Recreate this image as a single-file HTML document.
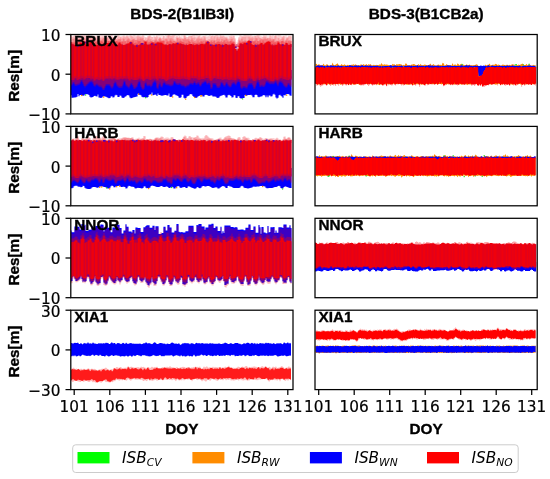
<!DOCTYPE html><html><head><meta charset="utf-8"><style>html,body{margin:0;padding:0;background:#fff}svg{display:block;filter:blur(0.35px)}</style></head><body><svg width="550" height="479" viewBox="0 0 550 479"><rect width="550" height="479" fill="#fff"/><defs><clipPath id="c00"><rect x="70.8" y="34.5" width="222.2" height="79.4"/></clipPath><clipPath id="c01"><rect x="70.8" y="126.4" width="222.2" height="79.4"/></clipPath><clipPath id="c02"><rect x="70.8" y="218.3" width="222.2" height="79.4"/></clipPath><clipPath id="c03"><rect x="70.8" y="310.2" width="222.2" height="79.4"/></clipPath><clipPath id="c10"><rect x="315.0" y="34.5" width="222.2" height="79.4"/></clipPath><clipPath id="c11"><rect x="315.0" y="126.4" width="222.2" height="79.4"/></clipPath><clipPath id="c12"><rect x="315.0" y="218.3" width="222.2" height="79.4"/></clipPath><clipPath id="c13"><rect x="315.0" y="310.2" width="222.2" height="79.4"/></clipPath></defs><g clip-path="url(#c00)"><path fill="none" stroke="#f0000c" stroke-width="1.15" stroke-opacity="0.2" d="M71 34.6v12.4m1-9.8v9.8m1-10.1v10.1m1-11.5v11.5m1-11.9v11.9m1-11.4v11.4m1-11.4v11.4m1-12.4v12.4m1-11v11m1-8.8v8.8m1-9.4v9.4m1-12.3v12.3m1-11.1v11.1m1-12.2v12.2m1-11.7v11.7m1-11.6v11.6m1-10.9v10.9m1-12.1v12.1m1-12.2v12.2m1-11.1v11.1m1-10.8v10.8m1-9.5v9.5m1-11.7v11.7m1-11.2v11.2m1-8.7v8.7m1-10.9v10.9m1-11.6v11.6m1-10.1v10.1m1-9.5v9.5m1-12.4v12.4m1-10.7v10.7m1-12v12m1-11v11m1-11.7v11.7m1-11.1v11.1m1-11.9v11.9m1-11.4v11.4m1-10.4v10.4m1-12.1v12.1m1-10.9v10.9m1-11.8v11.8m1-12v12m1-10.3v10.3m1-9.9v9.9m1-11.2v11.2m1-10.8v10.8m1-9v9m1-12.2v12.2m1-11.4v11.4m1-11v11m1-9.7v9.7m1-10.9v10.9m1-11.2v11.2m1-11.7v11.7m1-10.6v10.6m1-9.8v9.8m1-11.3v11.3m1-11.3v11.3m1-9v9m1-11.8v11.8m1-12v12m1-10.9v10.9m1-11.6v11.6m1-12.5v12.5m1-11.8v11.8m1-10.7v10.7m1-11.3v11.3m1-12.3v12.3m1-11.5v11.5m1-11.5v11.5m1-10.3v10.3m1-11.3v11.3m1-12.1v12.1m1-11.2v11.2m1-10v10m1-8.9v8.9m1-9.4v9.4m1-10.7v10.7m1-11.6v11.6m1-12.3v12.3m1-10.5v10.5m1-10v10m1-10v10m1-11.4v11.4m1-9.9v9.9m1-9.3v9.3m1-11.9v11.9m1-9.9v9.9m1-12v12m1-9.5v9.5m1-8.5v8.5m1-8.9v8.9m1-11.4v11.4m1-11.1v11.1m1-9.3v9.3m1-11.7v11.7m1-11v11m1-11.9v11.9m1-12.5v12.5m1-12.1v12.1m1-11v11m1-11.7v11.7m1-11.9v11.9m1-12.3v12.3m1-12.1v12.1m1-9.9v9.9m1-11.5v11.5m1-10.1v10.1m1-12.1v12.1m1-9.6v9.6m1-9.8v9.8m1-11.4v11.4m1-8.3v8.3m1-12.4v12.4m1-11.6v11.6m1-9.6v9.6m1-9.9v9.9m1-7.4v7.4m1-10.9v10.9m1-11.2v11.2m1-11.3v11.3m1-10.8v10.8m1-12v12m1-11.8v11.8m1-12.1v12.1m1-10.3v10.3m1-12.5v12.5m1-10.7v10.7m1-11.7v11.7m1-11.8v11.8m1-8.2v8.2m1-9.6v9.6m1-10.9v10.9m1-11.3v11.3m1-11.3v11.3m1-11.4v11.4m1-9.9v9.9m1-10.9v10.9m1-10.5v10.5m1-12.3v12.3m1-11.1v11.1m1-11v11m1-11.5v11.5m1-10.2v10.2m1-11.4v11.4m1-12.3v12.3m1-12v12m1-11.8v11.8m1-8.7v8.7m1-12.4v12.4m1-12v12m1-10.3v10.3m1-11.3v11.3m1-11.2v11.2m1-11.1v11.1m1-8.5v8.5m1-11v11m1-8.8v8.8m1-8.2v8.2m1-10.9v10.9m1-11.7v11.7m1-11.6v11.6m1-11.4v11.4m1-11.4v11.4m1-9v9m1-5.2v5.2m1-0.3v0.3m1-6.8v6.8m1-9.5v9.5m1-12.2v12.2m1-11.6v11.6m1-11.3v11.3m1-10.9v10.9m1-11.9v11.9m1-11.9v11.9m1-12.3v12.3m1-11.6v11.6m1-12.2v12.2m1-11.5v11.5m1-11.7v11.7m1-12.5v12.5m1-11.3v11.3m1-9.8v9.8m1-10.7v10.7m1-11v11m1-11v11m1-12.1v12.1m1-11.4v11.4m1-11.9v11.9m1-11.4v11.4m1-10.4v10.4m1-10.8v10.8m1-9.9v9.9m1-12.4v12.4m1-10.2v10.2m1-12.5v12.5m1-9.4v9.4m1-8.9v8.9m1-9.5v9.5m1-11.5v11.5m1-11.4v11.4m1-9.6v9.6m1-11.9v11.9m1-10.5v10.5m1-11.6v11.6m1-12v12m1-10.6v10.6m1-12.2v12.2m1-11.8v11.8m1-12.2v12.2m1-11.2v11.2m1-10.6v10.6m1-10.9v10.9m1-11.5v11.5m1-10.3v10.3m1-11.8v11.8m1-9.1v9.1m1-10.6v10.6m1-11.5v11.5m1-11.1v11.1m1-11.6v11.6"/><path fill="none" stroke="#f0000c" stroke-width="1.15" stroke-opacity="0.2" d="M71 35.9v11.1m1-11.2v11.2m1-4.5v4.5m1-10.9v10.9m1-8.4v8.4m1-9.4v9.4m1-7.1v7.1m1-7v7m1-8.7v8.7m1-9v9m1-6.5v6.5m1-11.4v11.4m1-8.2v8.2m1-10.7v10.7m1-5.8v5.8m1-11.1v11.1m1-10.2v10.2m1-10.2v10.2m1-10.6v10.6m1-9.8v9.8m1-8.9v8.9m1-7.1v7.1m1-10.8v10.8m1-10.9v10.9m1-10.4v10.4m1-8.5v8.5m1-6.3v6.3m1-10.3v10.3m1-9.4v9.4m1-8.7v8.7m1-9.4v9.4m1-8.4v8.4m1-10.3v10.3m1-9.3v9.3m1-5.4v5.4m1-9.1v9.1m1-9.6v9.6m1-9.7v9.7m1-7.7v7.7m1-10.4v10.4m1-9.8v9.8m1-6.9v6.9m1-7.8v7.8m1-10v10m1-11.5v11.5m1-7.9v7.9m1-7.8v7.8m1-10.5v10.5m1-8v8m1-9.7v9.7m1-10.2v10.2m1-5.8v5.8m1-9.4v9.4m1-10.7v10.7m1-9.6v9.6m1-11v11m1-11.4v11.4m1-10.1v10.1m1-10.9v10.9m1-8v8m1-11.1v11.1m1-10.6v10.6m1-9.9v9.9m1-8.3v8.3m1-9.4v9.4m1-6.9v6.9m1-10.5v10.5m1-10.7v10.7m1-10.5v10.5m1-10.1v10.1m1-10.7v10.7m1-9.5v9.5m1-10.7v10.7m1-6.8v6.8m1-7.5v7.5m1-10v10m1-6.8v6.8m1-10.8v10.8m1-10.4v10.4m1-11v11m1-8.1v8.1m1-10.3v10.3m1-0.6v0.6m1-7.7v7.7m1-10.5v10.5m1-10.6v10.6m1-10.9v10.9m1-6.1v6.1m1-8v8m1-10.1v10.1m1-11.4v11.4m1-6.6v6.6m1-9.4v9.4m1-11v11m1-2.8v2.8m1-9.2v9.2m1-8.8v8.8m1-11.4v11.4m1-11.4v11.4m1-9v9m1-11.1v11.1m1-9.2v9.2m1-10.9v10.9m1-3.6v3.6m1-7.7v7.7m1-3.2v3.2m1-11.1v11.1m1-8.9v8.9m1-9.6v9.6m1-11v11m1-5.7v5.7m1-8.7v8.7m1-8.8v8.8m1-10.9v10.9m1-11.4v11.4m1-10.5v10.5m1-7.6v7.6m1-9.9v9.9m1-10.4v10.4m1-7.7v7.7m1-10.9v10.9m1-11.3v11.3m1-9.1v9.1m1-9.8v9.8m1-9.6v9.6m1-3.1v3.1m1-8.4v8.4m1-9.8v9.8m1-10.9v10.9m1-8.4v8.4m1-10.2v10.2m1-10.4v10.4m1-4.1v4.1m1-10.8v10.8m1-9.9v9.9m1-6.7v6.7m1-6v6m1-7.2v7.2m1-8v8m1-4.9v4.9m1-9.8v9.8m1-11.4v11.4m1-8.6v8.6m1-11.1v11.1m1-10.8v10.8m1-7v7m1-10.2v10.2m1-10.2v10.2m1-10.5v10.5m1-10.1v10.1m1-11.1v11.1m1-10.5v10.5m1-11.5v11.5m1-9.2v9.2m1-10v10m1-9.9v9.9m1-9.7v9.7m1-6.3v6.3m1-11.2v11.2m1-8.5v8.5m1-10.3v10.3m1-9.8v9.8m1-9.3v9.3m1-11.1v11.1m1-7.7v7.7m1-2.7v2.7m2-4.3v4.3m1-9.7v9.7m1-6.7v6.7m1-4.4v4.4m1-10.2v10.2m1-9.9v9.9m1-10.2v10.2m1-10v10m1-10.4v10.4m1-6.8v6.8m1-10.4v10.4m1-10.2v10.2m1-10.4v10.4m1-9.2v9.2m1-9.9v9.9m1-10.9v10.9m1-9.1v9.1m1-11.4v11.4m1-10.8v10.8m1-9.2v9.2m1-11.4v11.4m1-9.9v9.9m1-7.1v7.1m1-8.5v8.5m1-7.7v7.7m1-9.7v9.7m1-11.2v11.2m1-10.2v10.2m1-10.7v10.7m1-8.7v8.7m1-11.2v11.2m1-7.1v7.1m1-11.4v11.4m1-7.3v7.3m1-11v11m1-7.9v7.9m1-7.7v7.7m1-11.1v11.1m1-11.3v11.3m1-6.5v6.5m1-9.3v9.3m1-5v5m1-7.1v7.1m1-6v6m1-9.4v9.4m1-10v10m1-11v11m1-7.2v7.2m1-7.6v7.6m1-10v10m1-9.2v9.2m1-10.7v10.7m1-7v7m1-10.5v10.5"/><path fill="none" stroke="#f0000c" stroke-width="1.15" stroke-opacity="0.25" d="M71 40.3v6.7m1-4.7v4.7m1-7.9v7.9m1-8.6v8.6m1-6.4v6.4m1-5.6v5.6m1-7.9v7.9m1-7.1v7.1m1-7.9v7.9m1-8.1v8.1m1-8.2v8.2m1-6.3v6.3m1-4.8v4.8m1-8.3v8.3m1-8.5v8.5m1-7.6v7.6m1-4.3v4.3m1-9v9m1-6.3v6.3m1-3v3m1-7.2v7.2m1-8.6v8.6m1-8.5v8.5m1-2.7v2.7m1-7.2v7.2m1-4.9v4.9m1-7.2v7.2m1-7.3v7.3m1-7.2v7.2m1-5.1v5.1m1-6.7v6.7m1-5.6v5.6m1-8.4v8.4m1-8.8v8.8m1-7v7m1-5.1v5.1m1-8.8v8.8m1-6.4v6.4m1-5.9v5.9m1-6.5v6.5m1-8v8m1-3.8v3.8m1-8.7v8.7m1-6.6v6.6m1-8.2v8.2m1-6.1v6.1m1-6.4v6.4m1-7.2v7.2m1-8.1v8.1m1-7.5v7.5m1-8.2v8.2m1-6v6m1-8.5v8.5m1-8v8m1-5.9v5.9m1-6.1v6.1m1-7.2v7.2m1-8.2v8.2m1-8.4v8.4m1-6.4v6.4m1-6.5v6.5m1-6.9v6.9m1-8.1v8.1m1-8.3v8.3m1-7.1v7.1m1-7.2v7.2m1-7v7m1-8.6v8.6m1-6.4v6.4m1-8.3v8.3m1-8.7v8.7m1-7.8v7.8m1-8.9v8.9m1-7v7m1-5.9v5.9m1-5.4v5.4m1-7v7m1-8.6v8.6m1-5.6v5.6m1-7.5v7.5m1-5.8v5.8m1-6.3v6.3m1-6.9v6.9m1-5.1v5.1m1-7v7m1-7.8v7.8m1-6.7v6.7m1-6.2v6.2m1-8.5v8.5m1-8.9v8.9m1-7.8v7.8m1-6.6v6.6m1-6.7v6.7m1-6.8v6.8m1-7.8v7.8m1-8.1v8.1m1-7.6v7.6m1-6.3v6.3m1-5.6v5.6m1-7.6v7.6m1-8.6v8.6m1-5.6v5.6m1-7.7v7.7m1-6.5v6.5m1-6.2v6.2m1-6.3v6.3m1-8.9v8.9m1-8.5v8.5m1-6.3v6.3m1-8.1v8.1m1-8.2v8.2m1-5.7v5.7m1-8.1v8.1m1-7.5v7.5m1-9v9m1-7.5v7.5m1-7.8v7.8m1-8.6v8.6m1-7.6v7.6m1-5v5m1-6.9v6.9m1-8.6v8.6m1-6.7v6.7m1-5.6v5.6m1-6v6m1-6.7v6.7m1-8.6v8.6m1-6.4v6.4m1-8.4v8.4m1-4.8v4.8m1-8.6v8.6m1-5.8v5.8m1-8.3v8.3m1-6.2v6.2m1-8.4v8.4m1-6.5v6.5m1-7.1v7.1m1-6.1v6.1m1-5.7v5.7m1-7.6v7.6m1-3.9v3.9m1-7v7m1-5.1v5.1m1-7v7m1-6.5v6.5m1-4.5v4.5m1-8.4v8.4m1-4.8v4.8m1-7.8v7.8m1-4.5v4.5m1-2.4v2.4m1-8v8m1-3.3v3.3m1-7.5v7.5m1-6.9v6.9m1-8.7v8.7m1-8.2v8.2m1-7.5v7.5m1-4.9v4.9m1-5.9v5.9m1-7.6v7.6m1-8.1v8.1m1-5.4v5.4m1-5v5m1-1.7v1.7m1-1.1v1.1m2-4.6v4.6m1-7.4v7.4m1-5.2v5.2m1-8.4v8.4m1-8.2v8.2m1-5.2v5.2m1-5.8v5.8m1-6.8v6.8m1-5.5v5.5m1-5.1v5.1m1-6.2v6.2m1-6.7v6.7m1-8.6v8.6m1-6.3v6.3m1-8.5v8.5m1-5.8v5.8m1-4.9v4.9m1-6.5v6.5m1-8.7v8.7m1-8.5v8.5m1-6v6m1-5.5v5.5m1-8.9v8.9m1-8.5v8.5m1-7.7v7.7m1-7.8v7.8m1-7.8v7.8m1-8.4v8.4m1-8.1v8.1m1-7.8v7.8m1-8.7v8.7m1-7.4v7.4m1-8.9v8.9m1-8.1v8.1m1-3.3v3.3m1-7.8v7.8m1-8.2v8.2m1-5.3v5.3m1-3.8v3.8m1-4.6v4.6m1-6v6m1-8.7v8.7m1-2.9v2.9m1-8v8m1-6v6m1-8.4v8.4m1-2.8v2.8m1-3.2v3.2m1-6.5v6.5m1-8.5v8.5m1-5.8v5.8m1-6.2v6.2m1-5.2v5.2m1-6.2v6.2"/><path fill="none" stroke="#f0000c" stroke-width="1.15" stroke-opacity="0.3" d="M71 43.4v3.6m1-5v5m1-4.3v4.3m1-4.8v4.8m1-4.3v4.3m1-4.8v4.8m1-4.1v4.1m1-4.9v4.9m1-6.3v6.3m1-5.6v5.6m1-4.7v4.7m1-6v6m1-2.7v2.7m1-5.9v5.9m1-5.7v5.7m1-5.1v5.1m1-4v4m1-3.1v3.1m1-5.9v5.9m1-4.2v4.2m1-3.7v3.7m1-3.2v3.2m1-6.1v6.1m1-4.7v4.7m1-6.5v6.5m1-5.1v5.1m1-5.9v5.9m1-3.4v3.4m1-5.7v5.7m1-6.2v6.2m1-5.8v5.8m1-6.4v6.4m1-4.8v4.8m1-4.7v4.7m1-5.8v5.8m1-6.3v6.3m1-1.7v1.7m1-5.7v5.7m1-6.1v6.1m1-2.4v2.4m1-6.5v6.5m1-4.3v4.3m1-5.2v5.2m1-4.7v4.7m1-5.5v5.5m1-5.8v5.8m1-6.2v6.2m1-5v5m1-5.4v5.4m1-5.3v5.3m1-4.2v4.2m1-5.1v5.1m1-5.4v5.4m1-2.4v2.4m1-5.4v5.4m1-3.5v3.5m1-3.9v3.9m1-6.2v6.2m1-3.7v3.7m1-5.6v5.6m1-5.2v5.2m1-4.6v4.6m1-6.4v6.4m1-4.1v4.1m1-3.7v3.7m1-4.4v4.4m1-3.6v3.6m1-6.2v6.2m1-5.4v5.4m1-5.9v5.9m1-2.7v2.7m1-4.5v4.5m1-2.9v2.9m1-6.3v6.3m1-6.2v6.2m1-6.1v6.1m1-5.5v5.5m1-3.6v3.6m1-4.8v4.8m1-4.6v4.6m1-5.8v5.8m1-5.3v5.3m1-5v5m1-5v5m1-5.7v5.7m1-5.2v5.2m1-4.6v4.6m1-5.6v5.6m1-4.6v4.6m1-6.2v6.2m1-6v6m1-5.8v5.8m1-6v6m1-6.1v6.1m1-2.8v2.8m1-3.3v3.3m1-4.9v4.9m1-5.4v5.4m1-3.8v3.8m1-6.1v6.1m1-6.4v6.4m1-5.3v5.3m1-3.4v3.4m1-6.1v6.1m1-4.1v4.1m1-4.7v4.7m1-3.8v3.8m1-4.2v4.2m1-5v5m1-5.5v5.5m1-6.5v6.5m1-5.1v5.1m1-5v5m1-4.4v4.4m1-2.8v2.8m1-4.1v4.1m1-4.3v4.3m1-3.6v3.6m1-5.9v5.9m1-5.2v5.2m1-2.5v2.5m1-1.5v1.5m1-4.8v4.8m1-4v4m1-4v4m1-4.2v4.2m1-4.2v4.2m1-3.6v3.6m1-4.5v4.5m1-4.2v4.2m1-5.9v5.9m1-4.9v4.9m1-6.4v6.4m1-4.1v4.1m1-3.7v3.7m1-5.7v5.7m1-3.7v3.7m1-2.2v2.2m1-2.9v2.9m1-4.6v4.6m1-6.2v6.2m1-5.2v5.2m1-2.3v2.3m1-5.9v5.9m1-3.8v3.8m1-3.9v3.9m1-5.1v5.1m1-5.8v5.8m1-5.4v5.4m1-5.1v5.1m1-6v6m1-4.6v4.6m1-5.1v5.1m1-6.3v6.3m1-4.1v4.1m1-4.7v4.7m1-1v1m1-5.5v5.5m1-2.2v2.2m1-5.6v5.6m1-6.1v6.1m1-4.7v4.7m1-5.5v5.5m1-5.6v5.6m1-3.6v3.6m1-2.2v2.2m1-0.6v0.6m1-2v2m1-3.3v3.3m1-6.2v6.2m1-4.6v4.6m1-5.2v5.2m1-5.5v5.5m1-5.5v5.5m1-1.3v1.3m1-6v6m1-4.4v4.4m1-2.6v2.6m1-6.4v6.4m1-6v6m1-4.4v4.4m1-3.1v3.1m1-5.9v5.9m1-5.8v5.8m1-6.3v6.3m1-4.1v4.1m1-4.3v4.3m1-6v6m1-3.1v3.1m1-6.2v6.2m1-3v3m1-4.5v4.5m1-6.5v6.5m1-4.7v4.7m1-4.3v4.3m1-3.6v3.6m1-6v6m1-5.4v5.4m1-3.6v3.6m1-4.6v4.6m1-6v6m1-6.3v6.3m1-6.4v6.4m1-4.2v4.2m1-5.2v5.2m1-5.4v5.4m1-6.3v6.3m1-6v6m1-6v6m1-2.2v2.2m1-5.2v5.2m1-6v6m1-5.9v5.9m1-5.3v5.3m1-5.6v5.6m1-5.6v5.6m1-4.5v4.5m1-3.5v3.5m1-6.5v6.5m1-4.1v4.1m1-6v6"/><path fill="none" stroke="#0000ff" stroke-width="1.15" d="M71 70v25.3m1-25.3v27.8m1-27.8v27.8m1-27.8v27.6m1-27.6v27.5m1-27.5v27.3m1-27.3v26.7m1-26.7v24m1-24v26.2m1-26.2v25.1m1-25.1v24.9m1-24.9v25.6m1-25.6v25.8m1-25.8v25.5m1-25.5v24.5m1-24.5v24.1m1-24.1v24.2m1-24.2v24.3m1-24.3v24.9m1-24.9v26.8m1-26.8v27.4m1-27.4v27.3m1-27.3v26.9m1-26.9v26m1-26v25.8m1-25.8v26.2m1-26.2v26.5m1-26.5v24.6m1-24.6v27.4m1-27.4v27.7m1-27.7v27.9m1-27.9v27.5m1-27.5v26.6m1-26.6v26.3m1-26.3v26.6m1-26.6v26.8m1-26.8v27.3m1-27.3v27.7m1-27.7v28.3m1-28.3v28m1-28v26.4m1-26.4v26.3m1-26.3v27.5m1-27.5v27.3m1-27.3v25.4m1-25.4v24.7m1-24.7v25.3m1-25.3v26.9m1-26.9v27m1-27v25.6m1-25.6v25.7m1-25.7v27.4m1-27.4v28m1-28v27.7m1-27.7v26.8m1-26.8v26.2m1-26.2v25.2m1-25.2v24.9m1-24.9v25.6m1-25.6v27.6m1-27.6v28.2m1-28.2v28m1-28v27.4m1-27.4v27.2m1-27.2v27.1m1-27.1v26.7m1-26.7v26.5m1-26.5v23.7m1-23.7v25.1m1-25.1v24.8m1-24.8v25.3m1-25.3v26.7m1-26.7v27.2m1-27.2v27.2m1-27.2v27.2m1-27.2v27.3m1-27.3v27.7m1-27.7v27.1m1-27.1v25m1-25v24.2m1-24.2v24.4m1-24.4v22.5m1-22.5v25.2m1-25.2v25.1m1-25.1v24.6m1-24.6v24.8m1-24.8v26m1-26v23.6m1-23.6v25.1m1-25.1v25m1-25v25.5m1-25.5v25.7m1-25.7v25.5m1-25.5v25.2m1-25.2v25m1-25v25.1m1-25.1v25.5m1-25.5v25.6m1-25.6v23.4m1-23.4v26.7m1-26.7v27m1-27v26.5m1-26.5v24.8m1-24.8v24.3m1-24.3v24.5m1-24.5v25.3m1-25.3v25.6m1-25.6v26.1m1-26.1v27.5m1-27.5v28m1-28v27.2m1-27.2v24.7m1-24.7v24.8m1-24.8v27.7m1-27.7v28.6m1-28.6v28.1m1-28.1v26.5m1-26.5v26m1-26v25.6m1-25.6v24.3m1-24.3v23.9m1-23.9v24.5m1-24.5v26.1m1-26.1v27m1-27v27.7m1-27.7v27.9m1-27.9v27.6m1-27.6v26.5m1-26.5v26m1-26v25.5m1-25.5v25.3m1-25.3v25.6m1-25.6v26.5m1-26.5v26.4m1-26.4v25.1m1-25.1v24.7m1-24.7v24.9m1-24.9v25.6m1-25.6v25.9m1-25.9v25.7m1-25.7v25.2m1-25.2v25.4m1-25.4v26.4m1-26.4v26.6m1-26.6v26.4m1-26.4v26.7m1-26.7v27.7m1-27.7v28.1m1-28.1v27.6m1-27.6v26.2m1-26.2v25.7m1-25.7v25.5m1-25.5v24.9m1-24.9v24.7m1-24.7v25.4m1-25.4v27.6m1-27.6v27.6m1-27.6v25.3m1-25.3v24.7m1-24.7v25.3m1-25.3v26m1-26v27.5m1-27.5v27.3m1-27.3v25.2m1-25.2v25.3m1-25.3v27.7m1-27.7v28m1-28v26.2m1-26.2v26.2m1-26.2v27.9m1-27.9v28.5m1-28.5v28.4m1-28.4v28m1-28v27.9m1-27.9v24.9m1-24.9v26m1-26v25.4m1-25.4v25.1m1-25.1v25m1-25v24.9m1-24.9v24.8m1-24.8v25.4m1-25.4v27.3m1-27.3v27.3m1-27.3v25.1m1-25.1v24.4m1-24.4v25m1-25v26.8m1-26.8v27.2m1-27.2v26.8m1-26.8v26.6m1-26.6v26.3m1-26.3v25.3m1-25.3v25m1-25v25.6m1-25.6v27.3m1-27.3v25.4m1-25.4v27.3m1-27.3v25.6m1-25.6v25.4m1-25.4v26.6m1-26.6v26.3m1-26.3v24.4m1-24.4v23.8m1-23.8v24.7m1-24.7v27.6m1-27.6v28.5m1-28.5v27.7m1-27.7v25.3m1-25.3v24.8m1-24.8v25.7m1-25.7v26.4m1-26.4v27.7m1-27.7v25m1-25v25.5m1-25.5v24.6m1-24.6v24.1m1-24.1v23.9m1-23.9v24.3m1-24.3v25.4m1-25.4v25.8"/><rect x="81" y="94.8" width="1.3" height="1.3" fill="#ff8c00"/><rect x="103" y="96.4" width="1.3" height="1.3" fill="#ff8c00"/><rect x="138" y="93.5" width="1.3" height="1.3" fill="#ff8c00"/><rect x="151" y="94.3" width="1.3" height="1.3" fill="#ff8c00"/><rect x="172" y="96.3" width="1.3" height="1.3" fill="#ff8c00"/><rect x="185" y="98.5" width="1.3" height="1.3" fill="#ff8c00"/><rect x="194" y="96.8" width="1.3" height="1.3" fill="#ff8c00"/><rect x="200" y="95.3" width="1.3" height="1.3" fill="#ff8c00"/><rect x="201" y="95.2" width="1.3" height="1.3" fill="#ff8c00"/><rect x="245" y="94.8" width="1.3" height="1.3" fill="#ff8c00"/><rect x="286" y="94.5" width="1.3" height="1.3" fill="#ff8c00"/><rect x="85" y="94.4" width="1.2" height="1.2" fill="#20e020"/><rect x="145" y="97.1" width="1.2" height="1.2" fill="#20e020"/><rect x="242" y="98.3" width="1.2" height="1.2" fill="#20e020"/><path fill="none" stroke="#f0000c" stroke-width="1.15" d="M71 41.9v38.1m1-36.2v36.3m1-35.7v35.9m1-35.8v35.4m1-35v33.6m1-33.5v33.5m1-33.3v34.8m1-34.8v35.1m1-35.9v35.1m1-37.1v36.6m1-36.3v35.7m1-35.3v35.1m1-35.5v35.8m1-37.2v38.2m1-37.8v37.8m1-35.1v34m1-33.3v33m1-33.8v33.8m1-34.6v34.5m1-36v36.3m1-36.8v37.5m1-37.1v36.7m1-36v36.3m1-35.7v37.4m1-36.1v36.2m1-35.7v34.6m1-34.6v34.3m1-34.6v35m1-35.7v36.2m1-36.2v36.1m1-35.2v34.3m1-34v34.2m1-34.4v35.9m1-36.6v36.5m1-37v35.3m1-35.9v35.4m1-35.7v35.8m1-35.7v35.7m1-35.6v35.5m1-35.6v35.6m1-36.2v36.4m1-36.3v36.8m1-35.8v35.2m1-34.8v34.6m1-34.5v34.6m1-34.1v34.4m1-33.9v34.8m1-35.3v35.3m1-37.1v36.9m1-37v36.6m1-35.2v34.6m1-33.9v34.4m1-34.1v34.1m1-34v33.3m1-33.7v34m1-34.3v34.3m1-34.9v34.7m1-34.9v35.4m1-35.8v37.3m1-38.4v38.6m1-39v37.8m1-37.1v36.9m1-34.7v35.4m1-34.7v34.9m1-34.9v34.7m1-34.8v34.8m1-34.8v34.9m1-34.9v34.6m1-34.8v33.7m1-34.3v34m1-35.3v36m1-36v36.6m1-35v36.3m1-36.7v36.9m1-39.4v38.5m1-38.6v37.4m1-34.9v34.6m1-33.8v33.9m1-34v34.5m1-35.5v36.1m1-36.7v36.6m1-37.5v36.6m1-36.5v36.3m1-35.3v35.2m1-34.9v34.7m1-35v35.4m1-36.3v37.9m1-38.2v38.1m1-37.9v36.3m1-36.3v35.9m1-36v36.4m1-36.1v36.2m1-35.2v35.3m1-34.6v34.9m1-34.6v35.6m1-35.2v36.1m1-36v35.9m1-36.2v35.1m1-35.8v35.1m1-35.3v35.1m1-34.6v34.2m1-34.4v34.2m1-35.2v35m1-35v35.1m1-34.5v35.1m1-36.2v36.3m1-36.4v36.2m1-35.3v35.7m1-35.5v35.8m1-36.3v36.3m1-36.2v35.6m1-34.9v34.7m1-34.4v34.3m1-34.1v34m1-33.5v34.2m1-34v34m1-34.2v33.8m1-34v34.9m1-35.5v35.8m1-36v35.6m1-35.8v34.7m1-34.5v34.2m1-33.3v33.5m1-33.2v33.3m1-33.5v33.5m1-34.2v34.1m1-34.1v34.4m1-33.9v34.7m1-34.8v35.1m1-35.4v35.3m1-35.8v35.3m1-35.5v35.4m1-35.2v35.3m1-34.7v34.5m1-34.9v34.3m1-36.1v35.9m1-36.6v36.4m1-36.8v36.8m1-36.1v36.7m1-34.3v36.1m1-35.2v35.8m1-35.8v35.3m1-35.5v33.8m1-34.1v33.5m1-33.5v33.5m1-33.6v33.7m1-33.9v34.3m1-34.5v34.6m1-34.8v34.8m1-34.6v34.6m1-33.9v34.1m1-33.9v34.7m1-34.7v34.8m1-35v34.6m1-35.3v35.2m1-35.4v35.2m1-35v34.7m1-34v35m1-34.8v35.1m1-35.3v34.9m1-35.3v35.1m1-36.1v36.2m1-36.3v36.5m1-35.8v36m1-33.7v34m1-31.6v31.3m1-29.6v28.2m1-30.1v29.7m1-32.6v33.1m1-35.4v35.9m1-36.2v37.2m1-36.7v37m1-36.5v36.6m1-38v38.2m1-38.6v38.7m1-38.2v38.4m1-38.7v38.2m1-39.8v38m1-38.4v37.8m1-37.3v37.4m1-36.5v36.7m1-34.4v34.9m1-34.1v35.6m1-35.6v36.1m1-36v35.8m1-35.7v35.1m1-35.2v33.5m1-33.6v33.5m1-33.8v35.2m1-36.2v36.4m1-37.5v36.4m1-36.2v35.9m1-34.3v34.4m1-34.3v33.7m1-35v34.7m1-35.6v36m1-36.4v37.4m1-38v38.4m1-38.6v38.8m1-38v38.8m1-36.4v36.7m1-35.8v36m1-36v36.1m1-36.1v35.6m1-35.7v34.4m1-34.5v34.4m1-35.1v36.2m1-38v38m1-38.1v36.8m1-35.1v34.5m1-34.3v33.8m1-33.9v34m1-33.8v34.5m1-33.9v34.2m1-34.6v34.7m1-36.4v36.8m1-36.8v37m1-35.3v35.5m1-35.1v34.8m1-35.4v34.5m1-34.7v34.4"/><path fill="none" stroke="#a00070" stroke-width="1.15" stroke-opacity="0.4" d="M71 77.5v2.5m1-2.4v2.5m1-2.3v2.5m1-2.9v2.5m1-3.9v2.5m1-2.5v2.5m1-1v2.5m1-2.2v2.5m1-3.3v2.5m1-3v2.5m1-3.1v2.5m1-2.7v2.5m1-2.2v2.5m1-1.5v2.5m1-2.5v2.5m1-3.6v2.5m1-2.8v2.5m1-2.5v2.5m1-2.6v2.5m1-2.2v2.5m1-1.8v2.5m1-2.9v2.5m1-2.2v2.5m1-0.8v2.5m1-2.4v2.5m1-3.6v2.5m1-2.8v2.5m1-2.1v2.5m1-2v2.5m1-2.6v2.5m1-3.4v2.5m1-2.3v2.5m1-1v2.5m1-2.6v2.5m1-4.2v2.5m1-3v2.5m1-2.4v2.5m1-2.5v2.5m1-2.6v2.5m1-2.5v2.5m1-2.3v2.5m1-2v2.5m1-3.1v2.5m1-2.7v2.5m1-2.4v2.5m1-2.2v2.5m1-1.6v2.5m1-2.5v2.5m1-2.7v2.5m1-2.9v2.5m1-3.1v2.5m1-2v2.5m1-2.5v2.5m1-3.2v2.5m1-2.2v2.5m1-2.5v2.5m1-2.7v2.5m1-2v2.5m1-1v2.5m1-2.3v2.5m1-3.7v2.5m1-2.7v2.5m1-1.8v2.5m1-2.3v2.5m1-2.7v2.5m1-2.5v2.5m1-2.4v2.5m1-2.8v2.5m1-3.6v2.5m1-2.8v2.5m1-1.8v2.5m1-1.9v2.5m1-1.2v2.5m1-2.3v2.5m1-3.4v2.5m1-3.7v2.5m1-2.8v2.5m1-2.4v2.5m1-2v2.5m1-1.9v2.5m1-2.6v2.5m1-3.4v2.5m1-2.7v2.5m1-2.6v2.5m1-2.7v2.5m1-2.1v2.5m1-0.9v2.5m1-2.6v2.5m1-4.1v2.5m1-2.9v2.5m1-2.1v2.5m1-2.4v2.5m1-2.4v2.5m1-2.2v2.5m1-1.5v2.5m1-1.6v2.5m1-2.6v2.5m1-3.6v2.5m1-3.2v2.5m1-2.7v2.5m1-2.9v2.5m1-2.7v2.5m1-2.7v2.5m1-2.4v2.5m1-1.9v2.5m1-2.4v2.5m1-2.7v2.5m1-2.1v2.5m1-2.2v2.5m1-2.5v2.5m1-3.1v2.5m1-2.7v2.5m1-2.6v2.5m1-2.6v2.5m1-1.8v2.5m1-2.5v2.5m1-2.9v2.5m1-1.6v2.5m1-2.2v2.5m1-2.9v2.5m1-3.6v2.5m1-2.8v2.5m1-2.3v2.5m1-2.4v2.5m1-2.5v2.5m1-2.6v2.5m1-2.2v2.5m1-1.7v2.5m1-2.2v2.5m1-2.6v2.5m1-3v2.5m1-2.6v2.5m1-2.4v2.5m1-2.7v2.5m1-3.1v2.5m1-2.7v2.5m1-2.7v2.5m1-2.5v2.5m1-1.9v2.5m1-0.7v2.5m1-1.9v2.5m1-3v2.5m1-4.2v2.5m1-3.1v2.5m1-2.5v2.5m1-2.4v2.5m1-2.1v2.5m1-2.4v2.5m1-2.5v2.5m1-2.5v2.5m1-2.3v2.5m1-1.7v2.5m1-2.4v2.5m1-2.9v2.5m1-2.6v2.5m1-2.7v2.5m1-2.8v2.5m1-1.5v2.5m1-2.2v2.5m1-2.9v2.5m1-2.7v2.5m1-2.4v2.5m1-2.3v2.5m1-2.3v2.5m1-2.2v2.5m1-2.8v2.5m1-3.9v2.5m1-2.9v2.5m1-2v2.5m1-2v2.5m1-1.5v2.5m1-2.2v2.5m1-2.4v2.5m1-2.3v2.5m1-2.4v2.5m1-2.3v2.5m1-3v2.5m1-4.3v2.5m1-3.1v2.5m1-2.4v2.5m1-2.3v2.5m1-2v2.5m1-1v2.5m1-2v2.5m1-2.7v2.5m1-3.1v2.5m1-4.2v2.5m1-2.6v2.5m1-1.1v2.5m1-2.3v2.5m1-3.6v2.5m1-2.8v2.5m1-2.4v2.5m1-3.1v2.5m1-2.8v2.5m1-2.1v2.5m1-1.5v2.5m1-2.1v2.5m1-2.3v2.5m1-1.7v2.5m1-2.2v2.5m1-2.3v2.5m1-2.4v2.5m1-3v2.5m1-3.8v2.5m1-2.6v2.5m1-1.4v2.5m1-2.5v2.5m1-3.8v2.5m1-3.1v2.5m1-3v2.5m1-2.4v2.5m1-1.8v2.5m1-2.2v2.5m1-2.4v2.5m1-2.1v2.5m1-2.3v2.5m1-2.3v2.5m1-2.8v2.5m1-3.4v2.5m1-2.8v2.5"/><path fill="none" stroke="#f0000c" stroke-width="1.15" stroke-opacity="0.55" d="M71 80v4.2m1-4.1v3.6m1-3.4v1.7m1-2.1v2.2m1-3.6v5.6m1-5.6v6m1-4.5v3.9m1-3.6v3.4m1-4.2v3.9m1-4.4v3.6m1-4.2v1.9m1-2.1v1.9m1-1.6v3.8m1-2.8v5m1-5v6.4m1-7.5v6.4m1-6.7v5.8m1-5.8v4.7m1-4.8v4.1m1-3.8v2.7m1-2v1.8m1-2.2v2.1m1-1.8v3.3m1-1.6v3.9m1-3.8v4.5m1-5.6v4.5m1-4.8v4.1m1-3.7v4.7m1-4.2v5.1m1-5.2v5.7m1-6.6v6.3m1-6.1v7.4m1-5.9v7.7m1-7.8v7.7m1-9.4v7.2m1-7.7v5.7m1-5.6v5.2m1-5.2v5.2m1-5.3v5.5m1-5.5v6.1m1-5.9v7.5m1-7v8m1-8.6v7.2m1-7.4v4.4m1-4.3v2.7m1-2.4v3m1-2.1v4.7m1-4.7v5.7m1-5.9v6.9m1-7.3v7.4m1-8v7.6m1-7.1v7.1m1-7.1v4.7m1-5.4v2.1m1-1.8v2.3m1-2.3v5.5m1-5.7v6.7m1-6.2v7.1m1-5.6v6.5m1-6.3v3.9m1-5.1v3.3m1-3.5v4m1-3.3v4.9m1-4.7v7.2m1-7.4v7.6m1-7.6v6.5m1-6.4v5.3m1-5.6v2.8m1-3.9v1.9m1-2.2v2.8m1-2.1v6.4m1-5.8v7.7m1-6.4v7.4m1-7.2v6.2m1-7.1v2.8m1-4v2.7m1-3v5.7m1-5.6v6.2m1-5.7v4.8m1-4.2v4.7m1-4.8v5.8m1-6.7v5.6m1-5.8v3.3m1-3.4v2.4m1-2.6v1.6m1-1.2v2.6m1-1v6.3m1-6.4v7.4m1-9v5.5m1-5.9v3.8m1-3.4v6.7m1-6.6v7.2m1-7.1v4.2m1-3.9v2.2m1-1.2v2m1-1.1v2.2m1-2.3v2.7m1-3.8v3.9m1-4.6v4.7m1-4.9v5.6m1-6v6m1-6.2v6.3m1-6.5v5.5m1-5.4v2.7m1-2.1v2.1m1-2v3.5m1-3.7v4.4m1-4v4.3m1-4v3.6m1-3.6v2.9m1-3.5v5.1m1-5.3v6m1-6.1v6m1-6.1v6.2m1-5.5v6.8m1-6.8v6.7m1-7.1v5.8m1-4.9v5.1m1-4.8v3.9m1-4.3v3m1-4.1v4.1m1-4.4v4.8m1-4.6v4.8m1-4.7v2.8m1-2.8v2.7m1-2.8v4.7m1-4.4v4.5m1-3.7v2.4m1-2.1v2.5m1-2.6v5.2m1-5.7v5.4m1-5.5v3.3m1-3.2v2.6m1-2.8v2.2m1-2.8v1.9m1-2.1v2.5m1-2.7v5m1-5v5m1-4.4v2.7m1-0.9v3.1m1-2.5v6.5m1-7v6.5m1-8.2v4m1-4.6v4.8m1-4.8v4.7m1-4.6v5.1m1-4.7v7.1m1-7v7.7m1-7.7v7.7m1-7.7v6.4m1-6.2v2.9m1-2.1v1.8m1-1.7v3m1-3.4v5.4m1-5.5v5.4m1-5.6v3.2m1-3.5v2.9m1-1.9v4.2m1-3.9v5m1-5.4v6.1m1-6.3v5.7m1-5.6v3.1m1-2.9v2.2m1-2v1.9m1-1.6v2.5m1-2.8v3.9m1-5.3v2.8m1-3.2v2.1m1-1.6v1.6m1-1.1v2.6m1-1.6v6.3m1-6v7m1-6.9v5.4m1-5.2v4.9m1-4.8v5.2m1-5v5.6m1-6.1v6.1m1-7.9v5.2m1-5.8v4.7m1-4.6v4.5m1-4.3v4.3m1-3.8v3.7m1-2.2v4.2m1-3.7v6.2m1-6.4v6.2m1-6.8v4m1-5.7v2.8m1-2.9v1.6m1-0.2v2.3m1-2.1v5.3m1-6.4v6.1m1-6.4v5.7m1-5.6v6.5m1-7.1v7.3m1-7.6v6.3m1-5.9v2.8m1-1.8v1.4m1-1v1.4m1-1.2v1.9m1-1.1v2m1-1.7v1.7m1-1.5v1.3m1-1.2v1.3m1-1.8v1.8m1-3.1v1.7m1-1.8v1.3m1-0.2v2.2m1-2.2v4.2m1-5.5v2.4m1-3v1.8m1-2.3v2.8m1-2.7v3.1m1-2.4v3.7m1-3.4v5.3m1-5.2v6m1-5.6v6.5m1-6.3v5.7m1-5.5v3.1m1-3.4v3.2m1-4.1v5.8m1-6.1v6.7"/><path fill="none" stroke="#f0000c" stroke-width="1.15" stroke-opacity="0.3" d="M71 84.2v1.5m1-2v1.5m1-3.2v1.5m1-1.4v1.5m1 0.5v1.5m1-1.1v1.5m1-2.1v1.5m1-1.7v1.5m1-1.8v1.5m1-2.3v1.5m1-3.8v1.5m1-1.7v1.5m1 0.7v1.5m1 0.7v1.5m1-0.1v1.5m1-2.6v1.5m1-2.4v1.5m1-2.6v1.5m1-2.2v1.5m1-2.6v1.5m1-1.7v1.5m1-1.6v1.5m1 0v1.5m1 0.8v1.5m1-0.8v1.5m1-2.6v1.5m1-2.2v1.5m1-0.5v1.5m1-0.6v1.5m1-1v1.5m1-1.8v1.5m1-0.2v1.5m1 0.3v1.5m1-1.6v1.5m1-3.7v1.5m1-3.5v1.5m1-1.9v1.5m1-1.5v1.5m1-1.3v1.5m1-0.9v1.5m1 0.1v1.5m1-0.5v1.5m1-2.9v1.5m1-4.5v1.5m1-3.1v1.5m1-0.9v1.5m1 1.1v1.5m1-0.5v1.5m1-0.5v1.5m1-1.4v1.5m1-1.9v1.5m1-1.5v1.5m1-3.9v1.5m1-4.8v1.5m1-1v1.5m1 1.7v1.5m1-0.5v1.5m1-0.6v1.5m1-0.6v1.5m1-3.9v1.5m1-3.3v1.5m1-1v1.5m1 0.1v1.5m1 1v1.5m1-1.3v1.5m1-2.6v1.5m1-2.6v1.5m1-4.3v1.5m1-3.5v1.5m1-0.9v1.5m1 2.8v1.5m1 0.4v1.5m1-0.5v1.5m1-2.5v1.5m1-5.8v1.5m1-2.8v1.5m1 1.2v1.5m1-0.9v1.5m1-2.4v1.5m1-1v1.5m1-0.5v1.5m1-2.6v1.5m1-4v1.5m1-2.5v1.5m1-2.5v1.5m1-0.1v1.5m1 3.8v1.5m1-0.5v1.5m1-5v1.5m1-3.6v1.5m1 1.8v1.5m1-0.9v1.5m1-4.4v1.5m1-3.2v1.5m1-0.7v1.5m1-0.4v1.5m1-1.1v1.5m1-1.4v1.5m1-1.4v1.5m1-0.8v1.5m1-1.5v1.5m1-1.4v1.5m1-2.5v1.5m1-4.2v1.5m1-1.5v1.5m1 0v1.5m1-0.8v1.5m1-1.2v1.5m1-1.9v1.5m1-2.2v1.5m1 0.1v1.5m1-0.8v1.5m1-1.6v1.5m1-1.4v1.5m1-0.2v1.5m1-1.6v1.5m1-2.8v1.5m1-1.3v1.5m1-2.4v1.5m1-2.8v1.5m1-1.5v1.5m1-1.1v1.5m1-1.3v1.5m1-3.4v1.5m1-1.6v1.5m1 0.4v1.5m1-1.4v1.5m1-2.8v1.5m1-1.1v1.5m1 1.1v1.5m1-1.8v1.5m1-3.7v1.5m1-2.1v1.5m1-2.1v1.5m1-2.4v1.5m1-1.1v1.5m1 0.8v1.5m1-1.5v1.5m1-3.2v1.5m1 0.7v1.5m1 2.5v1.5m1-2v1.5m1-5.7v1.5m1-1.3v1.5m1-1.6v1.5m1-1v1.5m1 0.9v1.5m1-0.8v1.5m1-1.5v1.5m1-2.8v1.5m1-4.8v1.5m1-1.8v1.5m1-0.2v1.5m1 0.5v1.5m1-1.6v1.5m1-3.9v1.5m1-2.1v1.5m1 0.8v1.5m1-0.4v1.5m1-0.8v1.5m1-2.1v1.5m1-4v1.5m1-2.2v1.5m1-1.6v1.5m1-0.6v1.5m1-0.4v1.5m1-4v1.5m1-2.6v1.5m1-1.5v1.5m1 0v1.5m1 3.2v1.5m1-0.5v1.5m1-3v1.5m1-1.8v1.5m1-1.1v1.5m1-0.9v1.5m1-1.5v1.5m1-4.2v1.5m1-2.6v1.5m1-1.6v1.5m1-1.5v1.5m1-1.6v1.5m1 0.5v1.5m1 1v1.5m1-1.7v1.5m1-4.3v1.5m1-4.4v1.5m1-2.8v1.5m1 0.6v1.5m1 1.7v1.5m1-1.8v1.5m1-2.2v1.5m1-0.6v1.5m1-1.3v1.5m1-2.8v1.5m1-4.6v1.5m1-1.9v1.5m1-1.1v1.5m1-0.8v1.5m1-0.6v1.5m1-1.5v1.5m1-1.7v1.5m1-1.4v1.5m1-1.5v1.5m1-2.9v1.5m1-2v1.5m1 0.5v1.5m1 0.5v1.5m1-4.6v1.5m1-2.7v1.5m1-1v1.5m1-1.1v1.5m1-0.2v1.5m1 0.4v1.5m1-0.7v1.5m1-0.6v1.5m1-2.1v1.5m1-3.9v1.5m1-1.7v1.5m1 0.2v1.5m1-0.9v1.5"/><rect x="72.1" y="44" width="1.7" height="36" fill="#b00050" fill-opacity="0.45"/><rect x="76.4" y="44" width="1.5" height="36" fill="#b00050" fill-opacity="0.45"/><rect x="79.9" y="44" width="1.9" height="36" fill="#b00050" fill-opacity="0.45"/><rect x="82.6" y="44" width="1.9" height="36" fill="#b00050" fill-opacity="0.45"/><rect x="87" y="44" width="1.2" height="36" fill="#b00050" fill-opacity="0.45"/><rect x="90.1" y="44" width="2" height="36" fill="#b00050" fill-opacity="0.45"/><rect x="93" y="44" width="1.4" height="36" fill="#b00050" fill-opacity="0.45"/><rect x="97.7" y="44" width="1.9" height="36" fill="#b00050" fill-opacity="0.45"/><rect x="101.1" y="44" width="1.2" height="36" fill="#b00050" fill-opacity="0.45"/><rect x="103.8" y="44" width="1.7" height="36" fill="#b00050" fill-opacity="0.45"/><rect x="108.2" y="44" width="1.7" height="36" fill="#b00050" fill-opacity="0.45"/><rect x="111.3" y="44" width="1.7" height="36" fill="#b00050" fill-opacity="0.45"/><rect x="114.7" y="44" width="1.8" height="36" fill="#b00050" fill-opacity="0.45"/><rect x="118.5" y="44" width="1.3" height="36" fill="#b00050" fill-opacity="0.45"/><rect x="121.8" y="44" width="1.2" height="36" fill="#b00050" fill-opacity="0.45"/><rect x="125.6" y="44" width="1.8" height="36" fill="#b00050" fill-opacity="0.45"/><rect x="129.6" y="44" width="1.2" height="36" fill="#b00050" fill-opacity="0.45"/><rect x="132.2" y="44" width="2" height="36" fill="#b00050" fill-opacity="0.45"/><rect x="136.5" y="44" width="1.2" height="36" fill="#b00050" fill-opacity="0.45"/><rect x="139.7" y="44" width="1.6" height="36" fill="#b00050" fill-opacity="0.45"/><rect x="144.1" y="44" width="1.5" height="36" fill="#b00050" fill-opacity="0.45"/><rect x="147.9" y="44" width="1.4" height="36" fill="#b00050" fill-opacity="0.45"/><rect x="150.9" y="44" width="2" height="36" fill="#b00050" fill-opacity="0.45"/><rect x="153.5" y="44" width="1.8" height="36" fill="#b00050" fill-opacity="0.45"/><rect x="157.4" y="44" width="1.4" height="36" fill="#b00050" fill-opacity="0.45"/><rect x="160.6" y="44" width="1.4" height="36" fill="#b00050" fill-opacity="0.45"/><rect x="165.4" y="44" width="1.4" height="36" fill="#b00050" fill-opacity="0.45"/><rect x="168.9" y="44" width="1.8" height="36" fill="#b00050" fill-opacity="0.45"/><rect x="172.4" y="44" width="1.7" height="36" fill="#b00050" fill-opacity="0.45"/><rect x="175.7" y="44" width="1.6" height="36" fill="#b00050" fill-opacity="0.45"/><rect x="179.9" y="44" width="1.4" height="36" fill="#b00050" fill-opacity="0.45"/><rect x="182.5" y="44" width="1.7" height="36" fill="#b00050" fill-opacity="0.45"/><rect x="185.7" y="44" width="1.3" height="36" fill="#b00050" fill-opacity="0.45"/><rect x="190.2" y="44" width="1.2" height="36" fill="#b00050" fill-opacity="0.45"/><rect x="193" y="44" width="1.2" height="36" fill="#b00050" fill-opacity="0.45"/><rect x="196.6" y="44" width="1.7" height="36" fill="#b00050" fill-opacity="0.45"/><rect x="199.8" y="44" width="1.2" height="36" fill="#b00050" fill-opacity="0.45"/><rect x="204.2" y="44" width="1.6" height="36" fill="#b00050" fill-opacity="0.45"/><rect x="207.3" y="44" width="1.6" height="36" fill="#b00050" fill-opacity="0.45"/><rect x="211.3" y="44" width="1.9" height="36" fill="#b00050" fill-opacity="0.45"/><rect x="215.4" y="44" width="1.6" height="36" fill="#b00050" fill-opacity="0.45"/><rect x="219" y="44" width="1.2" height="36" fill="#b00050" fill-opacity="0.45"/><rect x="221.4" y="44" width="1.7" height="36" fill="#b00050" fill-opacity="0.45"/><rect x="225.3" y="44" width="1.7" height="36" fill="#b00050" fill-opacity="0.45"/><rect x="228.4" y="44" width="1.5" height="36" fill="#b00050" fill-opacity="0.45"/><rect x="232.4" y="44" width="1.9" height="36" fill="#b00050" fill-opacity="0.45"/><rect x="236.1" y="44" width="1.6" height="36" fill="#b00050" fill-opacity="0.45"/><rect x="240.1" y="44" width="1.5" height="36" fill="#b00050" fill-opacity="0.45"/><rect x="242.5" y="44" width="1.5" height="36" fill="#b00050" fill-opacity="0.45"/><rect x="247.2" y="44" width="1.8" height="36" fill="#b00050" fill-opacity="0.45"/><rect x="250" y="44" width="1.2" height="36" fill="#b00050" fill-opacity="0.45"/><rect x="254.4" y="44" width="2" height="36" fill="#b00050" fill-opacity="0.45"/><rect x="257" y="44" width="1.6" height="36" fill="#b00050" fill-opacity="0.45"/><rect x="260.8" y="44" width="1.2" height="36" fill="#b00050" fill-opacity="0.45"/><rect x="263.8" y="44" width="1.3" height="36" fill="#b00050" fill-opacity="0.45"/><rect x="268.2" y="44" width="1.9" height="36" fill="#b00050" fill-opacity="0.45"/><rect x="271.8" y="44" width="1.4" height="36" fill="#b00050" fill-opacity="0.45"/><rect x="274.5" y="44" width="1.1" height="36" fill="#b00050" fill-opacity="0.45"/><rect x="278.1" y="44" width="1.8" height="36" fill="#b00050" fill-opacity="0.45"/><rect x="281.5" y="44" width="1.9" height="36" fill="#b00050" fill-opacity="0.45"/><rect x="286.1" y="44" width="2" height="36" fill="#b00050" fill-opacity="0.45"/><rect x="290" y="44" width="1.8" height="36" fill="#b00050" fill-opacity="0.45"/><rect x="77" y="45.2" width="1.6" height="1.6" fill="#7000a0"/><rect x="82" y="43.1" width="1.6" height="1.6" fill="#7000a0"/><rect x="85" y="41.7" width="1.6" height="1.6" fill="#7000a0"/><rect x="115" y="44" width="1.6" height="1.6" fill="#7000a0"/><rect x="130" y="42.1" width="1.6" height="1.6" fill="#7000a0"/><rect x="136" y="45.2" width="1.6" height="1.6" fill="#7000a0"/><rect x="141" y="43.1" width="1.6" height="1.6" fill="#7000a0"/><rect x="142" y="43.1" width="1.6" height="1.6" fill="#7000a0"/><rect x="151" y="43.3" width="1.6" height="1.6" fill="#7000a0"/><rect x="155" y="43.8" width="1.6" height="1.6" fill="#7000a0"/><rect x="177" y="42.7" width="1.6" height="1.6" fill="#7000a0"/><rect x="207" y="41.7" width="1.6" height="1.6" fill="#7000a0"/><rect x="210" y="44.4" width="1.6" height="1.6" fill="#7000a0"/><rect x="215" y="44.8" width="1.6" height="1.6" fill="#7000a0"/><rect x="222" y="45.2" width="1.6" height="1.6" fill="#7000a0"/><rect x="235" y="46.5" width="1.6" height="1.6" fill="#7000a0"/><rect x="246" y="42.9" width="1.6" height="1.6" fill="#7000a0"/><rect x="250" y="41.1" width="1.6" height="1.6" fill="#7000a0"/><rect x="255" y="45.2" width="1.6" height="1.6" fill="#7000a0"/><rect x="282" y="44.3" width="1.6" height="1.6" fill="#7000a0"/></g><g clip-path="url(#c01)"><path fill="none" stroke="#f0000c" stroke-width="1.15" stroke-opacity="0.3" d="M71 140.5v2.5m1-2.6v2.6m1-2.6v2.6m1-2.7v2.7m1-3v3m1-4v4m1-6.8v6.8m1-6.7v6.7m1-3.7v3.7m1-2.6v2.6m1-3.2v3.2m1-5v5m1-5.3v5.3m1-4.3v4.3m1-4v4m1-4.4v4.4m1-5.6v5.6m1-5.9v5.9m1-5.8v5.8m1-5.1v5.1m1-3.3v3.3m1-3.1v3.1m1-4.4v4.4m1-5.3v5.3m1-6.5v6.5m1-6.9v6.9m1-6.8v6.8m1-6.5v6.5m1-6.4v6.4m1-5.6v5.6m1-3.3v3.3m1-3.5v3.5m1-6.4v6.4m1-7.4v7.4m1-6.4v6.4m1-3.5v3.5m1-2.7v2.7m1-3.4v3.4m1-3.7v3.7m1-4v4m1-4.1v4.1m1-4.5v4.5m1-6v6m1-6.5v6.5m1-5.8v5.8m1-4v4m1-3.6v3.6m1-4.3v4.3m1-4.6v4.6m1-4.6v4.6m1-4.6v4.6m1-4.9v4.9m1-5.6v5.6m1-5.8v5.8m1-5.6v5.6m1-5.2v5.2m1-5.1v5.1m1-5v5m1-4.8v4.8m1-4.8v4.8m1-5v5m1-5.8v5.8m1-5.5v5.5m1-3.7v3.7m1-3.4v3.4m1-4.2v4.2m1-4.3v4.3m1-3.7v3.7m1-3.6v3.6m1-3.6v3.6m1-3.9v3.9m1-4v4m1-4.7v4.7m1-7v7m1-6.7v6.7m1-3.5v3.5m1-2.5v2.5m1-2.9v2.9m1-4v4m1-4.3v4.3m1-4v4m1-3v3m1-2.7v2.7m1-3.2v3.2m1-4.8v4.8m1-5.3v5.3m1-5.1v5.1m1-4.5v4.5m1-4.3v4.3m1-4.8v4.8m1-6.2v6.2m1-6.6v6.6m1-6v6m1-4.2v4.2m1-3.6v3.6m1-3.8v3.8m1-4.1v4.1m1-4v4m1-3.3v3.3m1-3.7v3.7m1-5.5v5.5m1-6.1v6.1m1-5.5v5.5m1-3.5v3.5m1-2.8v2.8m1-2.8v2.8m1-2.9v2.9m1-3v3m1-3.2v3.2m1-3.3v3.3m1-3.2v3.2m1-2.7v2.7m1-3.5v3.5m1-6.4v6.4m1-7.4v7.4m1-6.8v6.8m1-4.9v4.9m1-4.8v4.8m1-6.4v6.4m1-6.9v6.9m1-6v6m1-3.4v3.4m1-3.2v3.2m1-5.1v5.1m1-5.7v5.7m1-6.1v6.1m1-7.4v7.4m1-7.2v7.2m1-5.4v5.4m1-4.7v4.7m1-4.3v4.3m1-3v3m1-2.6v2.6m1-3.7v3.7m1-6.8v6.8m1-7.9v7.9m1-7.6v7.6m1-6.5v6.5m1-5.6v5.6m1-4.2v4.2m1-3.7v3.7m1-3.5v3.5m1-2.9v2.9m1-2.7v2.7m1-2.8v2.8m1-3.3v3.3m1-3.7v3.7m1-4.3v4.3m1-4.5v4.5m1-4.2v4.2m1-3.5v3.5m1-3.3v3.3m1-3.5v3.5m1-4.2v4.2m1-6v6m1-6.6v6.6m1-6.8v6.8m1-7.3v7.3m1-7.5v7.5m1-6.9v6.9m1-5.2v5.2m1-4.6v4.6m1-4.4v4.4m1-4.4v4.4m1-4v4m1-3v3m1-3.3v3.3m1-5.3v5.3m1-6v6m1-5.4v5.4m1-3.5v3.5m1-3.7v3.7m1-6v6m1-6.7v6.7m1-6.4v6.4m1-5.6v5.6m1-4.8v4.8m1-3.6v3.6m1-3.1v3.1m1-2.9v2.9m1-2.8v2.8m1-2.7v2.7m1-2.6v2.6m1-3.2v3.2m1-4.8v4.8m1-5.2v5.2m1-4.8v4.8m1-4.6v4.6m1-5v5m1-6.1v6.1m1-5.6v5.6m1-3.3v3.3m1-2.5v2.5m1-3v3m1-4.6v4.6m1-5.1v5.1m1-4.8v4.8m1-4v4m1-3.7v3.7m1-4v4m1-4.7v4.7m1-4.4v4.4m1-3v3m1-2.5v2.5m1-3v3m1-4.6v4.6m1-5.2v5.2m1-4.6v4.6m1-3v3m1-2.5v2.5m1-2.5v2.5m1-2.7v2.7m1-3.6v3.6m1-6.3v6.3m1-6.5v6.5m1-4.3v4.3m1-4v4m1-5.5v5.5m1-6v6m1-5.3v5.3m1-3.3v3.3"/><path fill="none" stroke="#f0000c" stroke-width="1.15" stroke-opacity="0.2" d="M71 139.9v3.1m1-3.4v3.4m1-4.4v4.4m1-4.7v4.7m1-4.5v4.5m1-4.8v4.8m1-5.6v5.6m1-5.2v5.2m1-3.4v3.4m1-2.8v2.8m1-3.1v3.1m1-3.8v3.8m1-4v4m1-4v4m1-4.1v4.1m1-4.2v4.2m1-4v4m1-3.4v3.4m1-3.3v3.3m1-3.1v3.1m1-2.7v2.7m1-2.5v2.5m1-2.6v2.6m1-2.8v2.8m1-2.8v2.8m1-2.6v2.6m1-2.5v2.5m1-2.7v2.7m1-3.4v3.4m1-4v4m1-5.3v5.3m1-5.4v5.4m1-4.5v4.5m1-4.2v4.2m1-3.9v3.9m1-3.2v3.2m1-3.1v3.1m1-3.5v3.5m1-4v4m1-5.1v5.1m1-5.4v5.4m1-5.4v5.4m1-5.4v5.4m1-4.9v4.9m1-3.4v3.4m1-2.9v2.9m1-2.8v2.8m1-2.6v2.6m1-2.7v2.7m1-3v3m1-3.1v3.1m1-3.4v3.4m1-4.3v4.3m1-4.9v4.9m1-5.5v5.5m1-5.7v5.7m1-5.6v5.6m1-5.5v5.5m1-5.4v5.4m1-5v5m1-4.9v4.9m1-4.7v4.7m1-4v4m1-3.6v3.6m1-3.1v3.1m1-3v3m1-3.5v3.5m1-5.1v5.1m1-5.4v5.4m1-4.5v4.5m1-4.4v4.4m1-4.8v4.8m1-4.6v4.6m1-3.4v3.4m1-3v3m1-3v3m1-3.3v3.3m1-3.4v3.4m1-3.5v3.5m1-3.8v3.8m1-4v4m1-3.9v3.9m1-3.8v3.8m1-3.7v3.7m1-4.1v4.1m1-5.3v5.3m1-5.8v5.8m1-5.7v5.7m1-5.3v5.3m1-5.2v5.2m1-4.8v4.8m1-3.5v3.5m1-3.1v3.1m1-3.6v3.6m1-5.1v5.1m1-5.5v5.5m1-5.4v5.4m1-5.4v5.4m1-5v5m1-3.9v3.9m1-3.6v3.6m1-3.6v3.6m1-3.5v3.5m1-3.5v3.5m1-3.4v3.4m1-3.1v3.1m1-3v3m1-3.2v3.2m1-3.7v3.7m1-3.6v3.6m1-2.9v2.9m1-3.4v3.4m1-5.3v5.3m1-5.9v5.9m1-5.5v5.5m1-4v4m1-3.4v3.4m1-3v3m1-2.8v2.8m1-3.4v3.4m1-5.1v5.1m1-5.7v5.7m1-5.8v5.8m1-5.5v5.5m1-4.6v4.6m1-4.3v4.3m1-4.3v4.3m1-4.1v4.1m1-4v4m1-4.1v4.1m1-4.4v4.4m1-4.7v4.7m1-5.2v5.2m1-4.9v4.9m1-3.5v3.5m1-3.2v3.2m1-3.9v3.9m1-4.2v4.2m1-4.3v4.3m1-4.9v4.9m1-5v5m1-4.9v4.9m1-4.5v4.5m1-3.6v3.6m1-3.3v3.3m1-3.4v3.4m1-3.8v3.8m1-4v4m1-4.4v4.4m1-5.5v5.5m1-5.4v5.4m1-4.1v4.1m1-3.8v3.8m1-4.5v4.5m1-4.7v4.7m1-4.7v4.7m1-4.6v4.6m1-4.6v4.6m1-4.9v4.9m1-4.9v4.9m1-4.7v4.7m1-4.6v4.6m1-4.4v4.4m1-3.7v3.7m1-3.5v3.5m1-3.6v3.6m1-3.8v3.8m1-3.9v3.9m1-3.6v3.6m1-2.8v2.8m1-2.6v2.6m1-2.6v2.6m1-2.8v2.8m1-3.2v3.2m1-4.2v4.2m1-4.5v4.5m1-4.7v4.7m1-5.5v5.5m1-5.1v5.1m1-3.2v3.2m1-2.6v2.6m1-2.7v2.7m1-2.8v2.8m1-2.9v2.9m1-3.2v3.2m1-3.3v3.3m1-3.2v3.2m1-3.1v3.1m1-2.9v2.9m1-3.3v3.3m1-4.7v4.7m1-5v5m1-4.5v4.5m1-4v4m1-3.1v3.1m1-2.7v2.7m1-2.6v2.6m1-3v3m1-4.4v4.4m1-4.5v4.5m1-3.4v3.4m1-3.5v3.5m1-4.8v4.8m1-4.9v4.9m1-3.8v3.8m1-3.4v3.4m1-3.2v3.2m1-3.2v3.2m1-3.1v3.1m1-3v3m1-2.9v2.9m1-3.1v3.1m1-3.6v3.6m1-3.9v3.9m1-4.2v4.2m1-4.3v4.3m1-4.4v4.4m1-4.9v4.9m1-4.9v4.9m1-4.2v4.2m1-4v4"/><path fill="none" stroke="#0000ff" stroke-width="1.15" d="M71 168v20.3m1-20.3v20.3m1-20.3v19.8m1-19.8v18.3m1-18.3v17.8m1-17.8v17.7m1-17.7v17.8m1-17.8v18.5m1-18.5v18.7m1-18.7v18.8m1-18.8v19.2m1-19.2v19m1-19v17.8m1-17.8v18.1m1-18.1v19.8m1-19.8v20.5m1-20.5v20.8m1-20.8v20.9m1-20.9v20.9m1-20.9v20.9m1-20.9v20.5m1-20.5v19.5m1-19.5v19.1m1-19.1v19m1-19v19m1-19v19.2m1-19.2v19.7m1-19.7v19.7m1-19.7v18.9m1-18.9v18.6m1-18.6v18.6m1-18.6v18.5m1-18.5v18.6m1-18.6v19m1-19v19.1m1-19.1v19.4m1-19.4v20.3m1-20.3v20.6m1-20.6v20.4m1-20.4v19.8m1-19.8v18.2m1-18.2v17.6m1-17.6v18.1m1-18.1v19.3m1-19.3v19.3m1-19.3v18.3m1-18.3v17.9m1-17.9v17.9m1-17.9v17.7m1-17.7v18m1-18v18.9m1-18.9v19.1m1-19.1v18.8m1-18.8v18.7m1-18.7v19.1m1-19.1v20.4m1-20.4v20.2m1-20.2v18.4m1-18.4v17.8m1-17.8v18m1-18v18.5m1-18.5v18.7m1-18.7v18.7m1-18.7v19.1m1-19.1v20.3m1-20.3v20.5m1-20.5v20m1-20v19.8m1-19.8v19.9m1-19.9v20.1m1-20.1v20.3m1-20.3v20.5m1-20.5v20m1-20v18.4m1-18.4v18.3m1-18.3v19.8m1-19.8v20.3m1-20.3v20.1m1-20.1v20.1m1-20.1v19.5m1-19.5v18m1-18v17.6m1-17.6v17.8m1-17.8v17.9m1-17.9v18.2m1-18.2v18.8m1-18.8v19m1-19v19m1-19v18.9m1-18.9v18.6m1-18.6v17.9m1-17.9v18m1-18v18.7m1-18.7v19m1-19v18.9m1-18.9v18.6m1-18.6v18.5m1-18.5v18.9m1-18.9v19.9m1-19.9v19.9m1-19.9v19.1m1-19.1v18.8m1-18.8v19.2m1-19.2v20.5m1-20.5v20.5m1-20.5v19.2m1-19.2v18.6m1-18.6v17.9m1-17.9v18.2m1-18.2v19.6m1-19.6v20m1-20v19.5m1-19.5v19.2m1-19.2v18.9m1-18.9v19.1m1-19.1v20m1-20v19.9m1-19.9v18.4m1-18.4v18.2m1-18.2v18.8m1-18.8v19.2m1-19.2v19.7m1-19.7v20m1-20v20.5m1-20.5v20.7m1-20.7v20.3m1-20.3v19.2m1-19.2v19.1m1-19.1v19.9m1-19.9v20.2m1-20.2v19.8m1-19.8v18.4m1-18.4v17.9m1-17.9v18m1-18v18.4m1-18.4v18.4m1-18.4v18.1m1-18.1v18m1-18v18.1m1-18.1v18.6m1-18.6v19m1-19v19.7m1-19.7v19.9m1-19.9v19.8m1-19.8v19.4m1-19.4v19.2m1-19.2v19.6m1-19.6v20.6m1-20.6v20.6m1-20.6v19.7m1-19.7v19.1m1-19.1v18.2m1-18.2v18m1-18v18.2m1-18.2v18.7m1-18.7v20.1m1-20.1v20m1-20v18.1m1-18.1v17.7m1-17.7v18.4m1-18.4v18.6m1-18.6v18.9m1-18.9v19.8m1-19.8v20.1m1-20.1v20.1m1-20.1v20.1m1-20.1v20.1m1-20.1v20.1m1-20.1v20.1m1-20.1v19.6m1-19.6v18.3m1-18.3v17.8m1-17.8v18.2m1-18.2v19.5m1-19.5v19.9m1-19.9v20m1-20v20.3m1-20.3v20.4m1-20.4v20.3m1-20.3v19.9m1-19.9v19.7m1-19.7v19.5m1-19.5v18.8m1-18.8v18.6m1-18.6v18.7m1-18.7v18.7m1-18.7v18.6m1-18.6v18.6m1-18.6v18.5m1-18.5v18.1m1-18.1v18m1-18v18.1m1-18.1v18.1m1-18.1v18.2m1-18.2v18.6m1-18.6v19.8m1-19.8v20.2m1-20.2v20.2m1-20.2v20.1m1-20.1v20.1m1-20.1v20.1m1-20.1v19.9m1-19.9v19.7m1-19.7v19.3m1-19.3v19.1m1-19.1v19m1-19v18.7m1-18.7v18m1-18v17.7m1-17.7v18.3m1-18.3v20m1-20v20.6m1-20.6v20.2m1-20.2v18.9m1-18.9v18.5m1-18.5v18.6m1-18.6v18.9m1-18.9v19.2m1-19.2v19.7m1-19.7v19.9m1-19.9v19.9"/><rect x="99" y="186.6" width="1.3" height="1.3" fill="#ff8c00"/><rect x="101" y="186.3" width="1.3" height="1.3" fill="#ff8c00"/><rect x="109" y="188.2" width="1.3" height="1.3" fill="#ff8c00"/><rect x="116" y="186" width="1.3" height="1.3" fill="#ff8c00"/><rect x="119" y="185.5" width="1.3" height="1.3" fill="#ff8c00"/><rect x="148" y="187.9" width="1.3" height="1.3" fill="#ff8c00"/><rect x="176" y="187" width="1.3" height="1.3" fill="#ff8c00"/><rect x="262" y="185.8" width="1.3" height="1.3" fill="#ff8c00"/><rect x="106" y="187.2" width="1.2" height="1.2" fill="#20e020"/><rect x="171" y="186.9" width="1.2" height="1.2" fill="#20e020"/><rect x="282" y="188.4" width="1.2" height="1.2" fill="#20e020"/><path fill="none" stroke="#f0000c" stroke-width="1.15" d="M71 140.6v36.6m1-37v36.8m1-37.7v37m1-35.9v36.1m1-35.6v36.8m1-37.6v38m1-38v38m1-37.2v37.1m1-38.1v37.6m1-37.6v36.2m1-35.8v35.5m1-35.1v35.8m1-35.8v36.2m1-36.8v37.4m1-37.2v37.4m1-37.2v37.2m1-37.5v37.4m1-37.6v37.4m1-37.5v37.1m1-36.2v36m1-36.5v36.4m1-34.9v34.7m1-35.8v35.6m1-36.3v35.9m1-35.5v35.6m1-35.4v35.8m1-35.8v35.9m1-35.9v35.8m1-35.8v35.6m1-35.9v35.4m1-35v34.9m1-34.1v34.6m1-35.9v37.1m1-37.1v36.9m1-36.3v36m1-35.8v35.4m1-35.6v35.6m1-35.4v35.6m1-36.2v36m1-36.1v35.3m1-34.9v34.7m1-34.7v34.7m1-34.2v34.4m1-34.4v34.4m1-36.1v36.5m1-35.2v36.4m1-37.1v37.4m1-38.1v37.7m1-36.5v36.2m1-36.5v36.2m1-36.3v35.5m1-35.9v35.7m1-35.6v36.1m1-35.7v37.2m1-37.8v37.8m1-37.1v35.6m1-35.5v35m1-35.2v35.2m1-34.9v34.9m1-35.1v35.6m1-36.2v37.8m1-37.7v38.2m1-37.6v37.3m1-36.9v35.9m1-36.3v36m1-36.3v36.5m1-36.2v36.4m1-37.4v38m1-37.6v37.8m1-37.5v37.5m1-37.3v37.3m1-37.5v37.5m1-37.4v37m1-37.5v36.3m1-36v35.8m1-35.4v36m1-37v36.9m1-36.6v35.8m1-35.4v35.2m1-34.3v34.8m1-35.2v36.6m1-36.1v36.1m1-36.2v34.9m1-35.8v35.8m1-35.6v37.2m1-37.8v38.3m1-37.1v36.8m1-37v36.9m1-37v36.9m1-36.9v36.5m1-36.6v35.7m1-35.8v36.3m1-36.3v36.8m1-36.3v36.9m1-37.9v37.7m1-37.8v36.4m1-35.9v35.8m1-35.2v36.1m1-36.6v36.9m1-37.1v37.3m1-36.8v36.8m1-37.1v36.7m1-37.7v36.3m1-35.9v35.5m1-36v36.1m1-35.2v35.2m1-35.3v35.2m1-34.8v34.8m1-33.9v34.2m1-35.6v36.2m1-35.9v37.3m1-37.5v37.5m1-38.7v37.3m1-36.3v35.8m1-35.8v35.5m1-35v35.1m1-35.6v36.4m1-36.6v37.2m1-36.3v37.2m1-37.5v37.5m1-37.9v37.1m1-37.1v37.1m1-36.8v37.3m1-36.8v37m1-36.7v36.5m1-37.8v37.3m1-36.1v35.8m1-36.4v36.2m1-36v35.9m1-35.6v35.7m1-36.7v36.8m1-35.9v36m1-37v36.9m1-36.5v35.9m1-36.1v36.3m1-35.1v36m1-36v36.4m1-36.8v37m1-37.1v36.5m1-37.1v37m1-35.8v35.7m1-35.9v35.4m1-35.6v35.4m1-35.9v36.3m1-36.5v37.7m1-37.5v37.4m1-36.7v35.4m1-36.6v36.5m1-35.9v36.9m1-36.2v36.2m1-36.6v35.5m1-35v34.6m1-35.3v35m1-35v35.4m1-34.9v36.3m1-36.7v37.1m1-37.2v36.8m1-37.2v37.2m1-37.7v38.1m1-36.6v36.7m1-37.7v37.7m1-37.9v37.9m1-37.1v37m1-37.8v37.4m1-37.7v37.3m1-36.9v36.1m1-35.8v35.9m1-35.7v37m1-36.9v36.8m1-36.6v35.3m1-35.8v35.8m1-35.6v36.6m1-36.8v36.6m1-36.9v36.3m1-35.8v35.8m1-35.8v36.3m1-35.6v35.7m1-36.3v36.3m1-36.9v37m1-36.4v36.5m1-36.9v36.5m1-35.6v34.6m1-36.2v35.8m1-35.3v35.4m1-35.4v35.4m1-35v35.3m1-35.4v36.3m1-37.1v37.6m1-37.7v38.3m1-37.3v37.5m1-36.9v36.9m1-36.9v36.9m1-37.8v37.4m1-36.9v35.8m1-36.5v36m1-36.3v36m1-34.7v35.1m1-35.3v36.9m1-37.4v37.9m1-38v37.9m1-37.2v36.9m1-37.2v36.6m1-36.9v36.7m1-36.4v35.9m1-36.1v35.9m1-36.1v36.1m1-36.2v36.1m1-35.3v35.8m1-36.5v37.7m1-38.1v37.9m1-36.4v34.8m1-35.1v34.6m1-34.9v35.1m1-35.4v35.3m1-35.2v35.2m1-36v36.1m1-35.4v35.5m1-35.3v35.2m1-35.5v35.5m1-35.2v35.6m1-36.2v36.3"/><path fill="none" stroke="#a00070" stroke-width="1.15" stroke-opacity="0.4" d="M71 175.2v2m1-2.2v2m1-2.7v2m1-1.8v2m1-0.8v2m1-1.6v2m1-2v2m1-2.1v2m1-2.5v2m1-3.4v2m1-2.3v2m1-1.3v2m1-1.6v2m1-1.4v2m1-1.8v2m1-2v2m1-2.1v2m1-2.2v2m1-2.4v2m1-2.2v2m1-2.1v2m1-2.2v2m1-2.2v2m1-2.4v2m1-1.9v2m1-1.6v2m1-1.9v2m1-2.1v2m1-2.2v2m1-2.5v2m1-2.1v2m1-1.5v2m1-0.8v2m1-2.2v2m1-2.3v2m1-2.4v2m1-2v2m1-1.8v2m1-2.2v2m1-2.8v2m1-2.2v2m1-2v2m1-1.8v2m1-2v2m1-1.6v2m1-0.8v2m1-1.7v2m1-2.4v2m1-2.3v2m1-2.3v2m1-2.8v2m1-2.2v2m1-1.5v2m1-0.5v2m1-2v2m1-3.5v2m1-2.5v2m1-2v2m1-2v2m1-1.5v2m1-0.4v2m1-1.5v2m1-2.3v2m1-3v2m1-2.3v2m1-1.8v2m1-1.8v2m1-1.4v2m1-1.8v2m1-2v2m1-2v2m1-2v2m1-2.4v2m1-3.2v2m1-2.2v2m1-1.4v2m1-2.1v2m1-2.8v2m1-2.2v2m1-1.5v2m1-0.6v2m1-2v2m1-3.3v2m1-2v2m1-0.4v2m1-1.5v2m1-2.3v2m1-2.1v2m1-2.1v2m1-2.4v2m1-2.9v2m1-1.5v2m1-1.5v2m1-1.4v2m1-2.2v2m1-3.4v2m1-2.1v2m1-1.1v2m1-1.7v2m1-1.8v2m1-2v2m1-2.4v2m1-3.4v2m1-2.4v2m1-1.9v2m1-2v2m1-2.1v2m1-2v2m1-1.7v2m1-1.4v2m1-0.6v2m1-2v2m1-3.4v2m1-2.5v2m1-2.3v2m1-1.9v2m1-1.2v2m1-1.4v2m1-1.1v2m1-2v2m1-2.8v2m1-2v2m1-1.5v2m1-1.8v2m1-2.2v2m1-2.5v2m1-2.3v2m1-2.2v2m1-2.1v2m1-1.9v2m1-1.9v2m1-1.9v2m1-2.1v2m1-2.6v2m1-1.8v2m1-1.1v2m1-1.6v2m1-1.8v2m1-2.6v2m1-2.1v2m1-2.1v2m1-2.5v2m1-2.2v2m1-1.6v2m1-0.8v2m1-2.1v2m1-3.3v2m1-2.1v2m1-1v2m1-2v2m1-3.1v2m1-2.4v2m1-2.3v2m1-1.6v2m1-0.6v2m1-1.6v2m1-2.4v2m1-2v2m1-1.6v2m1-1.9v2m1-2v2m1-2v2m1-2.1v2m1-2.4v2m1-2.4v2m1-2.8v2m1-1.9v2m1-0.7v2m1-2.1v2m1-3.3v2m1-2v2m1-1v2m1-2.2v2m1-2.6v2m1-2v2m1-1.5v2m1-1.9v2m1-2v2m1-1.9v2m1-1.9v2m1-2.4v2m1-3v2m1-2.4v2m1-1.9v2m1-2v2m1-1.7v2m1-1.1v2m1-1.5v2m1-1.4v2m1-1.8v2m1-2v2m1-2v2m1-2.4v2m1-3.1v2m1-2.5v2m1-2.3v2m1-1.6v2m1-0.4v2m1-1.5v2m1-2.1v2m1-2.3v2m1-2.6v2m1-2.2v2m1-2.5v2m1-2.2v2m1-2v2m1-2.1v2m1-1.5v2m1-0.8v2m1-2.2v2m1-3.6v2m1-2.5v2m1-1.8v2m1-2.1v2m1-2v2m1-1.9v2m1-1.9v2m1-2.1v2m1-2v2m1-1.6v2m1-1.9v2"/><path fill="none" stroke="#f0000c" stroke-width="1.15" stroke-opacity="0.55" d="M71 177.2v4.7m1-4.9v4.3m1-5v3.5m1-3.3v3m1-1.8v2.5m1-2.1v2.8m1-2.8v4m1-4.1v4.1m1-4.6v3.1m1-4.5v2.5m1-2.8v2.9m1-2.2v4.1m1-3.7v4.6m1-4v4.9m1-4.7v4.2m1-4.2v1.8m1-1.9v1.7m1-1.9v3.7m1-4.1v4.2m1-4.4v4.6m1-4.7v3.3m1-3.5v2.3m1-2.5v3.2m1-3.6v3.2m1-3.1v2.1m1-1.7v1.9m1-1.8v2m1-2.1v2.8m1-3v5.4m1-5.9v5.4m1-5.5v2.9m1-2.4v2.7m1-1.5v4.7m1-4.9v4.6m1-4.9v2.2m1-2.6v1.7m1-1.7v2.4m1-2.2v2.7m1-2.9v3.3m1-4.1v4.5m1-4.7v4.4m1-4.4v3.4m1-3.2v3m1-3v3.7m1-3.3v5.7m1-4.5v5.7m1-5.4v3.5m1-3.9v2.8m1-3.1v2.9m1-3.2v3.2m1-4v3.8m1-4v3.5m1-3v2.3m1-0.8v2.4m1-2.4v4.1m1-5.6v4m1-4.5v2m1-2v2.2m1-2.2v4.8m1-4.3v4.8m1-3.2v2.3m1-1.8v1.9m1-2.2v3m1-4v3.3m1-3.6v3.7m1-3.5v5.6m1-5.4v5.7m1-5.1v4.1m1-3.9v3m1-3v2.2m1-2.2v3.5m1-3.5v4.1m1-4.5v3.5m1-4.7v2.5m1-2.7v2.3m1-1.7v2.8m1-2.9v4.2m1-5v4.6m1-4.8v4.6m1-4.1v5.1m1-3.7v5.1m1-5.1v4.5m1-5.8v4.3m1-4.3v4.1m1-2.5v2.5m1-2v2.3m1-2.6v3.6m1-3.7v4m1-4.1v4.1m1-4.5v4.4m1-5.3v5.3m1-4.8v4.6m1-4.1v1.9m1-1.3v1.1m1-1.3v1.3m1-2.7v2.1m1-2.2v4m1-3.1v4.4m1-4.1v3.8m1-3.6v4.1m1-4.1v5.8m1-6.2v5.4m1-6.8v3m1-3.4v2.7m1-2.6v4m1-4v4m1-4.1v2.6m1-2.6v2.5m1-2.2v3.2m1-2.6v3.4m1-2v3.2m1-3.2v3m1-4.4v2.7m1-3.2v2.5m1-2.8v2.4m1-2.3v2.9m1-2.1v4.2m1-3.6v4.3m1-3.4v3.1m1-3.1v1.5m1-2.3v1.9m1-1.9v4.2m1-3.7v5.1m1-4.9v5.3m1-5.5v5.1m1-5.6v3.7m1-4v1.8m1-2v1.5m1-1.6v2.1m1-2v2.8m1-2.7v4.4m1-4.3v4.5m1-4.6v2.8m1-3.4v2.2m1-2v2m1-1.1v1.8m1-1.4v1.3m1-1.1v1.1m1-1.7v1.2m1-1.3v1.8m1-1.9v3.5m1-4v4.1m1-4.3v4.2m1-3.8v5m1-3.8v4.6m1-4.7v2.7m1-4v2.2m1-2.3v2.6m1-1.6v2.5m1-2.5v1.9m1-3v1.8m1-2.2v1.9m1-2.2v2.6m1-2.2v4.4m1-3v5.1m1-4.7v5.1m1-5.5v5.4m1-5.4v4.6m1-4.2v1.9m1-1.8v1.2m1-1.2v1.8m1-1.8v1.9m1-2v1.9m1-2.3v1.8m1-2.2v1.9m1-2.7v2.1m1-2v2m1-0.7v1.4m1-1.5v1.7m1-3v2.8m1-2.8v3.2m1-2.2v3.9m1-4.1v5m1-5.6v3.1m1-3.1v2.2m1-1.7v2.3m1-2.2v2.8m1-2.8v2.6m1-2.5v1.6m1-1.5v2.1m1-2.5v5m1-6v5m1-5.4v3m1-2.9v2.7m1-2.7v3.1m1-2.8v3.7m1-2.8v4.2m1-3.7v5m1-4.4v5.2m1-5v4.8m1-4.8v4.4m1-4.4v3.7m1-4.1v3.9m1-5v5.2m1-5.7v5.3m1-5.6v4.3m1-3.9v3.8m1-2.2v3.5m1-3v3.3m1-3.4v3m1-3.3v2.5m1-3.1v2.6m1-2.8v1.7m1-2.2v2.1m1-2.3v4.3m1-4.3v4.3m1-4.4v2.7m1-2.2v3m1-1.8v1.7m1-1.9v1.4m1-3v2.8m1-3.3v4.7m1-4.5v4.7m1-4.8v2.9m1-2.9v1.8m1-1.7v2.4m1-2.3v4.2m1-4.3v3.8m1-3.8v3.1m1-2.7v3.2m1-3.1v5.5"/><path fill="none" stroke="#f0000c" stroke-width="1.15" stroke-opacity="0.3" d="M71 181.9v1.2m1-1.8v1.2m1-2.7v1.2m1-1.5v1.2m1-0.5v1.2m1-0.5v1.2m1 0v1.2m1-1.2v1.2m1-2.7v1.2m1-3.2v1.2m1-1.1v1.2m1 0.7v1.2m1-0.3v1.2m1-0.3v1.2m1-1.7v1.2m1-3.6v1.2m1-1.4v1.2m1 0.6v1.2m1-1.1v1.2m1-1v1.2m1-2.6v1.2m1-2.4v1.2m1-0.5v1.2m1-1.6v1.2m1-2.2v1.2m1-1v1.2m1-1v1.2m1-0.5v1.2m1 1.2v1.2m1-1.7v1.2m1-3.8v1.2m1-0.9v1.2m1 2v1.2m1-1.5v1.2m1-3.9v1.2m1-2.1v1.2m1-0.5v1.2m1-0.7v1.2m1-0.8v1.2m1-0.8v1.2m1-1.5v1.2m1-2.2v1.2m1-1.4v1.2m1-0.5v1.2m1 1.2v1.2m1 0v1.2m1-3.1v1.2m1-2.3v1.2m1-1.4v1.2m1-1.2v1.2m1-1.4v1.2m1-1.7v1.2m1-1.9v1.2m1 0.4v1.2m1 0.5v1.2m1-2.8v1.2m1-3.7v1.2m1-1v1.2m1 1.4v1.2m1-0.7v1.2m1-2.1v1.2m1-1.1v1.2m1-0.4v1.2m1-1.9v1.2m1-1.1v1.2m1 0.9v1.2m1-0.9v1.2m1-2.2v1.2m1-2.1v1.2m1-2v1.2m1 0.1v1.2m1-0.6v1.2m1-2.2v1.2m1-3.4v1.2m1-1.6v1.2m1-0.1v1.2m1 0.1v1.2m1-1.6v1.2m1-1.4v1.2m1-0.2v1.2m1 0.2v1.2m1-1.8v1.2m1-2.7v1.2m1-1.4v1.2m1-1.2v1.2m1-0.9v1.2m1-0.2v1.2m1-0.9v1.2m1-1.2v1.2m1-1.3v1.2m1-1.2v1.2m1-1.4v1.2m1-3.4v1.2m1-1.4v1.2m1-1.2v1.2m1-1.8v1.2m1 0.6v1.2m1 0.1v1.2m1-1.5v1.2m1-0.7v1.2m1 0.5v1.2m1-2v1.2m1-5v1.2m1-1.9v1.2m1 0.2v1.2m1-1.2v1.2m1-2.7v1.2m1-1.3v1.2m1-0.2v1.2m1-0.4v1.2m1 0v1.2m1-1.4v1.2m1-2.9v1.2m1-1.9v1.2m1-1.6v1.2m1-0.6v1.2m1 0.9v1.2m1-0.5v1.2m1-1.5v1.2m1-2.8v1.2m1-1.6v1.2m1 1.1v1.2m1 0.2v1.2m1-0.8v1.2m1-1.6v1.2m1-3.1v1.2m1-3.4v1.2m1-1.7v1.2m1-0.7v1.2m1-0.4v1.2m1 0.5v1.2m1-1v1.2m1-3v1.2m1-2.4v1.2m1-1.2v1.2m1-0.5v1.2m1-1.3v1.2m1-1.2v1.2m1-1.7v1.2m1-0.7v1.2m1 0.4v1.2m1-1.1v1.2m1-1.3v1.2m1 0v1.2m1-0.4v1.2m1-3.2v1.2m1-3v1.2m1-0.9v1.2m1-0.3v1.2m1-1.8v1.2m1-2.4v1.2m1-1.5v1.2m1-0.8v1.2m1 1v1.2m1 0.9v1.2m1-0.8v1.2m1-1.3v1.2m1-2v1.2m1-3.5v1.2m1-1.8v1.2m1-0.6v1.2m1-1.1v1.2m1-1.3v1.2m1-1.7v1.2m1-1.5v1.2m1-1.8v1.2m1-1.2v1.2m1-0.5v1.2m1-1v1.2m1-1.4v1.2m1-0.8v1.2m1 0.5v1.2m1-0.3v1.2m1-3.7v1.2m1-2.1v1.2m1-0.6v1.2m1-0.6v1.2m1-1.4v1.2m1-2.1v1.2m1-0.6v1.2m1 1.3v1.2m1-2.2v1.2m1-3.6v1.2m1-1.4v1.2m1-0.8v1.2m1-0.3v1.2m1 0.2v1.2m1 0.1v1.2m1-0.4v1.2m1-1.4v1.2m1-1.6v1.2m1-1.9v1.2m1-1.4v1.2m1-1v1.2m1-1.6v1.2m1-2.5v1.2m1-1.3v1.2m1 0.1v1.2m1-0.9v1.2m1-1.6v1.2m1-2v1.2m1-1.7v1.2m1-2.3v1.2m1-1.3v1.2m1 0.8v1.2m1-1.2v1.2m1-2.9v1.2m1-0.4v1.2m1-1.3v1.2m1-1.7v1.2m1-1.4v1.2m1 0.2v1.2m1-1v1.2m1-3.1v1.2m1-2.3v1.2m1-0.5v1.2m1 0.7v1.2m1-1.7v1.2m1-1.9v1.2m1-0.7v1.2m1 1.2v1.2"/><rect x="72" y="140" width="1.8" height="37" fill="#b00050" fill-opacity="0.45"/><rect x="76.6" y="140" width="1.8" height="37" fill="#b00050" fill-opacity="0.45"/><rect x="79.5" y="140" width="1.6" height="37" fill="#b00050" fill-opacity="0.45"/><rect x="83.2" y="140" width="1.2" height="37" fill="#b00050" fill-opacity="0.45"/><rect x="86.5" y="140" width="1.7" height="37" fill="#b00050" fill-opacity="0.45"/><rect x="90.2" y="140" width="2.1" height="37" fill="#b00050" fill-opacity="0.45"/><rect x="94.1" y="140" width="1.3" height="37" fill="#b00050" fill-opacity="0.45"/><rect x="97.9" y="140" width="1.9" height="37" fill="#b00050" fill-opacity="0.45"/><rect x="100.7" y="140" width="1.6" height="37" fill="#b00050" fill-opacity="0.45"/><rect x="104.4" y="140" width="2" height="37" fill="#b00050" fill-opacity="0.45"/><rect x="108" y="140" width="1.6" height="37" fill="#b00050" fill-opacity="0.45"/><rect x="111.2" y="140" width="1.5" height="37" fill="#b00050" fill-opacity="0.45"/><rect x="115.2" y="140" width="2" height="37" fill="#b00050" fill-opacity="0.45"/><rect x="118.8" y="140" width="1.8" height="37" fill="#b00050" fill-opacity="0.45"/><rect x="123" y="140" width="1.8" height="37" fill="#b00050" fill-opacity="0.45"/><rect x="126.2" y="140" width="1.2" height="37" fill="#b00050" fill-opacity="0.45"/><rect x="128.9" y="140" width="2" height="37" fill="#b00050" fill-opacity="0.45"/><rect x="133.1" y="140" width="2" height="37" fill="#b00050" fill-opacity="0.45"/><rect x="135.8" y="140" width="1.6" height="37" fill="#b00050" fill-opacity="0.45"/><rect x="139.3" y="140" width="2" height="37" fill="#b00050" fill-opacity="0.45"/><rect x="144.1" y="140" width="1.4" height="37" fill="#b00050" fill-opacity="0.45"/><rect x="146.5" y="140" width="1.7" height="37" fill="#b00050" fill-opacity="0.45"/><rect x="150.9" y="140" width="1.6" height="37" fill="#b00050" fill-opacity="0.45"/><rect x="153.8" y="140" width="1.8" height="37" fill="#b00050" fill-opacity="0.45"/><rect x="157.1" y="140" width="1.5" height="37" fill="#b00050" fill-opacity="0.45"/><rect x="160.8" y="140" width="1.9" height="37" fill="#b00050" fill-opacity="0.45"/><rect x="164.9" y="140" width="1.2" height="37" fill="#b00050" fill-opacity="0.45"/><rect x="168.8" y="140" width="2" height="37" fill="#b00050" fill-opacity="0.45"/><rect x="172.3" y="140" width="2" height="37" fill="#b00050" fill-opacity="0.45"/><rect x="176.3" y="140" width="1.2" height="37" fill="#b00050" fill-opacity="0.45"/><rect x="178.8" y="140" width="1.2" height="37" fill="#b00050" fill-opacity="0.45"/><rect x="183.4" y="140" width="1.5" height="37" fill="#b00050" fill-opacity="0.45"/><rect x="187" y="140" width="1.8" height="37" fill="#b00050" fill-opacity="0.45"/><rect x="189" y="140" width="1.2" height="37" fill="#b00050" fill-opacity="0.45"/><rect x="194" y="140" width="1.8" height="37" fill="#b00050" fill-opacity="0.45"/><rect x="196.8" y="140" width="1.6" height="37" fill="#b00050" fill-opacity="0.45"/><rect x="201.2" y="140" width="1.1" height="37" fill="#b00050" fill-opacity="0.45"/><rect x="204.2" y="140" width="1.2" height="37" fill="#b00050" fill-opacity="0.45"/><rect x="207.8" y="140" width="1.6" height="37" fill="#b00050" fill-opacity="0.45"/><rect x="210.8" y="140" width="1.6" height="37" fill="#b00050" fill-opacity="0.45"/><rect x="215.4" y="140" width="1.4" height="37" fill="#b00050" fill-opacity="0.45"/><rect x="217.8" y="140" width="1.6" height="37" fill="#b00050" fill-opacity="0.45"/><rect x="222.1" y="140" width="1.2" height="37" fill="#b00050" fill-opacity="0.45"/><rect x="225.2" y="140" width="1.6" height="37" fill="#b00050" fill-opacity="0.45"/><rect x="228.7" y="140" width="1.5" height="37" fill="#b00050" fill-opacity="0.45"/><rect x="232" y="140" width="1.9" height="37" fill="#b00050" fill-opacity="0.45"/><rect x="236.4" y="140" width="2" height="37" fill="#b00050" fill-opacity="0.45"/><rect x="240" y="140" width="1.8" height="37" fill="#b00050" fill-opacity="0.45"/><rect x="243.4" y="140" width="1.6" height="37" fill="#b00050" fill-opacity="0.45"/><rect x="246.6" y="140" width="1.2" height="37" fill="#b00050" fill-opacity="0.45"/><rect x="250.3" y="140" width="1.2" height="37" fill="#b00050" fill-opacity="0.45"/><rect x="253.5" y="140" width="1.3" height="37" fill="#b00050" fill-opacity="0.45"/><rect x="257.8" y="140" width="1.4" height="37" fill="#b00050" fill-opacity="0.45"/><rect x="261.6" y="140" width="2" height="37" fill="#b00050" fill-opacity="0.45"/><rect x="264.4" y="140" width="2" height="37" fill="#b00050" fill-opacity="0.45"/><rect x="268.3" y="140" width="1.8" height="37" fill="#b00050" fill-opacity="0.45"/><rect x="271.7" y="140" width="2" height="37" fill="#b00050" fill-opacity="0.45"/><rect x="275.5" y="140" width="1.8" height="37" fill="#b00050" fill-opacity="0.45"/><rect x="278.4" y="140" width="2" height="37" fill="#b00050" fill-opacity="0.45"/><rect x="282.9" y="140" width="1.3" height="37" fill="#b00050" fill-opacity="0.45"/><rect x="286.2" y="140" width="1.8" height="37" fill="#b00050" fill-opacity="0.45"/><rect x="289.4" y="140" width="2" height="37" fill="#b00050" fill-opacity="0.45"/><rect x="88" y="139.8" width="1.6" height="1.6" fill="#5000c0"/><rect x="92" y="141.6" width="1.6" height="1.6" fill="#5000c0"/><rect x="96" y="140.4" width="1.6" height="1.6" fill="#5000c0"/><rect x="103" y="140" width="1.6" height="1.6" fill="#5000c0"/><rect x="104" y="140" width="1.6" height="1.6" fill="#5000c0"/><rect x="108" y="140.8" width="1.6" height="1.6" fill="#5000c0"/><rect x="116" y="140.6" width="1.6" height="1.6" fill="#5000c0"/><rect x="132" y="139.7" width="1.6" height="1.6" fill="#5000c0"/><rect x="134" y="140.7" width="1.6" height="1.6" fill="#5000c0"/><rect x="136" y="140" width="1.6" height="1.6" fill="#5000c0"/><rect x="160" y="140.5" width="1.6" height="1.6" fill="#5000c0"/><rect x="161" y="140.4" width="1.6" height="1.6" fill="#5000c0"/><rect x="162" y="140.3" width="1.6" height="1.6" fill="#5000c0"/><rect x="168" y="140.8" width="1.6" height="1.6" fill="#5000c0"/><rect x="169" y="140.3" width="1.6" height="1.6" fill="#5000c0"/><rect x="173" y="139.3" width="1.6" height="1.6" fill="#5000c0"/><rect x="174" y="139.7" width="1.6" height="1.6" fill="#5000c0"/><rect x="181" y="140.2" width="1.6" height="1.6" fill="#5000c0"/><rect x="211" y="141.1" width="1.6" height="1.6" fill="#5000c0"/><rect x="218" y="139.7" width="1.6" height="1.6" fill="#5000c0"/><rect x="228" y="140" width="1.6" height="1.6" fill="#5000c0"/><rect x="240" y="140.7" width="1.6" height="1.6" fill="#5000c0"/><rect x="254" y="139.9" width="1.6" height="1.6" fill="#5000c0"/><rect x="266" y="139.5" width="1.6" height="1.6" fill="#5000c0"/><rect x="268" y="140.6" width="1.6" height="1.6" fill="#5000c0"/><rect x="273" y="140.1" width="1.6" height="1.6" fill="#5000c0"/></g><g clip-path="url(#c02)"><path fill="none" stroke="#0000ff" stroke-width="1.15" d="M71 230.6v50.9m1-49.2v48.6m1-48.6v44.1m1-44.1v43.9m1-49.7v52.3m1-52.3v54.4m1-54.4v54.6m1-54.4v53.6m1-53.6v52.7m1-49.8v48.9m1-48.9v46m1-51.7v55.1m1-55.1v57.8m1-55.7v54.8m1-56.1v57.2m1-50.8v49.9m1-49.9v45.2m1-45.2v45.6m1-46.9v47m1-47v51.7m1-51.7v54m1-57.7v57.4m1-56v54.6m1-54.6v53.1m1-53.1v48.4m1-49.8v55.7m1-55.7v57.2m1-57.2v58.3m1-58.6v57.8m1-57.8v57.1m1-58.4v52.6m1-52.6v52.5m1-52.2v51.4m1-44.7v50.9m1-54.4v55.5m1-55.5v56.5m1-58.8v57.9m1-55.9v52.9m1-52.9v48.5m1-48.5v49.8m1-45.3v47.2m1-47.2v48.6m1-53.2v54.3m1-54.3v55.5m1-55.5v55.3m1-58.9v57.3m1-57.3v53m1-52.3v55.6m1-55.6v56m1-52.7v54.2m1-54.2v52.6m1-47.2v46.5m1-46.5v42.8m1-45.7v46m1-46v48.9m1-55.2v56.7m1-54.1v55.2m1-55.2v54.6m1-49.8v49.6m1-49.6v46.3m1-46.3v45.7m1-44.9v44.2m1-46.7v51.3m1-51.3v53.2m1-49.7v50.1m1-56v56.3m1-56.3v54m1-53.6v48.9m1-48.9v48.5m1-48.5v52m1-47.9v48.9m1-48.9v49.8m1-49.8v48.4m1-53.2v52.6m1-52.6v49m1-50.2v55.8m1-56.5v58m1-58v59.6m1-59.6v60.1m1-57.7v55.7m1-55.7v54.7m1-54.7v49m1-51v56.3m1-56.3v57.4m1-53.1v54.4m1-58.2v57.6m1-57.6v54.8m1-54.8v50.1m1-42.4v42.6m1-42.6v42.3m1-42.3v45.6m1-46.5v48.6m1-48.6v51m1-57.3v57.6m1-57.6v56m1-52.2v49.8m1-49.8v45.9m1-51.3v52.5m1-52.5v56.9m1-54.6v56.5m1-56.5v57.3m1-52.3v51.9m1-51.9v49.1m1-49.1v44.3m1-45.9v47.8m1-47.8v50.4m1-57.2v57.8m1-57.9v59.1m1-51.3v49.9m1-49.3v47.8m1-47.8v44.8m1-45.1v45.9m1-45.4v51.5m1-51.5v51.9m1-51.9v52.3m1-53.5v52.4m1-52.4v51.8m1-51.8v45.9m1-51.5v50.7m1-50.7v54.5m1-54.4v55.1m1-55.1v56.3m1-56.3v55.3m1-49.1v48.2m1-48.2v44.8m1-44.8v45.2m1-52.3v55.1m1-54.8v56.3m1-57.4v57.9m1-57.9v56.2m1-56.2v56.3m1-53.9v49.9m1-49.9v52.8m1-52.8v56.1m1-52.9v53.5m1-55.6v54.3m1-54.3v54.1m1-54.1v50.9m1-54v52.4m1-52.4v57m1-57v57.8m1-58.5v60.1m1-60.1v60.2m1-56v54m1-54v53m1-54.4v49.8m1-49.8v50.5m1-46v48.6m1-48.6v49.3m1-49.3v49.7m1-54.1v53.4m1-46.6v45.5m1-47.7v44.7m1-43.1v48.2m1-55.5v59.4m1-59.4v59.3m1-59.3v58.2m1-58.4v58.3m1-58.3v53.7m1-53.7v50.7m1-49.1v53.3m1-53.3v54.9m1-54.9v55.1m1-54.6v55m1-55v53.6m1-54.2v53.6m1-53.1v49.4m1-47.1v46m1-46v51.1m1-51.1v52.7m1-52.8v54.5m1-54.5v54.5m1-54.5v54.5m1-53.9v50.4m1-50.4v45.5m1-47.9v48.8m1-48.8v54m1-54v57m1-60.2v60m1-60v59.2m1-53.9v50.6m1-50.6v46.1m1-46.1v47.8m1-51.1v55.3m1-55.3v56.9m1-50.7v51.2m1-51.2v50.4m1-50.4v47.7m1-55.6v50.6m1-48.2v53m1-46.6v47.8m1-54.5v55.8m1-55.8v56.3m1-50.9v49.9m1-49.9v47.5m1-46.7v45.1m1-45.1v47.9m1-55v55.6m1-49.1v49.2m1-49.7v49.5m1-54.3v51.5m1-51.5v49.3m1-49.3v49.1m1-49.5v52.4m1-46.4v48.6m1-50.9v51.8m1-49.6v49.2m1-49.2v47.4m1-53v52.6m1-52.6v49.4m1-49.4v49.2m1-48.8v49.9m1-49.6v53.3m1-56.8v58.3m1-58.3v58m1-58v58.4m1-55.4v52.6m1-52.6v49.3m1-49.3v49.5m1-51.6v56.1m1-53.5v54.8"/><path fill="none" stroke="#f0000c" stroke-width="1.15" stroke-opacity="0.25" d="M71 232v49.2m1-47.5v46.9m1-46.9v42.4m1-42.4v42.2m1-48v50.6m1-50.6v52.7m1-52.7v52.9m1-52.7v51.9m1-51.9v51m1-48.1v47.2m1-47.2v44.3m1-50v53.4m1-53.4v56.1m1-54v53.1m1-54.4v55.5m1-49.1v48.2m1-48.2v43.5m1-43.5v43.9m1-45.2v45.3m1-45.3v50m1-50v52.3m1-56v55.7m1-54.3v52.9m1-52.9v51.4m1-51.4v46.7m1-48.1v54m1-54v55.5m1-55.5v56.6m1-56.9v56.1m1-56.1v55.4m1-56.7v50.9m1-50.9v50.8m1-50.5v49.7m1-43v49.2m1-52.7v53.8m1-53.8v54.8m1-57.1v56.2m1-54.2v51.2m1-51.2v46.8m1-46.8v48.1m1-43.6v45.5m1-45.5v46.9m1-51.5v52.6m1-52.6v53.8m1-53.8v53.6m1-57.2v55.6m1-55.6v51.3m1-50.6v53.9m1-53.9v54.3m1-51v52.5m1-52.5v50.9m1-45.5v44.8m1-44.8v41.1m1-44v44.3m1-44.3v47.2m1-53.5v55m1-52.4v53.5m1-53.5v52.9m1-48.1v47.9m1-47.9v44.6m1-44.6v44m1-43.2v42.5m1-45v49.6m1-49.6v51.5m1-48v48.4m1-54.3v54.6m1-54.6v52.3m1-51.9v47.2m1-47.2v46.8m1-46.8v50.3m1-46.2v47.2m1-47.2v48.1m1-48.1v46.7m1-51.5v50.9m1-50.9v47.3m1-48.5v54.1m1-54.8v56.3m1-56.3v57.9m1-57.9v58.4m1-56v54m1-54v53m1-53v47.3m1-49.3v54.6m1-54.6v55.7m1-51.4v52.7m1-56.5v55.9m1-55.9v53.1m1-53.1v48.4m1-40.7v40.9m1-40.9v40.6m1-40.6v43.9m1-44.8v46.9m1-46.9v49.3m1-55.6v55.9m1-55.9v54.3m1-50.5v48.1m1-48.1v44.2m1-49.6v50.8m1-50.8v55.2m1-52.9v54.8m1-54.8v55.6m1-50.6v50.2m1-50.2v47.4m1-47.4v42.6m1-44.2v46.1m1-46.1v48.7m1-55.5v56.1m1-56.2v57.4m1-49.6v48.2m1-47.6v46.1m1-46.1v43.1m1-43.4v44.2m1-43.7v49.8m1-49.8v50.2m1-50.2v50.6m1-51.8v50.7m1-50.7v50.1m1-50.1v44.2m1-49.8v49m1-49v52.8m1-52.7v53.4m1-53.4v54.6m1-54.6v53.6m1-47.4v46.5m1-46.5v43.1m1-43.1v43.5m1-50.6v53.4m1-53.1v54.6m1-55.7v56.2m1-56.2v54.5m1-54.5v54.6m1-52.2v48.2m1-48.2v51.1m1-51.1v54.4m1-51.2v51.8m1-53.9v52.6m1-52.6v52.4m1-52.4v49.2m1-52.3v50.7m1-50.7v55.3m1-55.3v56.1m1-56.8v58.4m1-58.4v58.5m1-54.3v52.3m1-52.3v51.3m1-52.7v48.1m1-48.1v48.8m1-44.3v46.9m1-46.9v47.6m1-47.6v48m1-52.4v51.7m1-44.9v43.8m1-46v43m1-41.4v46.5m1-53.8v57.7m1-57.7v57.6m1-57.6v56.5m1-56.7v56.6m1-56.6v52m1-52v49m1-47.4v51.6m1-51.6v53.2m1-53.2v53.4m1-52.9v53.3m1-53.3v51.9m1-52.5v51.9m1-51.4v47.7m1-45.4v44.3m1-44.3v49.4m1-49.4v51m1-51.1v52.8m1-52.8v52.8m1-52.8v52.8m1-52.2v48.7m1-48.7v43.8m1-46.2v47.1m1-47.1v52.3m1-52.3v55.3m1-58.5v58.3m1-58.3v57.5m1-52.2v48.9m1-48.9v44.4m1-44.4v46.1m1-49.4v53.6m1-53.6v55.2m1-49v49.5m1-49.5v48.7m1-48.7v46m1-53.9v48.9m1-46.5v51.3m1-44.9v46.1m1-52.8v54.1m1-54.1v54.6m1-49.2v48.2m1-48.2v45.8m1-45v43.4m1-43.4v46.2m1-53.3v53.9m1-47.4v47.5m1-48v47.8m1-52.6v49.8m1-49.8v47.6m1-47.6v47.4m1-47.8v50.7m1-44.7v46.9m1-49.2v50.1m1-47.9v47.5m1-47.5v45.7m1-51.3v50.9m1-50.9v47.7m1-47.7v47.5m1-47.1v48.2m1-47.9v51.6m1-55.1v56.6m1-56.6v56.3m1-56.3v56.7m1-53.7v50.9m1-50.9v47.6m1-47.6v47.8m1-49.9v54.4m1-51.8v53.1"/><path fill="none" stroke="#f0000c" stroke-width="1.15" stroke-opacity="0.3" d="M71 281v2.2m1-2.8v2.8m1-7.3v2.5m1-2.7v2.8m1-0.2v2m1 0.1v1.9m1-1.7v1.7m1-2.5v1.7m1-2.6v2m1-2.9v1.7m1-4.6v2.1m1 1.3v2.2m1 0.5v1.9m1-2.8v1.7m1-0.6v1.8m1-2.7v1.5m1-6.2v2.1m1-1.7v2.6m1-2.5v1.9m1 2.8v1.5m1 0.8v1.9m1-2.2v2.3m1-3.7v2.2m1-3.7v1.9m1-6.6v2.1m1 3.8v1.6m1-0.1v2.4m1-1.3v2.2m1-3v2.1m1-2.8v2.2m1-8v1.9m1-2v2m1-2.8v2m1 4.2v3.1m1-2v2.6m1-1.6v1.7m1-2.6v2m1-5v1.7m1-6.1v1.5m1-0.2v2.1m1-0.2v1.8m1-0.4v2.1m1-1v1.9m1-0.7v1.7m1-1.9v2.1m1-3.7v2.7m1-7v3.4m1-0.1v1.7m1-1.3v1.6m1-0.1v2.7m1-4.3v2.1m1-2.8v1.5m1-5.2v1.8m1-1.5v2m1 0.9v1.9m1-0.4v1.8m1-0.7v2.2m1-2.8v1.8m1-2v1.5m1-4.8v2.6m1-3.2v2m1-2.7v2.3m1 2.3v1.9m1 0v1.6m1-1.2v2.5m1-2.2v1.7m1-4v2m1-6.7v1.8m1-2.2v1.7m1 1.8v2.1m1-1.1v2.6m1-1.7v1.5m1-2.9v2.6m1-3.2v1.9m1-5.5v2.2m1 3.4v2.2m1-0.7v2.2m1-0.6v2.4m1-1.9v2.9m1-4.9v1.8m1-2.8v2.7m1-8.4v2.1m1 3.2v1.8m1-0.7v3.1m1-1.8v1.9m1-2.5v2.1m1-4.9v2m1-6.7v1.6m1-1.4v2.1m1-2.4v2.6m1 0.7v2.7m1-0.6v2.1m1 0.3v2m1-1.7v1.6m1-3.2v1.9m1-4.3v1.8m1-5.7v2m1-0.8v2.1m1 2.3v2.3m1-0.4v2.7m1-1.9v1.7m1-2.1v1.7m1-4.5v1.6m1-6.4v2.9m1-1v2.1m1 0.5v2m1-1.4v2.4m1-1.2v2.3m1-3.7v3.1m1-4.6v1.9m1-4.9v1.7m1-0.9v2m1 4.1v2.1m1-1.7v1.7m1-1.3v2.4m1-3.5v1.6m1-2.2v1.9m1-7.8v1.5m1-2.3v2.3m1 1.5v2.1m1-1.4v2.1m1-0.9v1.9m1-2.9v1.7m1-2.6v2.2m1-5.6v1.5m1-1.1v1.7m1 1.1v2.4m1-0.9v1.7m1-1.2v1.9m1-3.6v1.7m1-1.6v1.6m1-5.6v2m1 0.9v2.1m1 1.2v1.7m1-1.1v1.9m1-3.2v2.3m1-2.5v1.6m1-4.8v1.6m1-3.2v2.1m1 2.5v2.2m1-1.4v2.1m1-0.5v1.9m1-1.8v2m1-4v1.9m1-2.9v2.1m1-6.7v2.6m1-1.9v1.5m1 1.1v1.9m1-1.2v2.3m1-1.9v2.6m1-3.3v1.6m1-2.7v2.2m1-5.2v2.8m1 2.3v1.7m1 2.2v2.4m1-2.5v3.2m1-4.3v2.8m1-2.9v1.7m1-6.3v1.5m1-4.5v1.8m1 2.4v2.2m1-0.6v2.1m1-1.9v1.8m1-1.4v1.7m1-3.1v1.9m1-2.5v2.2m1-5.9v1.7m1-2.8v2m1 3.1v1.6m1 0v1.6m1 0.1v1.8m1-1.8v2m1-2v2.4m1-5.9v1.6m1-6.5v2m1-1.1v3m1 2.2v2.4m1 0.6v1.6m1-1.8v1.6m1-2.4v2.4m1-5.7v1.5m1-6v2.5m1-0.8v2.2m1 2v1.6m1 0v1.5m1-1v1.9m1-2.7v1.8m1-4.5v2.4m1-7.4v2.4m1 2.4v1.9m1-0.7v2m1-0.7v1.6m1-1.1v2.2m1-3.2v2.4m1-4.8v2.6m1-4.2v2.1m1 0.7v1.9m1-1.3v2.5m1-2.4v2.4m1-2.6v2.3m1-5.1v1.8m1-4v2m1-2.2v2.1m1 0.8v1.9m1 0.3v1.9m1-1v2.3m1-2.7v1.6m1-3.4v1.8m1-2.2v1.6m1-4.8v1.8m1-2v1.9m1-0.8v1.6m1 2.1v3.2m1-1.7v1.7m1-2v1.6m1-1.2v1.7m1-4.5v1.8m1-5.1v2.2m1-2v1.9m1 2.6v1.7m1-0.4v1.6"/><path fill="none" stroke="#f0000c" stroke-width="1.15" d="M71 242.2v35.7m1-35.8v35m1-35.2v34.2m1-34.5v34.3m1-35.4v36.7m1-37.4v38.1m1-37.4v38m1-36.3v35.3m1-34.8v34.3m1-33.5v32.6m1-37v36.4m1-37.2v38.4m1-40.2v41.5m1-39.2v39.1m1-34.9v35.5m1-36.8v36.5m1-36.3v33.6m1-35.2v33.8m1-33.9v35.3m1-37v39.2m1-39v40.4m1-37.7v37.6m1-36.3v36.3m1-37v35.7m1-37.6v35.5m1-38.5v41.5m1-43.4v43.7m1-40.7v41.5m1-40.2v39.8m1-37.6v37m1-37.5v34.2m1-35.4v35.7m1-37v35.9m1-38.8v42.8m1-39.6v41m1-39.5v39.7m1-38.3v36.8m1-37.4v36.3m1-36.3v34.4m1-36.5v36.5m1-35.9v37.5m1-38.4v39.3m1-38.3v38.9m1-37.5v38.3m1-38.9v37.5m1-36.7v35.9m1-37.5v36.1m1-36.8v37.8m1-36.4v37.7m1-39.1v38.7m1-36.1v35.4m1-34.9v35.2m1-35.6v33.5m1-36.3v35.7m1-38.3v40.5m1-38.5v39.3m1-37.3v37.7m1-34.7v34.7m1-34.4v33.3m1-36.1v35m1-35.7v35.4m1-38.4v38.5m1-39.2v41.1m1-37.7v38.2m1-35.7v35.7m1-38.1v39.3m1-37v34.8m1-38.9v36.9m1-37.2v37.5m1-38.9v40.9m1-38.6v38.9m1-35.5v35.5m1-36v36m1-34.3v34.8m1-38.8v37.2m1-38.3v39.3m1-40.1v41.6m1-38.9v38.3m1-37.3v38.4m1-37v36.7m1-36.5v35m1-36.2v34.7m1-35.3v37.6m1-38.1v38.9m1-39v37.8m1-37.4v37.8m1-37.5v36.9m1-35.5v32.6m1-35.7v35.1m1-37.6v38.2m1-39.6v42.4m1-39.8v40.7m1-38.2v38.9m1-37.8v37.6m1-38.2v38.4m1-38.7v35.5m1-39.7v38.2m1-38.4v39.9m1-36.9v39.8m1-38.6v39m1-36.7v36.8m1-37.7v36.4m1-37.9v37.7m1-40.6v37.7m1-40.5v41.4m1-38.8v41.2m1-38.2v38.6m1-38.7v38.2m1-37.3v37.5m1-39.4v38.1m1-38.5v36.6m1-38.3v38.6m1-37.1v41.3m1-39.8v38.5m1-36.1v37.1m1-36.8v36.8m1-39v38m1-38.6v34.5m1-34.4v34.7m1-35.4v37.7m1-36.7v36.9m1-37.2v37.6m1-35.4v35.4m1-36.1v35.7m1-37.7v36.2m1-37.4v36m1-35.7v38.7m1-36.5v36.7m1-36.5v37.4m1-37.8v37.1m1-37v37.8m1-39.2v35m1-37v39.8m1-39.9v40.5m1-39.2v39.9m1-37.4v38.2m1-37.3v35.9m1-35.9v34.9m1-36.4v35.5m1-38.2v39.9m1-40.1v42.3m1-40.6v40.8m1-38.5v37.7m1-37.9v37.5m1-37.8v36.3m1-35.8v33.8m1-34.5v34.8m1-37.2v39m1-37.4v37.5m1-35.5v35.3m1-36v35.5m1-34.4v33.4m1-36.2v35.5m1-35.4v38.8m1-38.7v38.9m1-37.3v37.7m1-37.3v36.7m1-38.1v38.3m1-38.3v36.3m1-37.4v35.1m1-35.6v39.1m1-41.1v41.7m1-39.4v39.2m1-37.6v37.3m1-36.8v36.5m1-36.3v35.1m1-36.7v35.9m1-35.9v36.1m1-39.3v41.4m1-39.1v39.9m1-38.3v38.9m1-36.7v36.8m1-38.5v38.5m1-38.9v36.4m1-39.6v37.8m1-38.2v37.9m1-37.8v40.6m1-38.5v40.1m1-38.5v39.1m1-38.7v36.9m1-38v37.8m1-39.6v37.2m1-37.6v38.1m1-39.2v42.3m1-39.4v39.1m1-36.7v38.1m1-39.5v37.9m1-39.2v38.6m1-37.7v34.1m1-37.1v40m1-39v39.7m1-38v38.3m1-36.7v36.5m1-36.6v36.7m1-37.7v37.3m1-37.8v36.6m1-39.1v39.5m1-38.2v38.4m1-38.8v38.9m1-36.4v36.4m1-35.7v34.5m1-34.3v33.2m1-35v35.7m1-37.3v38.8m1-37.7v38.2m1-38.4v38.5m1-36.5v37.1m1-36.6v36.2m1-37v36.7m1-37.6v34.7m1-38.8v38.6m1-37.1v37.8m1-38v39.6m1-36.6v37.8m1-36.3v36.2m1-36.7v36.1m1-37.4v37m1-36.9v35.6m1-35.5v35.3m1-35.1v37.1m1-36.6v37.7"/><path fill="none" stroke="#f0000c" stroke-width="1.15" stroke-opacity="0.45" d="M71 277.9v1.7m1-2.5v1.3m3-1.2v0.6m1 0.1v1.2m1-0.6v1.4m1-2.4v1.5m1-2v1.3m1-2.2v0.7m2-0.1v0.8m1 0.5v1.6m1-1.7v1.9m1-1.3v1.8m1-2.1v1.4m4-1.9v1.4m1 0v2m1-2.1v2.3m1-2.3v2m1-3.3v1.5m2-0.6v1.6m1-1.3v2.2m1-1.4v2.6m1-3v2.3m1-2.9v1.9m4-2v2m1-0.6v2.6m1-2.4v2.8m1-4.3v2.4m1-3.5v1.5m3-1.8v1m1-0.1v1.7m1-1.1v2m1-1.2v2.2m1-3.6v1.9m1-2.7v1.6m2-2v1.2m1 0.1v1.6m1-2v1.7m1-2.4v1.4m1-1.1v0.8m3-1.3v1.1m1-0.3v1.5m1-1.1v1.7m1-1.7v1.7m1-2.8v1.3m1-2.4v0.4m3 1.3v1.3m1-0.8v2m1-2v2.3m1-1.1v2m1-4.2v1.4m3-1.1v1.2m1-0.9v1.5m1-1.5v1.7m1-1.7v1.5m1-1v1.1m2-1.7v1.5m1 0v2.1m1-2.7v2.5m1-1.4v2.5m1-2.8v2.2m1-3.7v1.7m2-0.9v1.7m1-0.9v2.4m1-3.6v2.7m1-2.3v2.2m1-2.8v1.4m4-1.5v1.1m1-0.2v1.9m1-1.2v2.3m1-2.5v2.4m1-2.2v2m1-5.2v1.5m3 1.4v2m1-1.6v2.5m1-2.4v2.8m1-4.1v2.4m1-2.6v1.8m2-3.8v0.8m1 1.6v1.6m1-1.2v2m1-2.5v2.1m1-1.9v1.7m1-3v1.3m2-2.9v0.3m1 3.9v2m1-3.3v2.6m1-1.6v2.8m1-2.8v2.4m1-3.4v1.7m3-3.2v1.2m1-1v1.6m1-1.2v1.8m1-1.8v1.6m1-2v1.3m3-1.2v1.1m1-0.9v1.5m1-0.6v1.8m1-2.5v1.6m1-0.8v1.3m2-2.7v0.8m1-0.2v1.7m1-1v2.1m1-1.3v2.1m1-3.5v1.7m1-2.7v0.7m2 0.1v1.6m1 0.6v2.3m1-2.1v2.6m1-3.4v2.5m1-2.9v2.2m1-3.7v1.5m3-1.4v1.1m1-1v1.4m1-1.6v1.4m1-1.9v1.2m1-2.2v0.6m2 2.1v1.9m1-1.7v2.3m1-1.9v2.7m1-3.3v2.4m1-2.2v2m1-4v1.1m2 0.1v1.3m1-0.7v1.7m1-1.9v2m1-2.3v1.9m1-2.2v1.6m1-2.8v1.1m3 0.4v1.4m1-0.6v2.1m1-1.5v2.5m1-2.4v2.5m1-2.5v2.1m1-4.6v1.4m3-0.7v1.9m1-0.3v2.4m1-1.8v2.6m1-4.4v2.2m1-2.4v1.4m2-3.3v0.3m1 2.8v2m1-2.3v2.5m1-1.1v2.6m1-4.2v2.3m1-2.9v1.5m2-2.2v1.1m1-0.4v1.8m1-1.5v2.1m1-2.3v2.2m1-2.1v1.9m1-2.3v1.3m1-2.5v0.6m1-0.2v1.3m1-1.1v1.6m1-1.5v1.6m1-1.6v1.4m1-2.6v1.1m3 0v1.2m1-0.7v1.6m1-1.5v1.9m1-1.3v1.8m1-2.2v1.5m1-1.8v1.1m3-3.5v0.3m1 1.3v1.5m1-0.3v1.8m1-1.9v2m1-2.6v1.6m1-2v1.1m3-0.6v1.6m1-0.5v2.1"/><path fill="none" stroke="#f0000c" stroke-width="1.15" stroke-opacity="0.35" d="M71 238.7v3.5m1-3.6v3.5m1-3.7v3.5m1-3.8v3.5m1-4.6v3.5m1-4.2v3.5m1-2.8v3.5m1-1.8v3.5m1-3v3.5m1-2.7v3.5m1-7.9v3.5m1-4.3v3.5m1-5.3v3.5m1-1.2v3.5m1 0.7v3.5m1-4.8v3.5m1-3.3v3.5m1-5.1v3.5m1-3.6v3.5m1-5.2v3.5m1-3.3v3.5m1-0.8v3.5m1-2.2v3.5m1-4.2v3.5m1-5.4v3.5m1-6.5v3.5m1-5.4v3.5m1-0.5v3.5m1-2.2v3.5m1-1.3v3.5m1-4v3.5m1-4.7v3.5m1-4.8v3.5m1-6.4v3.5m1-0.3v3.5m1-2v3.5m1-2.1v3.5m1-4.1v3.5m1-3.5v3.5m1-5.6v3.5m1-2.9v3.5m1-4.4v3.5m1-2.5v3.5m1-2.1v3.5m1-4.1v3.5m1-2.7v3.5m1-5.1v3.5m1-4.2v3.5m1-2.1v3.5m1-4.9v3.5m1-0.9v3.5m1-3v3.5m1-3.9v3.5m1-6.3v3.5m1-6.1v3.5m1-1.5v3.5m1-1.5v3.5m1-0.5v3.5m1-3.2v3.5m1-6.3v3.5m1-4.2v3.5m1-6.5v3.5m1-4.2v3.5m1-0.1v3.5m1-1v3.5m1-5.9v3.5m1-1.2v3.5m1-7.6v3.5m1-3.8v3.5m1-4.9v3.5m1-1.2v3.5m1-0.1v3.5m1-4v3.5m1-1.8v3.5m1-7.5v3.5m1-4.6v3.5m1-4.3v3.5m1-0.8v3.5m1-2.5v3.5m1-2.1v3.5m1-3.3v3.5m1-4.7v3.5m1-4.1v3.5m1-4v3.5m1-3.6v3.5m1-3.1v3.5m1-3.2v3.5m1-2.1v3.5m1-6.6v3.5m1-6v3.5m1-4.9v3.5m1-0.9v3.5m1-1v3.5m1-2.4v3.5m1-4.1v3.5m1-3.8v3.5m1-7.7v3.5m1-3.7v3.5m1-0.5v3.5m1-2.3v3.5m1-1.2v3.5m1-4.4v3.5m1-5v3.5m1-6.4v3.5m1-6.3v3.5m1-0.9v3.5m1-0.5v3.5m1-3.6v3.5m1-2.6v3.5m1-5.4v3.5m1-3.9v3.5m1-5.2v3.5m1-2v3.5m1-2v3.5m1-1.1v3.5m1-3.2v3.5m1-5.7v3.5m1-4.1v3.5m1-3.4v3.5m1-4.2v3.5m1-2.5v3.5m1-3.8v3.5m1-1.3v3.5m1-4.2v3.5m1-5.5v3.5m1-4.7v3.5m1-3.2v3.5m1-1.3v3.5m1-3.3v3.5m1-3.9v3.5m1-3.4v3.5m1-4.9v3.5m1-5.5v3.5m1-3.6v3.5m1-2.2v3.5m1-1v3.5m1-2.6v3.5m1-3.5v3.5m1-5v3.5m1-6.2v3.5m1-3.7v3.5m1-1.8v3.5m1-1.2v3.5m1-3.7v3.5m1-3.8v3.5m1-3v3.5m1-4.2v3.5m1-5.9v3.5m1-1.9v3.5m1-1.5v3.5m1-4.2v3.5m1-2.4v3.5m1-6.3v3.5m1-3.4v3.5m1-3.4v3.5m1-1.9v3.5m1-3.1v3.5m1-4.9v3.5m1-3.5v3.5m1-4.6v3.5m1-4v3.5m1-5.5v3.5m1-1.2v3.5m1-1.9v3.5m1-3v3.5m1-3.3v3.5m1-5.1v3.5m1-3.5v3.5m1-6.7v3.5m1-1.2v3.5m1-1.9v3.5m1-1.3v3.5m1-5.2v3.5m1-3.9v3.5m1-6.7v3.5m1-3.9v3.5m1-3.4v3.5m1-1.4v3.5m1-1.9v3.5m1-3.1v3.5m1-4.6v3.5m1-5.3v3.5m1-3.9v3.5m1-4.6v3.5m1-0.6v3.5m1-1.1v3.5m1-4.9v3.5m1-4.8v3.5m1-2.6v3.5m1-6.5v3.5m1-2.5v3.5m1-1.8v3.5m1-1.9v3.5m1-3.6v3.5m1-4.5v3.5m1-4v3.5m1-6v3.5m1-2.2v3.5m1-3.9v3.5m1-1v3.5m1-2.8v3.5m1-3.3v3.5m1-5.3v3.5m1-5.1v3.5m1-2.4v3.5m1-3.7v3.5m1-1.5v3.5m1-3v3.5m1-4.3v3.5m1-4.4v3.5m1-7.6v3.5m1-2v3.5m1-3.7v3.5m1-0.5v3.5m1-2v3.5m1-4v3.5m1-4.8v3.5m1-3.4v3.5m1-3.4v3.5m1-3.3v3.5m1-3v3.5"/><rect x="71.8" y="242" width="1.8" height="35" fill="#b00050" fill-opacity="0.45"/><rect x="75.8" y="242" width="1.8" height="35" fill="#b00050" fill-opacity="0.45"/><rect x="79.3" y="242" width="1.6" height="35" fill="#b00050" fill-opacity="0.45"/><rect x="83.5" y="242" width="1.6" height="35" fill="#b00050" fill-opacity="0.45"/><rect x="86" y="242" width="2" height="35" fill="#b00050" fill-opacity="0.45"/><rect x="89.5" y="242" width="1.9" height="35" fill="#b00050" fill-opacity="0.45"/><rect x="93.8" y="242" width="1.2" height="35" fill="#b00050" fill-opacity="0.45"/><rect x="97.6" y="242" width="1.8" height="35" fill="#b00050" fill-opacity="0.45"/><rect x="100.7" y="242" width="1.2" height="35" fill="#b00050" fill-opacity="0.45"/><rect x="103.9" y="242" width="1.7" height="35" fill="#b00050" fill-opacity="0.45"/><rect x="107.4" y="242" width="1.2" height="35" fill="#b00050" fill-opacity="0.45"/><rect x="111" y="242" width="1.9" height="35" fill="#b00050" fill-opacity="0.45"/><rect x="114.7" y="242" width="1.1" height="35" fill="#b00050" fill-opacity="0.45"/><rect x="119.3" y="242" width="1.4" height="35" fill="#b00050" fill-opacity="0.45"/><rect x="121.9" y="242" width="2.1" height="35" fill="#b00050" fill-opacity="0.45"/><rect x="125.4" y="242" width="1.7" height="35" fill="#b00050" fill-opacity="0.45"/><rect x="130" y="242" width="1.9" height="35" fill="#b00050" fill-opacity="0.45"/><rect x="133.7" y="242" width="1.5" height="35" fill="#b00050" fill-opacity="0.45"/><rect x="136.2" y="242" width="1.4" height="35" fill="#b00050" fill-opacity="0.45"/><rect x="139.9" y="242" width="1.2" height="35" fill="#b00050" fill-opacity="0.45"/><rect x="143.6" y="242" width="1.3" height="35" fill="#b00050" fill-opacity="0.45"/><rect x="146.5" y="242" width="1.2" height="35" fill="#b00050" fill-opacity="0.45"/><rect x="151.2" y="242" width="1.9" height="35" fill="#b00050" fill-opacity="0.45"/><rect x="154.2" y="242" width="1.4" height="35" fill="#b00050" fill-opacity="0.45"/><rect x="158.5" y="242" width="1.7" height="35" fill="#b00050" fill-opacity="0.45"/><rect x="161.9" y="242" width="1.8" height="35" fill="#b00050" fill-opacity="0.45"/><rect x="164.4" y="242" width="2" height="35" fill="#b00050" fill-opacity="0.45"/><rect x="168.4" y="242" width="1.5" height="35" fill="#b00050" fill-opacity="0.45"/><rect x="172.2" y="242" width="1.3" height="35" fill="#b00050" fill-opacity="0.45"/><rect x="175.4" y="242" width="1.2" height="35" fill="#b00050" fill-opacity="0.45"/><rect x="178.6" y="242" width="2.1" height="35" fill="#b00050" fill-opacity="0.45"/><rect x="183.1" y="242" width="1.2" height="35" fill="#b00050" fill-opacity="0.45"/><rect x="185.8" y="242" width="1.7" height="35" fill="#b00050" fill-opacity="0.45"/><rect x="190.2" y="242" width="1.8" height="35" fill="#b00050" fill-opacity="0.45"/><rect x="193" y="242" width="1.9" height="35" fill="#b00050" fill-opacity="0.45"/><rect x="196.4" y="242" width="2.1" height="35" fill="#b00050" fill-opacity="0.45"/><rect x="200.2" y="242" width="1.6" height="35" fill="#b00050" fill-opacity="0.45"/><rect x="204.1" y="242" width="1.7" height="35" fill="#b00050" fill-opacity="0.45"/><rect x="206.8" y="242" width="1.8" height="35" fill="#b00050" fill-opacity="0.45"/><rect x="210.6" y="242" width="1.9" height="35" fill="#b00050" fill-opacity="0.45"/><rect x="213.9" y="242" width="1.5" height="35" fill="#b00050" fill-opacity="0.45"/><rect x="218.5" y="242" width="1.5" height="35" fill="#b00050" fill-opacity="0.45"/><rect x="221.8" y="242" width="1.3" height="35" fill="#b00050" fill-opacity="0.45"/><rect x="226" y="242" width="1.4" height="35" fill="#b00050" fill-opacity="0.45"/><rect x="228.5" y="242" width="1.4" height="35" fill="#b00050" fill-opacity="0.45"/><rect x="231.7" y="242" width="1.1" height="35" fill="#b00050" fill-opacity="0.45"/><rect x="236.4" y="242" width="1.4" height="35" fill="#b00050" fill-opacity="0.45"/><rect x="239.8" y="242" width="1.6" height="35" fill="#b00050" fill-opacity="0.45"/><rect x="243.6" y="242" width="2" height="35" fill="#b00050" fill-opacity="0.45"/><rect x="247.5" y="242" width="2" height="35" fill="#b00050" fill-opacity="0.45"/><rect x="250.7" y="242" width="1.3" height="35" fill="#b00050" fill-opacity="0.45"/><rect x="253.3" y="242" width="1.9" height="35" fill="#b00050" fill-opacity="0.45"/><rect x="257.8" y="242" width="1.7" height="35" fill="#b00050" fill-opacity="0.45"/><rect x="260.5" y="242" width="1.6" height="35" fill="#b00050" fill-opacity="0.45"/><rect x="264.2" y="242" width="2.1" height="35" fill="#b00050" fill-opacity="0.45"/><rect x="268.6" y="242" width="1.5" height="35" fill="#b00050" fill-opacity="0.45"/><rect x="271.9" y="242" width="1.9" height="35" fill="#b00050" fill-opacity="0.45"/><rect x="275.3" y="242" width="2" height="35" fill="#b00050" fill-opacity="0.45"/><rect x="279.2" y="242" width="1.8" height="35" fill="#b00050" fill-opacity="0.45"/><rect x="281.9" y="242" width="1.4" height="35" fill="#b00050" fill-opacity="0.45"/><rect x="285.4" y="242" width="1.4" height="35" fill="#b00050" fill-opacity="0.45"/><rect x="289.6" y="242" width="1.4" height="35" fill="#b00050" fill-opacity="0.45"/></g><g clip-path="url(#c03)"><polygon fill="#0000ff" points="71,343 72,343 73,343.7 74,343.1 75,342.7 76,343.1 77,342.9 78,342.6 79,343.9 80,344 81,342.7 82,344.2 83,344.3 84,342.7 85,343.6 86,343.3 87,343.8 88,341.9 89,343.7 90,343.2 91,343.6 92,343.8 93,342.2 94,343.4 95,343.4 96,343.7 97,344 98,343.8 99,343 100,343.8 101,343 102,343.8 103,343.3 104,343.3 105,343.5 106,342.6 107,343.2 108,342.8 109,343.9 110,344 111,342.7 112,342.3 113,343.5 114,343.1 115,342.9 116,344.5 117,343.2 118,342.9 119,343.3 120,343.5 121,344.2 122,343.6 123,342.8 124,343.2 125,344.3 126,342.5 127,343.4 128,344 129,343.5 130,343.3 131,343 132,343.5 133,343.7 134,343.5 135,343.9 136,343.5 137,344 138,343.5 139,343.9 140,343.2 141,344.3 142,344 143,343.7 144,342.9 145,343.5 146,341.9 147,343.2 148,343.5 149,343 150,343.5 151,343.7 152,344.3 153,343.4 154,342.6 155,342.2 156,343.3 157,343.9 158,344 159,343.5 160,343.1 161,343.1 162,343.3 163,343.5 164,343.7 165,343.5 166,344.4 167,343.5 168,343.7 169,343.9 170,343.9 171,343.1 172,342.6 173,342.8 174,343.6 175,343.7 176,343.6 177,343.8 178,344.1 179,343 180,344.7 181,344.7 182,343.8 183,343.3 184,343.5 185,342.7 186,343.4 187,343 188,343.4 189,343.3 190,344.5 191,343 192,343.6 193,343.2 194,344.2 195,343.9 196,342.7 197,342.9 198,343.6 199,343.1 200,343.6 201,343.5 202,342.9 203,343.3 204,343.7 205,343.4 206,343.5 207,343.6 208,343.4 209,344.1 210,342.8 211,343.7 212,343.2 213,343.6 214,343.8 215,343.7 216,343.8 217,343.8 218,343.7 219,343.3 220,343.8 221,343.9 222,343.9 223,343.6 224,343.6 225,342.4 226,343 227,343.3 228,343.9 229,344 230,343.5 231,342.9 232,343.7 233,343.9 234,343.8 235,343.1 236,342.9 237,343 238,342.9 239,343.9 240,343.6 241,344.5 242,344.2 243,343.9 244,343.1 245,343.7 246,343.6 247,342.7 248,342.8 249,343 250,344 251,343.2 252,342.7 253,343.5 254,343.7 255,342.8 256,344.4 257,343 258,343.9 259,343.8 260,343 261,343.3 262,343.4 263,343.2 264,343.8 265,343.4 266,342.5 267,343.5 268,342.8 269,343.3 270,343.5 271,343.3 272,343.9 273,343.4 274,343.1 275,344.2 276,343.8 277,343.3 278,343.4 279,343.2 280,343.4 281,342.9 282,344.3 283,344 284,342.3 285,342.9 286,343.4 287,343.1 288,342.3 289,343.8 290,342.8 291,343.7 291,355.8 290,355.5 289,355.7 288,356 287,356.2 286,356.2 285,355.2 284,355.6 283,356 282,355.6 281,355.8 280,355.9 279,356.3 278,356.4 277,356.3 276,355 275,355.3 274,355.3 273,356.1 272,355.6 271,356.1 270,355.4 269,355.8 268,356.3 267,355.6 266,355.5 265,356 264,355.5 263,355.6 262,355.8 261,355.6 260,355.7 259,356.3 258,356.1 257,355.7 256,354.9 255,354.9 254,356 253,355.3 252,355.7 251,356.2 250,355.7 249,356.2 248,354.7 247,355.5 246,355.6 245,356.4 244,354.7 243,355.3 242,355.5 241,356.1 240,355.2 239,355.8 238,356 237,356.1 236,355.7 235,356.4 234,354.6 233,355.5 232,354.8 231,355.3 230,356.2 229,355 228,355.6 227,354.9 226,355 225,356.1 224,355.5 223,355.5 222,356 221,355.4 220,355.9 219,356 218,354.7 217,355.6 216,356.1 215,355.6 214,355.6 213,356.3 212,356.1 211,355.5 210,356 209,354.7 208,355.3 207,355.9 206,356.1 205,354.8 204,355.5 203,355.6 202,354.8 201,354.4 200,355.8 199,355.4 198,356.1 197,355.5 196,356.7 195,355.9 194,354.6 193,355.9 192,356.7 191,355.8 190,356.3 189,356.3 188,355.3 187,356.3 186,356.3 185,356.8 184,355.5 183,356.4 182,355.9 181,354.9 180,356.7 179,355.4 178,356.1 177,355 176,355.4 175,355.6 174,356.2 173,356.5 172,355.2 171,355.3 170,355.6 169,355.4 168,355.6 167,355.6 166,355.6 165,355.6 164,356.5 163,355.7 162,356.4 161,355.7 160,355.1 159,355.4 158,356.1 157,355.7 156,356.3 155,355.4 154,355.5 153,354.7 152,356.2 151,355.7 150,356.8 149,356 148,356.5 147,355.4 146,356.3 145,355.1 144,355.4 143,355 142,355.4 141,356.5 140,355.4 139,355.8 138,354.9 137,355 136,355.6 135,356.2 134,355.4 133,355.5 132,356.9 131,355.9 130,355.5 129,356.1 128,356.7 127,356.1 126,355.5 125,356.5 124,356.3 123,356.3 122,355.9 121,356.4 120,356.4 119,355.6 118,356 117,355.2 116,355.5 115,355.2 114,355.9 113,356 112,355.1 111,355.6 110,355.9 109,356.5 108,356.3 107,355.4 106,355.3 105,356.7 104,356.1 103,355.9 102,356.1 101,355.5 100,354.6 99,356.1 98,355.5 97,355.3 96,354.8 95,355.4 94,356 93,354.5 92,354.9 91,355.4 90,356.2 89,355.4 88,355.9 87,355.8 86,356.1 85,355.3 84,355.4 83,354.4 82,354.9 81,356.1 80,356.5 79,355.2 78,355.9 77,356.2 76,356.5 75,355.1 74,356.6 73,355.3 72,356.5 71,355.9"/><polygon fill="#ff3030" fill-opacity="0.35" points="71,368.7 72,368.8 73,368 74,367.4 75,369.4 76,368.5 77,368.7 78,369.9 79,369.5 80,369.5 81,368.6 82,369.2 83,369.4 84,368.5 85,369.4 86,369.5 87,369.2 88,368.3 89,368.6 90,369.6 91,369.1 92,368.5 93,369.2 94,368.8 95,368.9 96,369.4 97,370.5 98,370 99,369.5 100,369.3 101,369.6 102,368.4 103,369 104,368.8 105,367.9 106,367.4 107,368.6 108,369.4 109,369.4 110,370.2 111,369.4 112,369.3 113,369.5 114,367.5 115,368.9 116,367.3 117,367.1 118,367.5 119,368.1 120,366.9 121,367.1 122,368.1 123,368.5 124,367.5 125,368.3 126,367.2 127,368.3 128,366.3 129,366.9 130,366.9 131,366.7 132,366.7 133,367.7 134,366.9 135,368.2 136,367.2 137,367.6 138,367 139,367.4 140,367.7 141,366.4 142,366.9 143,366.9 144,366.7 145,368 146,367.4 147,368.8 148,366.9 149,367.4 150,368 151,367.4 152,366.6 153,367.6 154,367.6 155,366.8 156,367.5 157,366.5 158,367.7 159,369.2 160,368.6 161,368.3 162,367.2 163,367.2 164,367.8 165,366.8 166,367.6 167,366.4 168,367.2 169,367 170,365.9 171,367 172,367.6 173,367.2 174,367.5 175,368 176,367.6 177,366.9 178,367.8 179,368.5 180,367.2 181,367.6 182,366.9 183,366.7 184,367.1 185,367 186,368.3 187,367.2 188,367 189,367.2 190,368.2 191,367.5 192,367.4 193,367.6 194,366.7 195,367.3 196,367.4 197,366.9 198,366.8 199,367.3 200,366.3 201,368.6 202,369.4 203,367.8 204,366.2 205,367.4 206,366.8 207,366.2 208,367.5 209,367.7 210,367.1 211,367.9 212,367.4 213,366.5 214,367.7 215,366.7 216,367.4 217,367.1 218,367.8 219,367.1 220,366.9 221,367.6 222,367.9 223,367.5 224,368.1 225,366.6 226,367.1 227,367.6 228,366.6 229,365.4 230,367.7 231,367.1 232,367.7 233,367.7 234,367.7 235,368.1 236,367.8 237,367.8 238,366.6 239,367 240,367.3 241,367.9 242,366.6 243,366.8 244,367.3 245,366.6 246,366.1 247,365.9 248,368 249,366.7 250,367.5 251,367.4 252,366.6 253,367.3 254,366 255,367.1 256,366.5 257,367.4 258,367 259,367.1 260,367.4 261,366.8 262,366.2 263,366.2 264,367.6 265,366.3 266,366.8 267,367.3 268,367.8 269,367.1 270,366.8 271,368.5 272,367.5 273,366.4 274,367.1 275,367.2 276,366.2 277,368 278,367.7 279,367.5 280,367.3 281,366.6 282,366 283,367.1 284,367.5 285,368.7 286,367.6 287,367.8 288,367.3 289,366.1 290,367.7 291,367 291,380.5 290,379 289,379.6 288,380.9 287,379.4 286,380.6 285,381 284,379.8 283,379.5 282,378.7 281,379.4 280,381.8 279,379.3 278,380 277,380.8 276,379.4 275,380.4 274,379.2 273,380 272,380.3 271,379.8 270,380.7 269,382 268,379.8 267,379.2 266,379.3 265,379 264,379.5 263,378.4 262,379 261,379.5 260,379.8 259,379.2 258,380.2 257,380.1 256,380.3 255,379.6 254,379.9 253,378.7 252,378.9 251,378.2 250,380.2 249,380.2 248,380.4 247,380.8 246,379.4 245,380.5 244,379.8 243,380.9 242,379.2 241,380.4 240,378.6 239,380.8 238,380.1 237,379.9 236,380.1 235,380.3 234,380.4 233,380.5 232,379.9 231,380.7 230,378.9 229,380.1 228,379.7 227,379.4 226,380.4 225,379 224,379.2 223,380.5 222,379.6 221,379.9 220,380.1 219,378.7 218,381 217,380.6 216,380.6 215,379.8 214,379.8 213,379.3 212,378.8 211,380 210,381.1 209,379.8 208,379.6 207,380.4 206,381.7 205,381 204,380.3 203,380.3 202,381.6 201,380.1 200,379.4 199,379.1 198,379.8 197,380.2 196,379.1 195,378.9 194,379.8 193,379.7 192,381.6 191,379.2 190,380 189,378.8 188,380.2 187,379.1 186,379.6 185,379.2 184,380.7 183,379.1 182,380.4 181,379.9 180,380.3 179,380.4 178,379.8 177,379.2 176,381.3 175,380.3 174,379.5 173,379.5 172,380.5 171,379.5 170,380.1 169,379.8 168,378.9 167,379.9 166,380 165,379.3 164,379.9 163,380.2 162,380.1 161,379.9 160,379.8 159,380 158,380 157,381.1 156,379.8 155,380 154,380.3 153,380.5 152,380.9 151,380 150,380.2 149,379.8 148,379.6 147,381.3 146,380.7 145,380.1 144,380.9 143,381 142,379.4 141,380 140,379.8 139,379.6 138,379.6 137,379.7 136,379.5 135,379.7 134,379 133,379.3 132,379.6 131,380.7 130,380.2 129,379.6 128,379.1 127,380.4 126,380.4 125,380 124,379.5 123,380.1 122,380.4 121,379.6 120,380.5 119,380.6 118,379.9 117,379.9 116,379.6 115,381.4 114,380.3 113,382.2 112,382.1 111,381.9 110,382.4 109,382.2 108,382.3 107,381.8 106,382.2 105,381.3 104,380.6 103,380.8 102,382.3 101,382.7 100,381.9 99,382.2 98,382 97,383.1 96,382.6 95,382.5 94,381.4 93,382.4 92,381.6 91,380.8 90,381.8 89,381.9 88,381.7 87,380.9 86,380.7 85,381.2 84,381.6 83,381.9 82,379.8 81,381.9 80,382.1 79,381.5 78,381.6 77,381 76,380.7 75,381 74,381.1 73,382.2 72,381.5 71,380.6"/><polygon fill="#ff0000" fill-opacity="0.85" points="71,370.3 72,369.1 73,369.2 74,369.6 75,369.2 76,369.9 77,370 78,368.7 79,369.3 80,370.2 81,370.8 82,369.7 83,370.6 84,369.3 85,369.9 86,369.7 87,370.1 88,369.3 89,369.6 90,371.2 91,370.5 92,369.1 93,370.7 94,369.7 95,371 96,369.7 97,371 98,370.6 99,370.6 100,370.1 101,371.7 102,370 103,369.7 104,368.8 105,370.4 106,370.6 107,370.1 108,369.6 109,370.7 110,370.5 111,369.6 112,371.6 113,370.7 114,368.2 115,368.4 116,369.2 117,369.4 118,369.2 119,368.8 120,368.1 121,369.8 122,368.7 123,369 124,369 125,368.8 126,369.1 127,369.5 128,366.6 129,368 130,369 131,369.2 132,367.6 133,368.7 134,368.6 135,368.3 136,367.8 137,369.1 138,369.3 139,369.5 140,368.4 141,368.2 142,369.1 143,370.5 144,368.5 145,368.7 146,370.1 147,368.2 148,367.2 149,369.3 150,369.9 151,370 152,369.7 153,369.8 154,368.3 155,369.1 156,367.9 157,367.7 158,368.5 159,368.3 160,368.4 161,368.4 162,368.3 163,368.7 164,367.6 165,367.7 166,368.2 167,368.2 168,368.4 169,368.5 170,368.5 171,368.5 172,368.8 173,368 174,368.5 175,367.7 176,368.9 177,369 178,368 179,369.1 180,368.2 181,368.4 182,369.2 183,368.8 184,368.5 185,368.9 186,368.4 187,367.7 188,369.1 189,367.1 190,369 191,368.2 192,369.5 193,368.2 194,369.4 195,367.8 196,366.6 197,369.7 198,368.1 199,368.2 200,368.2 201,368.5 202,369.2 203,368.4 204,369.9 205,368.5 206,369.2 207,369.3 208,368.6 209,369.4 210,368.3 211,367.7 212,367.9 213,368.8 214,369.2 215,368 216,369.3 217,368.1 218,368.9 219,368.8 220,367.1 221,368.9 222,368.5 223,367.6 224,368.9 225,368.5 226,368.2 227,367.5 228,367.3 229,367 230,368.1 231,367.7 232,368.1 233,368.9 234,368.9 235,368.7 236,369 237,368.3 238,369 239,369.3 240,368.2 241,367.7 242,367.6 243,367.9 244,367.8 245,369.2 246,368.8 247,367.4 248,369.1 249,368.3 250,367.4 251,368.4 252,367.9 253,368.3 254,368.7 255,367.9 256,369.2 257,368.5 258,367.5 259,367.1 260,369.5 261,367.8 262,368.2 263,368.2 264,368.6 265,367.2 266,366.6 267,368.3 268,368 269,368.6 270,370.4 271,368.7 272,369.3 273,367.8 274,370.4 275,368.1 276,368.7 277,368.9 278,368.4 279,368.9 280,368.2 281,367.7 282,367.7 283,368.1 284,368.9 285,368.9 286,368.3 287,368.3 288,369.6 289,368 290,369.1 291,368 291,379.8 290,379.2 289,378.8 288,378.6 287,378.9 286,378.6 285,378.9 284,379.9 283,378.4 282,378.8 281,378.7 280,379.2 279,379.2 278,378.4 277,379.3 276,378.7 275,378.4 274,378.2 273,379.9 272,378.9 271,379.9 270,379.3 269,379.5 268,380.5 267,378.1 266,378.3 265,379.1 264,378.9 263,379.1 262,379.2 261,378.4 260,377.7 259,377.4 258,377.8 257,378.3 256,379 255,377 254,379.2 253,379.6 252,379.2 251,379.3 250,379.1 249,378.1 248,379.6 247,379.7 246,378.6 245,377.3 244,378 243,379.1 242,378.6 241,378.2 240,378.8 239,379 238,378.5 237,378.5 236,379.6 235,378.6 234,379.3 233,379.1 232,379.2 231,378.3 230,377.9 229,377.9 228,378.6 227,378.3 226,378.1 225,378.8 224,378 223,378.5 222,379.3 221,378.6 220,378.2 219,379.2 218,379.6 217,379 216,378.3 215,378.5 214,379.3 213,378.5 212,378.8 211,378.1 210,378.5 209,378.9 208,379.9 207,378.3 206,378.6 205,378.3 204,378.3 203,379.5 202,378.9 201,379.8 200,377.9 199,379.6 198,378.3 197,378.4 196,378.6 195,378.8 194,379 193,378.9 192,379.4 191,380.1 190,379.3 189,378 188,379.1 187,378.4 186,379.2 185,379.1 184,379.3 183,378 182,378.3 181,378.9 180,379.5 179,379.4 178,378.8 177,378.2 176,379.5 175,378.3 174,378.4 173,377.9 172,377.9 171,379.3 170,377.9 169,378.3 168,379.5 167,379 166,377.7 165,377.2 164,378.6 163,380.2 162,379.6 161,378.2 160,378.7 159,380.2 158,379.3 157,378.5 156,378.9 155,377.9 154,379.2 153,379 152,379.8 151,377.9 150,380.7 149,378.8 148,378.7 147,379.1 146,379 145,379.6 144,378.8 143,378.6 142,377.8 141,377.9 140,378.9 139,378.6 138,378.6 137,378.1 136,378.8 135,378.2 134,377.7 133,378.8 132,378.4 131,379.1 130,378.7 129,378.3 128,377.5 127,377.8 126,378.3 125,380.2 124,379.3 123,379.2 122,379.2 121,378.7 120,379.3 119,378.6 118,379.3 117,378.4 116,378.3 115,380.3 114,379.4 113,380.2 112,380.5 111,381.3 110,382.3 109,381.2 108,381.4 107,380.4 106,379 105,380 104,379.7 103,381.2 102,381 101,381.1 100,381 99,381.3 98,382.3 97,382.2 96,381.8 95,379.9 94,380.3 93,380.5 92,378.7 91,379.8 90,379.9 89,380.6 88,380.1 87,380.5 86,380.5 85,380.2 84,379.6 83,380.8 82,380.9 81,380.6 80,380 79,380.1 78,379.4 77,380.8 76,380.7 75,380.5 74,379.7 73,379.1 72,379.7 71,380.5"/></g><g clip-path="url(#c10)"><polygon fill="#ff8c00" points="315.6,64.1 316.6,63.8 317.6,65.3 318.6,64.2 319.6,64.5 320.6,65.5 321.6,65.3 322.6,65.3 323.6,63.6 324.6,65.4 325.6,65.2 326.6,64.2 327.6,64.6 328.6,65.5 329.6,65.3 330.6,65.3 331.6,65.5 332.6,62.6 333.6,64.9 334.6,64.9 335.6,64.8 336.6,64 337.6,63.2 338.6,65 339.6,65.4 340.6,65.3 341.6,64 342.6,64.9 343.6,65 344.6,64.3 345.6,65.3 346.6,65.5 347.6,64.8 348.6,64.9 349.6,65.5 350.6,64.9 351.6,64.8 352.6,64.8 353.6,64.2 354.6,65.1 355.6,64.2 356.6,65.1 357.6,65.2 358.6,65.1 359.6,65.2 360.6,64.5 361.6,64.6 362.6,65.1 363.6,64 364.6,64.9 365.6,64.8 366.6,64 367.6,65.5 368.6,64.1 369.6,64.7 370.6,64 371.6,65.2 372.6,65.5 373.6,64.8 374.6,64.9 375.6,65.4 376.6,64.8 377.6,65.2 378.6,64.9 379.6,64.6 380.6,64.7 381.6,63 382.6,64.7 383.6,64.7 384.6,64.3 385.6,64.7 386.6,64.5 387.6,64.7 388.6,65 389.6,65.5 390.6,65.1 391.6,65.5 392.6,63.8 393.6,64.5 394.6,64.2 395.6,65.4 396.6,64.1 397.6,64.6 398.6,64.2 399.6,63.9 400.6,64.3 401.6,64.6 402.6,65.5 403.6,64.7 404.6,65.4 405.6,63.2 406.6,63.7 407.6,65.5 408.6,65 409.6,65.2 410.6,65.2 411.6,64.5 412.6,64.6 413.6,64.1 414.6,64.3 415.6,65.1 416.6,65.2 417.6,65 418.6,64.1 419.6,65.4 420.6,63.8 421.6,65.3 422.6,65.2 423.6,65 424.6,64.4 425.6,64.7 426.6,65.3 427.6,64.9 428.6,65 429.6,64.6 430.6,63.5 431.6,65.5 432.6,64.7 433.6,64 434.6,65.2 435.6,65.4 436.6,65.4 437.6,64.8 438.6,64.5 439.6,64.9 440.6,64.7 441.6,65.2 442.6,62.8 443.6,63.3 444.6,65.5 445.6,65.3 446.6,64.1 447.6,65.1 448.6,65 449.6,65.3 450.6,65.2 451.6,65.4 452.6,63 453.6,65.4 454.6,64.6 455.6,64.5 456.6,65.5 457.6,63.2 458.6,64.3 459.6,65.2 460.6,64 461.6,63.8 462.6,65.2 463.6,64.6 464.6,65.3 465.6,65.3 466.6,64.2 467.6,65.1 468.6,65 469.6,64.6 470.6,65.3 471.6,65.2 472.6,65.2 473.6,65.3 474.6,65 475.6,64.7 476.6,64.3 477.6,64.7 478.6,66.6 479.6,67.4 480.6,67.1 481.6,68.4 482.6,67.7 483.6,66.3 484.6,66.1 485.6,64.6 486.6,65.4 487.6,64.7 488.6,64.7 489.6,63.6 490.6,65.4 491.6,64.9 492.6,64.8 493.6,64.8 494.6,64.8 495.6,63.8 496.6,64.2 497.6,65 498.6,64.5 499.6,64.9 500.6,65.6 501.6,65.5 502.6,64.6 503.6,64.7 504.6,65 505.6,65.3 506.6,64.7 507.6,64.7 508.6,65.6 509.6,64.8 510.6,65.2 511.6,64.4 512.6,64.3 513.6,64.6 514.6,65.4 515.6,65.5 516.6,64.6 517.6,65.2 518.6,64.4 519.6,65 520.6,64.6 521.6,64 522.6,63.4 523.6,65 524.6,64.9 525.6,64.9 526.6,63.7 527.6,65.4 528.6,64.2 529.6,64.4 530.6,65.5 531.6,65.6 532.6,65.5 533.6,64.8 534.6,65.6 535.6,65 535.6,83.9 534.6,83.9 533.6,84.4 532.6,84 531.6,84.1 530.6,83.9 529.6,83.8 528.6,84.8 527.6,83.8 526.6,84.4 525.6,84.1 524.6,84 523.6,84.3 522.6,84.4 521.6,84.4 520.6,84.4 519.6,84.1 518.6,84.1 517.6,84.6 516.6,83.9 515.6,84.1 514.6,84 513.6,84.6 512.6,84.5 511.6,84.6 510.6,84.3 509.6,84.5 508.6,84 507.6,84.1 506.6,83.8 505.6,84.1 504.6,84.1 503.6,84.1 502.6,84.2 501.6,84.5 500.6,84.3 499.6,84.3 498.6,83.8 497.6,83.9 496.6,84.5 495.6,84.7 494.6,84 493.6,83.9 492.6,84.2 491.6,84.3 490.6,84.4 489.6,84 488.6,84.5 487.6,84.3 486.6,84.5 485.6,83.9 484.6,83.9 483.6,85 482.6,84.2 481.6,84 480.6,84.6 479.6,84.2 478.6,83.9 477.6,84.1 476.6,84.1 475.6,83.8 474.6,83.8 473.6,83.9 472.6,83.9 471.6,84.3 470.6,84.5 469.6,84.4 468.6,84 467.6,85.3 466.6,84.1 465.6,83.9 464.6,84.7 463.6,84.1 462.6,83.9 461.6,85.1 460.6,83.9 459.6,84.4 458.6,83.9 457.6,84.2 456.6,84 455.6,83.8 454.6,84.8 453.6,84 452.6,83.8 451.6,84.4 450.6,83.9 449.6,84.2 448.6,84.3 447.6,83.9 446.6,84.5 445.6,84.3 444.6,84.1 443.6,84.3 442.6,84 441.6,84.4 440.6,83.9 439.6,84.1 438.6,83.9 437.6,84.4 436.6,83.9 435.6,83.9 434.6,83.9 433.6,84.2 432.6,84 431.6,84.2 430.6,84 429.6,84.2 428.6,83.8 427.6,84 426.6,84.1 425.6,84.1 424.6,83.9 423.6,84.8 422.6,84.1 421.6,85 420.6,83.9 419.6,84.1 418.6,84.5 417.6,83.8 416.6,84.2 415.6,83.8 414.6,84.1 413.6,85 412.6,84 411.6,84.4 410.6,84.2 409.6,84.2 408.6,84.4 407.6,84.8 406.6,84.7 405.6,84 404.6,83.8 403.6,84.5 402.6,84.2 401.6,83.9 400.6,84.3 399.6,84 398.6,83.8 397.6,83.9 396.6,83.9 395.6,83.8 394.6,84.2 393.6,83.8 392.6,84.1 391.6,84.3 390.6,83.9 389.6,84.6 388.6,84 387.6,84.3 386.6,84 385.6,84.3 384.6,84.1 383.6,84.4 382.6,84.4 381.6,84.8 380.6,83.8 379.6,85.3 378.6,84.8 377.6,84.2 376.6,84.8 375.6,83.9 374.6,84.1 373.6,84.3 372.6,84 371.6,84 370.6,83.9 369.6,84.3 368.6,83.9 367.6,83.9 366.6,84.1 365.6,84.1 364.6,83.8 363.6,84 362.6,83.9 361.6,84.1 360.6,84.4 359.6,85 358.6,84.3 357.6,84 356.6,84.1 355.6,84.4 354.6,84.4 353.6,84.5 352.6,83.9 351.6,84.2 350.6,84.1 349.6,84.3 348.6,84.4 347.6,84.3 346.6,84.1 345.6,83.8 344.6,84.1 343.6,84.3 342.6,84.2 341.6,83.9 340.6,84.9 339.6,84 338.6,83.9 337.6,84 336.6,84 335.6,84.5 334.6,84.3 333.6,83.9 332.6,84.2 331.6,84.6 330.6,84.2 329.6,84.6 328.6,84.1 327.6,84.2 326.6,84.2 325.6,84.1 324.6,84.2 323.6,84.2 322.6,84.3 321.6,84.1 320.6,83.9 319.6,84.4 318.6,84.6 317.6,84.3 316.6,84.1 315.6,84"/><rect x="461.6" y="63.9" width="1.2" height="1.2" fill="#20e020"/><rect x="514.6" y="64.3" width="1.2" height="1.2" fill="#20e020"/><rect x="515.6" y="64" width="1.2" height="1.2" fill="#20e020"/><rect x="522.6" y="64.1" width="1.2" height="1.2" fill="#20e020"/><rect x="528.6" y="63.7" width="1.2" height="1.2" fill="#20e020"/><polygon fill="#0000ff" points="315.6,66.2 316.6,66.1 317.6,65.4 318.6,65.2 319.6,65.8 320.6,65.6 321.6,65.5 322.6,65.6 323.6,66.2 324.6,65.7 325.6,66.4 326.6,66 327.6,65.3 328.6,65.9 329.6,66.2 330.6,65.3 331.6,65.4 332.6,65.8 333.6,65.6 334.6,66.3 335.6,65.5 336.6,66.3 337.6,65.4 338.6,65.5 339.6,65.9 340.6,66 341.6,65.8 342.6,66.3 343.6,66.3 344.6,66.4 345.6,65.8 346.6,66.1 347.6,65.7 348.6,66.2 349.6,65.1 350.6,65.6 351.6,65.7 352.6,65.7 353.6,66.3 354.6,65.4 355.6,65.6 356.6,65.4 357.6,65.8 358.6,65.5 359.6,66.1 360.6,66.1 361.6,65.2 362.6,65.2 363.6,66.1 364.6,65.9 365.6,65.3 366.6,65.8 367.6,65.4 368.6,66 369.6,65.4 370.6,65.6 371.6,65.9 372.6,65.8 373.6,66.1 374.6,65.9 375.6,65.4 376.6,65.9 377.6,65.5 378.6,66.2 379.6,66.3 380.6,66.1 381.6,66.5 382.6,66 383.6,66.2 384.6,66.1 385.6,66.1 386.6,66.1 387.6,65.9 388.6,66.3 389.6,65.5 390.6,65.3 391.6,65.6 392.6,66.3 393.6,65.7 394.6,65.6 395.6,65.5 396.6,65.9 397.6,65.8 398.6,66.2 399.6,65.7 400.6,66.1 401.6,65.5 402.6,66 403.6,66.7 404.6,65.7 405.6,65.8 406.6,66.1 407.6,65.5 408.6,65.7 409.6,65.6 410.6,65.9 411.6,65.4 412.6,66.2 413.6,65.8 414.6,65.9 415.6,65.8 416.6,65.8 417.6,65.1 418.6,66.2 419.6,65.5 420.6,66.1 421.6,65.8 422.6,65.7 423.6,66 424.6,66.3 425.6,65.8 426.6,65.6 427.6,65.9 428.6,65.1 429.6,65.5 430.6,65.5 431.6,65.7 432.6,65.4 433.6,66.1 434.6,65.7 435.6,65.8 436.6,65.8 437.6,65.7 438.6,65.6 439.6,66.2 440.6,66.1 441.6,66.3 442.6,65.8 443.6,65.9 444.6,65.9 445.6,65.7 446.6,65.8 447.6,65.3 448.6,65.4 449.6,65.5 450.6,65.5 451.6,65.9 452.6,65.9 453.6,65.9 454.6,65.7 455.6,66.1 456.6,66.1 457.6,66 458.6,65.7 459.6,66.3 460.6,65.4 461.6,65.3 462.6,65.4 463.6,66.2 464.6,65.8 465.6,65.6 466.6,65.1 467.6,65.7 468.6,65.5 469.6,65.2 470.6,66.1 471.6,65.8 472.6,66.2 473.6,65.8 474.6,66 475.6,65.6 476.6,66 477.6,65.7 478.6,66 479.6,65.9 480.6,65.5 481.6,65.8 482.6,65.9 483.6,65.6 484.6,65.8 485.6,66.1 486.6,66.2 487.6,65.8 488.6,65.1 489.6,66 490.6,66.4 491.6,65.7 492.6,65.5 493.6,65.9 494.6,65.9 495.6,66.1 496.6,65.6 497.6,66.3 498.6,66.1 499.6,65.5 500.6,66.1 501.6,65.8 502.6,66 503.6,65.9 504.6,65.8 505.6,65.9 506.6,65.7 507.6,65.6 508.6,65.7 509.6,65.7 510.6,65.9 511.6,65.9 512.6,65.3 513.6,66.1 514.6,65.8 515.6,66.1 516.6,66 517.6,65.9 518.6,66 519.6,65.4 520.6,66.3 521.6,66.4 522.6,66 523.6,65.7 524.6,66 525.6,65.7 526.6,66.3 527.6,65.7 528.6,65.5 529.6,65.6 530.6,65.6 531.6,66 532.6,65.8 533.6,65.9 534.6,65.7 535.6,66.2 535.6,68.4 534.6,67.6 533.6,67.7 532.6,67.9 531.6,68 530.6,67.3 529.6,67.8 528.6,67.6 527.6,68.1 526.6,68.2 525.6,68.3 524.6,67.7 523.6,68.2 522.6,68.5 521.6,68 520.6,68.5 519.6,68.5 518.6,67.7 517.6,67.9 516.6,67.9 515.6,67.9 514.6,68.2 513.6,68.1 512.6,67.9 511.6,67.7 510.6,68 509.6,67.4 508.6,68 507.6,68.1 506.6,68.1 505.6,68.1 504.6,67.9 503.6,68.5 502.6,68.3 501.6,68 500.6,68.1 499.6,67.8 498.6,68.2 497.6,68 496.6,67.5 495.6,68.6 494.6,68 493.6,67.7 492.6,67.7 491.6,68.1 490.6,68.2 489.6,68.2 488.6,68 487.6,68.1 486.6,67.9 485.6,69.3 484.6,70.2 483.6,72.1 482.6,74.5 481.6,75.9 480.6,75.9 479.6,76.1 478.6,76 477.6,68.1 476.6,68.2 475.6,68.5 474.6,67.1 473.6,67.7 472.6,68 471.6,67.9 470.6,68.1 469.6,67.5 468.6,68.4 467.6,67.9 466.6,68.1 465.6,67.9 464.6,68.1 463.6,68.1 462.6,67.7 461.6,68.5 460.6,68.2 459.6,67.8 458.6,67.8 457.6,68.4 456.6,68.2 455.6,68.4 454.6,67.5 453.6,68.2 452.6,68.3 451.6,68.1 450.6,67.7 449.6,67.9 448.6,67.8 447.6,67.9 446.6,67.8 445.6,67.9 444.6,67.7 443.6,68.5 442.6,68 441.6,67.5 440.6,67.9 439.6,67.8 438.6,68.5 437.6,68.2 436.6,67.9 435.6,68.1 434.6,68.1 433.6,68.8 432.6,68 431.6,68.2 430.6,67.8 429.6,68.1 428.6,68.2 427.6,68.2 426.6,67.6 425.6,67.9 424.6,68.5 423.6,67.9 422.6,68.6 421.6,68.4 420.6,68.2 419.6,68.3 418.6,68.4 417.6,68.3 416.6,67.7 415.6,68.1 414.6,67.3 413.6,68.3 412.6,68 411.6,68.4 410.6,68.2 409.6,67.8 408.6,67.7 407.6,67.5 406.6,68 405.6,68.2 404.6,68.3 403.6,68.2 402.6,68.1 401.6,68.3 400.6,68.2 399.6,67.6 398.6,68 397.6,68.1 396.6,67.9 395.6,68.4 394.6,67.5 393.6,67.8 392.6,67.2 391.6,68.1 390.6,67.8 389.6,68.2 388.6,67.8 387.6,68.6 386.6,68.5 385.6,68 384.6,67.7 383.6,67.8 382.6,68.1 381.6,68.3 380.6,68 379.6,68.2 378.6,67.7 377.6,67.6 376.6,68 375.6,68.2 374.6,68.4 373.6,67.5 372.6,67.8 371.6,67.9 370.6,68.4 369.6,68.2 368.6,68.4 367.6,68.3 366.6,67.8 365.6,67.8 364.6,67.5 363.6,67.6 362.6,68.3 361.6,68 360.6,68.1 359.6,68 358.6,68.4 357.6,68.2 356.6,67.7 355.6,68.2 354.6,67.9 353.6,67.9 352.6,68.2 351.6,68.1 350.6,67.8 349.6,68 348.6,67.9 347.6,67.3 346.6,68 345.6,68.1 344.6,67.4 343.6,68.3 342.6,68.2 341.6,68.3 340.6,67.5 339.6,68.1 338.6,68 337.6,68.1 336.6,68.2 335.6,67.4 334.6,68.3 333.6,67.7 332.6,67.8 331.6,67.9 330.6,68 329.6,68 328.6,67.4 327.6,67.7 326.6,67.4 325.6,67.6 324.6,68.4 323.6,67.8 322.6,68.1 321.6,68.4 320.6,67.9 319.6,67.9 318.6,68.1 317.6,68.5 316.6,68.1 315.6,68"/><path fill="none" stroke="#ff0000" stroke-width="1.15" d="M315.6 67.6v16.2m1-16.5v16.7m1-17v17.8m1-17.3v16.3m1-16.1v16.3m1-17v17.9m1-17.4v16.9m1-17.4v17.4m1-16.8v15.9m1-15.6v15.6m1-16.3v17m1-16.8v17.8m1-17.5v15.3m1-16.1v16.1m1-15.7v17m1-16.9v16.7m1-16.9v16.2m1-16.1v17.2m1-17.2v16.8m1-16.7v16.3m1-16.7v16.9m1-16.6v16.4m1-16.3v16.8m1-17.3v16.7m1-16.1v15.8m1-15.6v15.9m1-16.2v16.8m1-17.3v17.7m1-17.5v16.5m1-16.7v16.5m1-16.5v17.3m1-16.9v17.3m1-17.1v16.3m1-16.9v18m1-17.6v16.2m1-16.5v17.8m1-17.8v17.4m1-17v15.6m1-15.9v17.2m1-17.4v17m1-16.8v16.8m1-16.5v16.2m1-16.3v16.7m1-16.7v16.3m1-16.5v17m1-16.4v16.9m1-17.5v17.7m1-17.9v17.7m1-17.6v17.5m1-16.9v16.6m1-17.1v16.8m1-16.3v15.7m1-16.2v17.5m1-17.2v16.3m1-16.4v16.8m1-16.7v15.8m1-15.5v16.5m1-17v17.6m1-17.7v16.8m1-16.4v17m1-17.6v17m1-16.5v16.7m1-17.2v16.8m1-16v14.8m1-15.1v16.8m1-16.5v16.6m1-17.3v17.3m1-16.4v17.1m1-17.4v16.9m1-17.2v17m1-16.9v16.2m1-16.4v18.5m1-18.6v16.1m1-16.2v16.8m1-16.8v16.7m1-15.4v16.3m1-16.9v16.5m1-16.3v16.4m1-16.5v15.2m1-15.4v16.1m1-16.6v17.5m1-17.2v16.3m1-16.7v16.3m1-16.3v17.1m1-17.1v16.7m1-16.7v17m1-16.6v16.8m1-17v16.2m1-16.5v17.1m1-17v17.8m1-17.6v16.7m1-16.7v16.7m1-16.6v16.4m1-16.4v16.9m1-17.1v17.2m1-16.6v15.8m1-15.6v16.2m1-17v17.9m1-17.9v16m1-16v17.5m1-17.5v17.4m1-17.2v15.8m1-15.3v15.3m1-15.9v16.5m1-16.7v17.8m1-17.5v16.3m1-16.6v17m1-16.8v16.9m1-17.1v17m1-17.1v18.3m1-17.2v16.2m1-17.3v16.4m1-16.4v17.3m1-16.7v16.9m1-16.6v15.6m1-16v16.7m1-16.7v16.3m1-16.2v15.7m1-15.8v16.1m1-16.2v17.2m1-17.5v16.9m1-16.7v15.8m1-15.4v16.8m1-16.9v16.3m1-16.2v14.7m1-14.8v15.9m1-16.4v15.6m1-15.4v16.4m1-16.6v18.6m1-18.1v17.7m1-18v17m1-17v16.3m1-16.4v16.2m1-15.6v15.9m1-16.6v17.1m1-16.3v16.9m1-17.8v17.1m1-16.5v17.2m1-17.6v16.8m1-17v15.9m1-15.2v16.6m1-17v17.4m1-17.7v17.4m1-17.2v17.6m1-17.5v16.3m1-16.1v16.4m1-16.4v16.6m1-17v17.2m1-16.9v17m1-17.2v17.5m1-17.1v16.3m1-16.5v16.1m1-15.9v16.2m1-16v16.2m1-16.8v16.6m1-16.4v16.2m1-16.4v17.4m1-16.7v16.8m1-17.3v17.3m1-17v16.9m1-17.6v17.4m1-17.3v16.7m1-16.4v17.9m1-8.9v9.3m1-9.4v8.1m1-8.7v10m1-10.2v8.8m1-9.8v12.1m1-15v14.3m1-15.5v14.7m1-17.1v17.5m1-18.3v18m1-17.6v17.4m1-17.7v17.5m1-17.6v17m1-17.2v16.8m1-16.6v17.3m1-17.5v17.3m1-17.3v17.1m1-16.5v16.2m1-16.4v15.8m1-16.1v16.2m1-16.1v16.5m1-16.7v16.2m1-16.2v16.6m1-16.4v18m1-18.1v17m1-15.9v16.3m1-17.4v16.7m1-16.6v17.7m1-16.9v16.2m1-16.7v17.1m1-17.5v17.7m1-17.2v16.8m1-17.3v18.2m1-18.3v16.6m1-16.2v16.5m1-16.9v17.4m1-17.1v16.8m1-16.6v16.9m1-17.1v18.1m1-18.3v16.8m1-16.3v16.7m1-16.8v16.3m1-16.4v16.2m1-16.2v15.6m1-15.9v17.3m1-16.8v17.3m1-17.5v16.7m1-17v17.7m1-17.5v16m1-16.2v16.9m1-17v17m1-16.8v17.3m1-17.5v17.1m1-16.9v17.2m1-17.2v17.8m1-17.8v16.3m1-16.3v16.8m1-16.7v17m1-17.1v16.5"/><path fill="none" stroke="#ff0000" stroke-width="1.15" stroke-opacity="0.35" d="M315.6 83.8v0.3m1-0.1v1.5m1-0.7v0.8m1-1.8v0.3m1-0.1v1.6m1-0.7v1.9m1-2.4v1.6m1-1.6v1.1m1-2v0.7m1-0.7v0.8m1-0.1v0.2m1 0.8v0.2m1-2.4v1.8m1-1.8v0.9m1 0.4v0.2m1-0.4v1.8m1-2.5v0.8m1 0.3v0.5m1-0.9v1.4m1-1.8v0.5m1-0.3v2m1-2.2v0.4m2-0.5v2.1m1-2.4v0.7m1-0.4v0.4m1 0.2v0.3m1 0.1v1.3m1-2.3v0.8m1-1v1m1-0.2v1.1m1-0.7v0.9m1-1.7v0.3m1 0.8v0.4m1-1.8v0.5m1 0.8v0.2m1-0.6v0.9m1-2.3v0.5m1 0.8v0.3m1-0.7v1.2m1-1.2v0.5m1-0.8v0.7m1-0.3v0.1m1-0.5v0.5m1 0v0.8m1-0.3v0.8m1-0.6v0.8m1-1v0.6m1-0.7v0.9m1-1.2v0.4m1-0.7v0.6m1-1.2v0.4m2 0v2.3m1-1.9v0.7m1-1.6v0.6m1 0.4v0.5m1 0.1v0.9m1-1.8v1m1-0.4v0.3m1-0.9v0.6m1-0.4v1.1m1-1.5v0.1m2 0.4v0.7m1-0.6v0.1m1-0.1v0.1m1 0.6v1m1-1.5v0.9m1-1.1v0.2m1-0.9v1.2m1 0.9v0.5m1-3v0.5m1 0.1v1.4m1-1.5v0.3m1 0.6v0.1m1-0.5v1.3m1-1.2v1m1-2.3v0.2m1 0.5v1.4m1-0.5v0.9m1-1.8v0.4m1-0.8v1.2m1-0.4v0.3m1-0.7v0.1m1 0.2v0.2m1 0v1.4m1-2.2v1.1m1-0.5v1.4m2-1.5v0.5m1-0.5v0.2m1-0.4v0.4m1 0.1v0.6m1-0.5v0.8m1-1.6v1.1m1-0.5v0.1m1 0.8v0.9m1-2.8v0.2m1 1.3v0.1m1-0.2v1.2m1-2.6v0.4m1-0.4v1.3m1-0.7v0.5m1 0.6v1.9m1-3.1v0.7m1-0.3v0.1m1 0v0.6m1-0.7v0.9m1 0.3v0.1m1-1.1v1.3m1-2.2v0.1m1 0.8v1.1m1-0.9v0.4m1-1.4v0.4m1 0.3v0.2m1-0.6v0.6m1-1.1v1.4m1-1.1v0.2m1 0.8v0.1m1-0.7v0.4m1-1.3v0.2m1 1.2v0.3m1-0.9v0.3m1-1.8v1.1m1 0v0.5m1-1.3v0.1m1 0.9v0.3m1 1.7v0.6m1-1v0.3m2-2v1.3m1-1.5v0.4m1-0.1v1m1-0.5v0.5m1 0.1v0.6m1-1.3v0.5m1 0.2v0.6m1-1.4v1.1m1-2.2v0.7m1 0.7v0.7m1-0.3v0.3m1-0.6v1.2m1-0.8v0.4m1-1.6v0.6m1-0.3v0.4m2 0v0.7m1-0.6v0.7m1-0.4v0.5m1-1.3v0.6m1-1v1.5m1-1.2v0.4m1-0.2v0.5m1-0.7v0.1m1-0.3v0.4m1 0.6v1.3m1-1.2v0.7m1-0.7v0.3m1-0.4v1.4m1-1.6v0.2m1-0.8v0.5m1 1v0.3m1 0.1v0.5m1-1.8v0.6m1 0.7v0.2m1-1.6v0.2m1 2.1v0.1m1-0.8v0.9m1-1.7v1.7m1-1.3v0.2m1-0.5v0.7m1-0.9v0.1m1-0.3v0.8m1-1.4v0.1m1-0.5v0.1m1 0.6v0.6m1-0.8v0.2m1-0.4v0.2m1-0.5v0.9m1-1.5v0.5m1-0.4v0.4m1 0v1.8m1-2.3v0.2m1 0.2v0.4m1 1.2v0.3m1-1.4v0.1m1 0.3v0.1m1-0.8v0.5m1 0.6v0.5m1-1.2v1.6m1-1.2v0.6m2-0.8v0.1m1 0.8v0.6m1-2.3v0.8m1-0.5v0.1m1 0.4v0.4m1-0.7v1.4m1-1.1v0.8m1 0.2v0.1m1-1.6v1.8m1-1.4v0.5m1-1v0.5m1-0.7v0.1m1-0.7v1m1 0.4v2.5m1-2v0.3m1-1.1v0.3m1 0.4v1m1-2.5v1.7m1-1v0.3m1-0.3v0.8m1-0.3v0.3m1-0.7v0.7m1-0.4v0.8m1-0.2v0.2m1-1.7v0.4m1 0.1v0.1m1 0.2v0.7m1-1.3v1.8"/><rect x="318.1" y="67" width="2.3" height="17" fill="#c00030" fill-opacity="0.12"/><rect x="322.1" y="67" width="1.5" height="17" fill="#c00030" fill-opacity="0.12"/><rect x="324.6" y="67" width="1.6" height="17" fill="#c00030" fill-opacity="0.12"/><rect x="328.3" y="67" width="1.6" height="17" fill="#c00030" fill-opacity="0.12"/><rect x="332.8" y="67" width="2" height="17" fill="#c00030" fill-opacity="0.12"/><rect x="336.2" y="67" width="1.6" height="17" fill="#c00030" fill-opacity="0.12"/><rect x="339.9" y="67" width="1.5" height="17" fill="#c00030" fill-opacity="0.12"/><rect x="342.2" y="67" width="2.3" height="17" fill="#c00030" fill-opacity="0.12"/><rect x="346.6" y="67" width="2.2" height="17" fill="#c00030" fill-opacity="0.12"/><rect x="350.6" y="67" width="2" height="17" fill="#c00030" fill-opacity="0.12"/><rect x="353.3" y="67" width="1.5" height="17" fill="#c00030" fill-opacity="0.12"/><rect x="356.7" y="67" width="2" height="17" fill="#c00030" fill-opacity="0.12"/><rect x="360.9" y="67" width="2.3" height="17" fill="#c00030" fill-opacity="0.12"/><rect x="364.3" y="67" width="1.8" height="17" fill="#c00030" fill-opacity="0.12"/><rect x="367.3" y="67" width="1.9" height="17" fill="#c00030" fill-opacity="0.12"/><rect x="372.1" y="67" width="2.1" height="17" fill="#c00030" fill-opacity="0.12"/><rect x="375.5" y="67" width="1.8" height="17" fill="#c00030" fill-opacity="0.12"/><rect x="377.8" y="67" width="2.4" height="17" fill="#c00030" fill-opacity="0.12"/><rect x="381.6" y="67" width="1.8" height="17" fill="#c00030" fill-opacity="0.12"/><rect x="386.1" y="67" width="2.5" height="17" fill="#c00030" fill-opacity="0.12"/><rect x="389" y="67" width="1.5" height="17" fill="#c00030" fill-opacity="0.12"/><rect x="393.3" y="67" width="2.4" height="17" fill="#c00030" fill-opacity="0.12"/><rect x="396.8" y="67" width="2" height="17" fill="#c00030" fill-opacity="0.12"/><rect x="399" y="67" width="2.3" height="17" fill="#c00030" fill-opacity="0.12"/><rect x="403.8" y="67" width="2.1" height="17" fill="#c00030" fill-opacity="0.12"/><rect x="407.5" y="67" width="1.7" height="17" fill="#c00030" fill-opacity="0.12"/><rect x="410.7" y="67" width="2" height="17" fill="#c00030" fill-opacity="0.12"/><rect x="414.5" y="67" width="2.1" height="17" fill="#c00030" fill-opacity="0.12"/><rect x="417.8" y="67" width="2.1" height="17" fill="#c00030" fill-opacity="0.12"/><rect x="421" y="67" width="2.3" height="17" fill="#c00030" fill-opacity="0.12"/><rect x="424.2" y="67" width="2.4" height="17" fill="#c00030" fill-opacity="0.12"/><rect x="427.5" y="67" width="1.8" height="17" fill="#c00030" fill-opacity="0.12"/><rect x="431.1" y="67" width="2.5" height="17" fill="#c00030" fill-opacity="0.12"/><rect x="435.8" y="67" width="1.5" height="17" fill="#c00030" fill-opacity="0.12"/><rect x="438.2" y="67" width="1.4" height="17" fill="#c00030" fill-opacity="0.12"/><rect x="442" y="67" width="2.4" height="17" fill="#c00030" fill-opacity="0.12"/><rect x="446.3" y="67" width="1.7" height="17" fill="#c00030" fill-opacity="0.12"/><rect x="449.1" y="67" width="1.8" height="17" fill="#c00030" fill-opacity="0.12"/><rect x="453.6" y="67" width="1.7" height="17" fill="#c00030" fill-opacity="0.12"/><rect x="456.2" y="67" width="2.5" height="17" fill="#c00030" fill-opacity="0.12"/><rect x="460.8" y="67" width="2.5" height="17" fill="#c00030" fill-opacity="0.12"/><rect x="463.7" y="67" width="2.2" height="17" fill="#c00030" fill-opacity="0.12"/><rect x="468.1" y="67" width="1.4" height="17" fill="#c00030" fill-opacity="0.12"/><rect x="471.5" y="67" width="1.9" height="17" fill="#c00030" fill-opacity="0.12"/><rect x="473.6" y="67" width="2" height="17" fill="#c00030" fill-opacity="0.12"/><rect x="477.9" y="67" width="1.6" height="17" fill="#c00030" fill-opacity="0.12"/><rect x="481" y="67" width="2.3" height="17" fill="#c00030" fill-opacity="0.12"/><rect x="485.4" y="67" width="2.3" height="17" fill="#c00030" fill-opacity="0.12"/><rect x="487.9" y="67" width="2.3" height="17" fill="#c00030" fill-opacity="0.12"/><rect x="492.2" y="67" width="2.1" height="17" fill="#c00030" fill-opacity="0.12"/><rect x="496.2" y="67" width="2.4" height="17" fill="#c00030" fill-opacity="0.12"/><rect x="499.4" y="67" width="1.8" height="17" fill="#c00030" fill-opacity="0.12"/><rect x="503.3" y="67" width="2" height="17" fill="#c00030" fill-opacity="0.12"/><rect x="506.5" y="67" width="2.3" height="17" fill="#c00030" fill-opacity="0.12"/><rect x="510.2" y="67" width="1.9" height="17" fill="#c00030" fill-opacity="0.12"/><rect x="513" y="67" width="2.4" height="17" fill="#c00030" fill-opacity="0.12"/><rect x="517" y="67" width="2.1" height="17" fill="#c00030" fill-opacity="0.12"/><rect x="521.3" y="67" width="1.4" height="17" fill="#c00030" fill-opacity="0.12"/><rect x="524.3" y="67" width="1.9" height="17" fill="#c00030" fill-opacity="0.12"/><rect x="528.5" y="67" width="1.7" height="17" fill="#c00030" fill-opacity="0.12"/><rect x="531" y="67" width="1.7" height="17" fill="#c00030" fill-opacity="0.12"/><rect x="534.7" y="67" width="2.3" height="17" fill="#c00030" fill-opacity="0.12"/></g><g clip-path="url(#c11)"><polygon fill="#ff8c00" points="315.6,156.5 316.6,155.9 317.6,156.9 318.6,156.5 319.6,154.9 320.6,156.8 321.6,155.9 322.6,156.3 323.6,156.6 324.6,156.2 325.6,155.5 326.6,155.7 327.6,156.4 328.6,156.7 329.6,157 330.6,156.3 331.6,156.3 332.6,156.1 333.6,156.1 334.6,156.7 335.6,156.5 336.6,156 337.6,156 338.6,156.3 339.6,155.6 340.6,156.8 341.6,156.7 342.6,155.8 343.6,156.5 344.6,156.7 345.6,156.3 346.6,156.3 347.6,156.7 348.6,156.1 349.6,156.1 350.6,156.4 351.6,154.1 352.6,156 353.6,156.7 354.6,156.8 355.6,155.6 356.6,156.1 357.6,156.3 358.6,157 359.6,156 360.6,157 361.6,156.5 362.6,156.9 363.6,156.5 364.6,156.7 365.6,156 366.6,156.5 367.6,156.8 368.6,156.4 369.6,157 370.6,156.6 371.6,156.9 372.6,155.3 373.6,156.4 374.6,156.5 375.6,156.7 376.6,156.4 377.6,156.7 378.6,156.2 379.6,156.5 380.6,155.7 381.6,155.6 382.6,156.1 383.6,155.9 384.6,156.1 385.6,156.4 386.6,156.5 387.6,156.5 388.6,156.8 389.6,155.8 390.6,155.6 391.6,156.4 392.6,156.2 393.6,156.8 394.6,155.6 395.6,154.7 396.6,156.5 397.6,156.5 398.6,154.7 399.6,156.5 400.6,155.5 401.6,156.5 402.6,156.2 403.6,155.6 404.6,154.9 405.6,156.5 406.6,156.3 407.6,156.5 408.6,156.4 409.6,156.5 410.6,157 411.6,154.9 412.6,156.1 413.6,156.4 414.6,156.7 415.6,156.7 416.6,156 417.6,156.3 418.6,156.8 419.6,156.7 420.6,156.3 421.6,156 422.6,156.1 423.6,156.6 424.6,156.7 425.6,156.8 426.6,155.9 427.6,156.3 428.6,156.3 429.6,156.7 430.6,155.7 431.6,156.7 432.6,155.6 433.6,156.2 434.6,153.9 435.6,155.5 436.6,156.1 437.6,156.5 438.6,156 439.6,155.7 440.6,156.5 441.6,156.7 442.6,157 443.6,155.5 444.6,155.8 445.6,155.1 446.6,156.9 447.6,155.8 448.6,156.9 449.6,155.7 450.6,156 451.6,156.7 452.6,156.3 453.6,156.9 454.6,156 455.6,156.5 456.6,157 457.6,156.6 458.6,157 459.6,156.2 460.6,156.8 461.6,155.5 462.6,156.6 463.6,156.8 464.6,155.4 465.6,155.1 466.6,156.9 467.6,156.6 468.6,155.3 469.6,156.4 470.6,156.2 471.6,156.3 472.6,155.2 473.6,156.9 474.6,155.9 475.6,154.5 476.6,155.4 477.6,156.9 478.6,157 479.6,156.8 480.6,156.2 481.6,157 482.6,156.8 483.6,157 484.6,155.6 485.6,156.2 486.6,156.1 487.6,156.4 488.6,156.1 489.6,156.9 490.6,156.1 491.6,155.6 492.6,156.9 493.6,156.4 494.6,156 495.6,155.5 496.6,155.5 497.6,156.7 498.6,156.5 499.6,155.4 500.6,156.4 501.6,156.9 502.6,156.6 503.6,155.3 504.6,155.8 505.6,154.1 506.6,156.7 507.6,155.2 508.6,156.5 509.6,156.9 510.6,156.5 511.6,156.9 512.6,155.9 513.6,157 514.6,156 515.6,156.5 516.6,156 517.6,156 518.6,154.9 519.6,155.9 520.6,156.7 521.6,156.9 522.6,156.8 523.6,155.9 524.6,156.7 525.6,155.8 526.6,156 527.6,154.9 528.6,156.7 529.6,156 530.6,155.6 531.6,156.9 532.6,156.9 533.6,156.9 534.6,156.8 535.6,156.9 535.6,175.7 534.6,175.4 533.6,176 532.6,175.4 531.6,176.7 530.6,175.6 529.6,175.4 528.6,175.7 527.6,176.4 526.6,175.8 525.6,176.3 524.6,176 523.6,176.1 522.6,175.6 521.6,175.9 520.6,175.6 519.6,176.1 518.6,175.5 517.6,175.7 516.6,175.5 515.6,176.1 514.6,175.7 513.6,176.1 512.6,176 511.6,176.4 510.6,176.9 509.6,175.8 508.6,175.5 507.6,176 506.6,176.6 505.6,176.1 504.6,175.8 503.6,175.9 502.6,175.8 501.6,175.7 500.6,175.5 499.6,175.8 498.6,176.2 497.6,175.5 496.6,176.1 495.6,175.6 494.6,175.5 493.6,175.4 492.6,176 491.6,176.2 490.6,175.7 489.6,175.4 488.6,176.1 487.6,176 486.6,177.3 485.6,175.6 484.6,176.5 483.6,175.9 482.6,176.4 481.6,175.6 480.6,176 479.6,175.6 478.6,175.6 477.6,176.1 476.6,175.5 475.6,175.5 474.6,175.5 473.6,176.9 472.6,175.6 471.6,175.7 470.6,176.2 469.6,175.5 468.6,177.2 467.6,175.4 466.6,175.4 465.6,176 464.6,175.5 463.6,175.5 462.6,175.7 461.6,175.6 460.6,176.6 459.6,176.4 458.6,175.6 457.6,177.2 456.6,175.7 455.6,175.5 454.6,176.5 453.6,176.1 452.6,175.9 451.6,175.7 450.6,176.2 449.6,176.1 448.6,177 447.6,175.8 446.6,176.4 445.6,175.6 444.6,176.5 443.6,176.1 442.6,175.5 441.6,175.5 440.6,175.5 439.6,175.8 438.6,176.6 437.6,175.8 436.6,176.8 435.6,176 434.6,176.6 433.6,175.8 432.6,176.1 431.6,176.3 430.6,175.6 429.6,176.3 428.6,176.1 427.6,176.5 426.6,176.2 425.6,175.7 424.6,175.8 423.6,176.2 422.6,175.4 421.6,175.6 420.6,175.7 419.6,175.8 418.6,175.8 417.6,175.8 416.6,175.6 415.6,175.8 414.6,176 413.6,177.3 412.6,176.3 411.6,175.9 410.6,175.9 409.6,176.4 408.6,176.1 407.6,175.5 406.6,176.7 405.6,175.5 404.6,176 403.6,176 402.6,176.2 401.6,177.8 400.6,175.6 399.6,176.1 398.6,176.2 397.6,175.6 396.6,175.5 395.6,176.7 394.6,176.6 393.6,176 392.6,175.4 391.6,176.3 390.6,175.6 389.6,175.5 388.6,175.7 387.6,175.8 386.6,176.2 385.6,177.1 384.6,175.6 383.6,175.5 382.6,175.7 381.6,176 380.6,175.7 379.6,176.1 378.6,175.5 377.6,175.8 376.6,175.6 375.6,176.9 374.6,175.5 373.6,175.6 372.6,176.4 371.6,175.6 370.6,176.4 369.6,176.4 368.6,175.9 367.6,175.9 366.6,175.8 365.6,175.8 364.6,175.4 363.6,175.5 362.6,176 361.6,175.7 360.6,175.4 359.6,176.5 358.6,175.5 357.6,175.5 356.6,175.9 355.6,175.8 354.6,175.7 353.6,175.7 352.6,176.2 351.6,176.2 350.6,176.4 349.6,175.6 348.6,176 347.6,175.5 346.6,175.6 345.6,176.5 344.6,176.6 343.6,175.7 342.6,176.3 341.6,176.7 340.6,176.1 339.6,175.6 338.6,177.1 337.6,177 336.6,175.5 335.6,177.1 334.6,175.7 333.6,176 332.6,175.7 331.6,176.4 330.6,175.5 329.6,175.9 328.6,176 327.6,175.7 326.6,175.6 325.6,175.8 324.6,176.1 323.6,176.1 322.6,175.8 321.6,176.9 320.6,175.6 319.6,175.7 318.6,175.8 317.6,176.6 316.6,175.7 315.6,176.4"/><rect x="332.6" y="155.9" width="1.2" height="1.2" fill="#20e020"/><rect x="348.6" y="155.6" width="1.2" height="1.2" fill="#20e020"/><rect x="443.6" y="155.3" width="1.2" height="1.2" fill="#20e020"/><rect x="452.6" y="155.2" width="1.2" height="1.2" fill="#20e020"/><rect x="483.6" y="155.1" width="1.2" height="1.2" fill="#20e020"/><rect x="327.6" y="175.8" width="1.2" height="1.2" fill="#20e020"/><rect x="328.6" y="175.2" width="1.2" height="1.2" fill="#20e020"/><rect x="365.6" y="175.3" width="1.2" height="1.2" fill="#20e020"/><rect x="463.6" y="176" width="1.2" height="1.2" fill="#20e020"/><rect x="474.6" y="175.3" width="1.2" height="1.2" fill="#20e020"/><rect x="481.6" y="175.7" width="1.2" height="1.2" fill="#20e020"/><polygon fill="#0000ff" points="315.6,156.6 316.6,156.6 317.6,156.2 318.6,156.7 319.6,157 320.6,156.9 321.6,156.6 322.6,157.3 323.6,156.7 324.6,156.9 325.6,156.7 326.6,156.6 327.6,156.8 328.6,156.5 329.6,156.5 330.6,156.2 331.6,156.8 332.6,157 333.6,156.8 334.6,156.7 335.6,156.7 336.6,157 337.6,156.6 338.6,156.8 339.6,156.9 340.6,156.8 341.6,156.9 342.6,157 343.6,156.7 344.6,157.4 345.6,156.6 346.6,156.8 347.6,156.9 348.6,156.8 349.6,156.5 350.6,156.8 351.6,156.5 352.6,156.7 353.6,156.9 354.6,157 355.6,156.8 356.6,156.7 357.6,157.4 358.6,156.8 359.6,157.3 360.6,156.6 361.6,156.9 362.6,157.3 363.6,156.5 364.6,156.4 365.6,157.1 366.6,157.3 367.6,157 368.6,156.9 369.6,156.6 370.6,156.9 371.6,157.1 372.6,156.7 373.6,156.3 374.6,157.1 375.6,156.5 376.6,156.4 377.6,156.7 378.6,157.1 379.6,156.4 380.6,156.8 381.6,157.3 382.6,156.9 383.6,156.7 384.6,156.6 385.6,156.3 386.6,157.2 387.6,156.4 388.6,156.8 389.6,157.1 390.6,156.6 391.6,156.7 392.6,157.1 393.6,156.8 394.6,157.1 395.6,157.1 396.6,157.2 397.6,156.4 398.6,156.9 399.6,156.8 400.6,156.7 401.6,156.3 402.6,156.7 403.6,157.2 404.6,157.1 405.6,156.6 406.6,156.8 407.6,156.8 408.6,157 409.6,156.6 410.6,156.6 411.6,156.4 412.6,157 413.6,157.3 414.6,156.9 415.6,157 416.6,157 417.6,156.5 418.6,157 419.6,157.2 420.6,157.1 421.6,156.7 422.6,156.6 423.6,156.6 424.6,157.1 425.6,156.6 426.6,156.8 427.6,156.9 428.6,156.7 429.6,156.5 430.6,156.9 431.6,156.6 432.6,156.7 433.6,157.1 434.6,157 435.6,156.2 436.6,156.5 437.6,157 438.6,156.5 439.6,157 440.6,157.1 441.6,157.1 442.6,157.3 443.6,156.4 444.6,156.5 445.6,156.7 446.6,156.7 447.6,157.1 448.6,156.9 449.6,156.6 450.6,156.7 451.6,156.4 452.6,156.7 453.6,156.4 454.6,157.4 455.6,157 456.6,156.7 457.6,156.8 458.6,157 459.6,156.8 460.6,157.2 461.6,156.9 462.6,157.5 463.6,157 464.6,156.5 465.6,156.5 466.6,156.7 467.6,157.3 468.6,156.7 469.6,157.1 470.6,156.4 471.6,157 472.6,156.5 473.6,156.7 474.6,156.8 475.6,156.4 476.6,157.5 477.6,156.5 478.6,156.7 479.6,157.3 480.6,157.1 481.6,156.1 482.6,156.9 483.6,157.1 484.6,156.5 485.6,156.8 486.6,156.6 487.6,156.6 488.6,157.3 489.6,157.1 490.6,156.6 491.6,156.4 492.6,157 493.6,156.9 494.6,156.7 495.6,156.9 496.6,156.4 497.6,156.6 498.6,156.6 499.6,157.2 500.6,156.8 501.6,156.5 502.6,156.6 503.6,157.1 504.6,156.9 505.6,156.7 506.6,156.7 507.6,157 508.6,156.7 509.6,156.7 510.6,156.6 511.6,156.1 512.6,157 513.6,156.8 514.6,157.1 515.6,157.7 516.6,156.7 517.6,157 518.6,156.7 519.6,156.6 520.6,156.6 521.6,156.7 522.6,156.8 523.6,157.3 524.6,156.9 525.6,156.6 526.6,157.1 527.6,156.5 528.6,157 529.6,156.9 530.6,156.7 531.6,156.9 532.6,157.1 533.6,157 534.6,156.3 535.6,156.3 535.6,158.6 534.6,158.3 533.6,158.5 532.6,158.6 531.6,158.1 530.6,158.3 529.6,158.1 528.6,158.1 527.6,158.3 526.6,158.2 525.6,157.9 524.6,158.1 523.6,158.4 522.6,158 521.6,159 520.6,158.3 519.6,158.6 518.6,158.4 517.6,158 516.6,158.1 515.6,157.8 514.6,158.8 513.6,158.4 512.6,158.4 511.6,158.1 510.6,158.6 509.6,158.8 508.6,158.3 507.6,158.2 506.6,158.1 505.6,158 504.6,158.8 503.6,158 502.6,158.4 501.6,158.2 500.6,158.6 499.6,158.7 498.6,158.8 497.6,158.8 496.6,158.1 495.6,158.2 494.6,158.5 493.6,158.5 492.6,158 491.6,158.2 490.6,158.7 489.6,158.8 488.6,158.3 487.6,157.9 486.6,158.2 485.6,158 484.6,157.5 483.6,158.6 482.6,158.7 481.6,158.6 480.6,158.1 479.6,158.8 478.6,157.8 477.6,158.4 476.6,158.4 475.6,158.3 474.6,159 473.6,157.9 472.6,158.4 471.6,157.7 470.6,158.3 469.6,158.2 468.6,158.2 467.6,158.5 466.6,158.5 465.6,158.2 464.6,158.4 463.6,158.6 462.6,158.4 461.6,158.8 460.6,158.4 459.6,158.3 458.6,158 457.6,158.1 456.6,158.2 455.6,158.3 454.6,158.5 453.6,159 452.6,158.3 451.6,158.5 450.6,158.2 449.6,158.3 448.6,158.3 447.6,158.4 446.6,158 445.6,158.1 444.6,157.8 443.6,157.8 442.6,158.4 441.6,158.5 440.6,158 439.6,157.9 438.6,159.3 437.6,160.1 436.6,159.2 435.6,158.6 434.6,158.2 433.6,158.1 432.6,158.2 431.6,158.2 430.6,158.1 429.6,158.8 428.6,158.3 427.6,158.5 426.6,158.2 425.6,158.2 424.6,158.3 423.6,158.7 422.6,158.3 421.6,158.4 420.6,158.2 419.6,158.1 418.6,158 417.6,158.2 416.6,158.8 415.6,157.8 414.6,159 413.6,158.2 412.6,158.7 411.6,158.3 410.6,158.4 409.6,158.4 408.6,158.3 407.6,158.3 406.6,158.4 405.6,157.8 404.6,158.6 403.6,158.2 402.6,158.1 401.6,158.2 400.6,158.4 399.6,158.5 398.6,158.2 397.6,158.5 396.6,157.9 395.6,158.5 394.6,158.4 393.6,158.1 392.6,158.2 391.6,158.9 390.6,158.6 389.6,158.7 388.6,158.3 387.6,158.2 386.6,158.2 385.6,158.4 384.6,158 383.6,158 382.6,158.3 381.6,158.1 380.6,158.6 379.6,158.4 378.6,158.9 377.6,157.8 376.6,158.5 375.6,157.9 374.6,158.6 373.6,158.4 372.6,158.7 371.6,158.3 370.6,158.3 369.6,158.6 368.6,158.7 367.6,158.4 366.6,158.8 365.6,158.5 364.6,158.2 363.6,158.4 362.6,158.5 361.6,158.1 360.6,158.3 359.6,158.1 358.6,158.3 357.6,158.7 356.6,158.3 355.6,158.1 354.6,159.6 353.6,161 352.6,160.7 351.6,160 350.6,159.3 349.6,158.1 348.6,158.2 347.6,157.8 346.6,158.1 345.6,158.1 344.6,157.9 343.6,158 342.6,158.3 341.6,158.9 340.6,158.3 339.6,158.9 338.6,160.7 337.6,161 336.6,160.4 335.6,159.2 334.6,158.2 333.6,158.3 332.6,158.2 331.6,158.1 330.6,158.3 329.6,158.5 328.6,158.1 327.6,157.9 326.6,158.4 325.6,158.5 324.6,158.2 323.6,158.1 322.6,158.8 321.6,158.4 320.6,158.7 319.6,158.5 318.6,158.5 317.6,157.9 316.6,158.2 315.6,158.3"/><polygon fill="#ff0000" points="315.6,156.7 316.6,157.2 317.6,158.1 318.6,157.3 319.6,158 320.6,157.8 321.6,157.7 322.6,157.5 323.6,157.1 324.6,157 325.6,156.9 326.6,157.8 327.6,157.6 328.6,157.7 329.6,157.2 330.6,157.6 331.6,158.1 332.6,157.3 333.6,157.4 334.6,157.5 335.6,159.1 336.6,159.7 337.6,160.8 338.6,160.1 339.6,157.9 340.6,157.7 341.6,156.6 342.6,157.7 343.6,157.4 344.6,157.6 345.6,157.7 346.6,156.7 347.6,157.7 348.6,157.4 349.6,157.1 350.6,157.8 351.6,159.3 352.6,159.5 353.6,160.2 354.6,159 355.6,157.9 356.6,157.2 357.6,157.2 358.6,158 359.6,157.6 360.6,157.7 361.6,157.7 362.6,157.9 363.6,157.9 364.6,157.4 365.6,157.7 366.6,157.5 367.6,157.8 368.6,157 369.6,157.5 370.6,158.1 371.6,157 372.6,157.3 373.6,157.7 374.6,157.1 375.6,157.6 376.6,157.7 377.6,157.9 378.6,157.6 379.6,157.7 380.6,157.4 381.6,157.7 382.6,157.7 383.6,157.8 384.6,157.9 385.6,157.9 386.6,157.8 387.6,157.7 388.6,157.6 389.6,157.4 390.6,157.8 391.6,158.1 392.6,157.4 393.6,157.8 394.6,157.5 395.6,157.5 396.6,157.2 397.6,157.5 398.6,157.8 399.6,157.8 400.6,157.9 401.6,157.3 402.6,156.7 403.6,157.9 404.6,157.5 405.6,157.8 406.6,158.3 407.6,158 408.6,156.7 409.6,157.4 410.6,157.4 411.6,158.2 412.6,157.3 413.6,157.4 414.6,158 415.6,156.8 416.6,157.3 417.6,157 418.6,157.1 419.6,157.7 420.6,157.6 421.6,157.5 422.6,157.5 423.6,157.4 424.6,157.5 425.6,157.8 426.6,157.2 427.6,157.6 428.6,157.4 429.6,157.9 430.6,158.1 431.6,157.8 432.6,158 433.6,157.4 434.6,157.4 435.6,158.1 436.6,158.7 437.6,159.7 438.6,158.6 439.6,157.4 440.6,157.2 441.6,157.7 442.6,158.6 443.6,157.6 444.6,157 445.6,157.7 446.6,157.3 447.6,157 448.6,158.7 449.6,158.6 450.6,157.6 451.6,157.6 452.6,157.5 453.6,157.9 454.6,157.9 455.6,158 456.6,157.1 457.6,157.5 458.6,157.9 459.6,157.7 460.6,157 461.6,157.6 462.6,158 463.6,156.7 464.6,158.2 465.6,157.5 466.6,158.2 467.6,158 468.6,157.7 469.6,157.6 470.6,157.5 471.6,157.3 472.6,157.7 473.6,157.7 474.6,157 475.6,157.3 476.6,156.6 477.6,156.9 478.6,157.3 479.6,157.8 480.6,157.6 481.6,157.6 482.6,157.4 483.6,157.1 484.6,157.9 485.6,157.9 486.6,157.1 487.6,157.5 488.6,157.7 489.6,157.1 490.6,157.2 491.6,157.8 492.6,157.6 493.6,158 494.6,157.5 495.6,157.8 496.6,157.8 497.6,158.4 498.6,157.3 499.6,157.6 500.6,157.2 501.6,157.8 502.6,157.9 503.6,158.3 504.6,157.5 505.6,157.9 506.6,157.7 507.6,158.3 508.6,157.6 509.6,157.5 510.6,158 511.6,157.6 512.6,157.3 513.6,156.9 514.6,157.8 515.6,158.1 516.6,157.7 517.6,158 518.6,157.5 519.6,157.9 520.6,158 521.6,157.5 522.6,157.1 523.6,157.5 524.6,157.6 525.6,157.9 526.6,156.8 527.6,158.2 528.6,157.9 529.6,157.5 530.6,157.2 531.6,157.4 532.6,157.8 533.6,157.8 534.6,157.8 535.6,157 535.6,174.7 534.6,175.7 533.6,174.4 532.6,174.8 531.6,175 530.6,174 529.6,175.2 528.6,176 527.6,175 526.6,175.4 525.6,175 524.6,175.2 523.6,175.2 522.6,174.6 521.6,174.4 520.6,176.1 519.6,175.5 518.6,175.8 517.6,175.9 516.6,175.8 515.6,174.4 514.6,175.4 513.6,175 512.6,175.2 511.6,175.4 510.6,175 509.6,174.1 508.6,174.4 507.6,174.6 506.6,175.6 505.6,175.8 504.6,175.4 503.6,175.5 502.6,174.5 501.6,176 500.6,175 499.6,175.2 498.6,175 497.6,175.8 496.6,174.2 495.6,175.3 494.6,174.7 493.6,174.7 492.6,175 491.6,175.7 490.6,175.4 489.6,175.4 488.6,174.7 487.6,175 486.6,175.6 485.6,175.5 484.6,176 483.6,175.6 482.6,174.9 481.6,175.5 480.6,175.3 479.6,175.1 478.6,174.8 477.6,174.1 476.6,175.2 475.6,175.4 474.6,175.4 473.6,175.3 472.6,174.9 471.6,174.9 470.6,175.4 469.6,175.9 468.6,175.3 467.6,174.7 466.6,175.6 465.6,175.1 464.6,174.8 463.6,173.7 462.6,176 461.6,175.6 460.6,174.8 459.6,175.4 458.6,175.2 457.6,174.6 456.6,175.4 455.6,174.9 454.6,175.3 453.6,175 452.6,174.7 451.6,175 450.6,175.9 449.6,175.7 448.6,175.4 447.6,175.4 446.6,175.1 445.6,174.9 444.6,175.3 443.6,175.7 442.6,174.8 441.6,175 440.6,175.1 439.6,175 438.6,176.2 437.6,174.5 436.6,174.9 435.6,174.8 434.6,174.5 433.6,175.8 432.6,175.6 431.6,175.4 430.6,175.2 429.6,174.7 428.6,175.3 427.6,175.7 426.6,174.8 425.6,175.7 424.6,175.1 423.6,175 422.6,175.7 421.6,174.8 420.6,176.3 419.6,174.9 418.6,175.5 417.6,175.8 416.6,175.7 415.6,175.2 414.6,174.6 413.6,176.3 412.6,176 411.6,175.7 410.6,175.8 409.6,175 408.6,175.3 407.6,175.1 406.6,175.7 405.6,174.7 404.6,176.2 403.6,175.5 402.6,175.2 401.6,175.1 400.6,174.7 399.6,174.3 398.6,174.2 397.6,174.9 396.6,175.6 395.6,175.3 394.6,174.8 393.6,174.9 392.6,175 391.6,174.2 390.6,174.6 389.6,175.4 388.6,175 387.6,175.2 386.6,175.9 385.6,175.6 384.6,175.5 383.6,175.7 382.6,174.4 381.6,174.9 380.6,175.3 379.6,175.2 378.6,176 377.6,175.3 376.6,174.8 375.6,175.6 374.6,175.9 373.6,174.9 372.6,174.8 371.6,175.1 370.6,175.7 369.6,176.1 368.6,175.4 367.6,174.3 366.6,174.9 365.6,175.4 364.6,174.8 363.6,175.2 362.6,175.1 361.6,175 360.6,175.2 359.6,175.6 358.6,175.4 357.6,174.4 356.6,175.5 355.6,174.2 354.6,175.5 353.6,175.8 352.6,174.6 351.6,174.7 350.6,175.6 349.6,175 348.6,175.9 347.6,174.5 346.6,175.4 345.6,175 344.6,174.7 343.6,174.6 342.6,175 341.6,175.1 340.6,175.1 339.6,175.6 338.6,174.7 337.6,176.2 336.6,176 335.6,175.2 334.6,174.7 333.6,173.9 332.6,175.5 331.6,176.3 330.6,174.6 329.6,174.8 328.6,175.8 327.6,175.5 326.6,175.6 325.6,174.7 324.6,174.7 323.6,174.7 322.6,175.8 321.6,174.6 320.6,175.8 319.6,175.3 318.6,174.9 317.6,175.1 316.6,175.2 315.6,175"/><rect x="317.5" y="158" width="1.5" height="17" fill="#c00030" fill-opacity="0.12"/><rect x="322.2" y="158" width="2" height="17" fill="#c00030" fill-opacity="0.12"/><rect x="324.8" y="158" width="2.6" height="17" fill="#c00030" fill-opacity="0.12"/><rect x="328.6" y="158" width="1.5" height="17" fill="#c00030" fill-opacity="0.12"/><rect x="332.8" y="158" width="1.7" height="17" fill="#c00030" fill-opacity="0.12"/><rect x="335.2" y="158" width="2.5" height="17" fill="#c00030" fill-opacity="0.12"/><rect x="339" y="158" width="1.9" height="17" fill="#c00030" fill-opacity="0.12"/><rect x="343.4" y="158" width="2.5" height="17" fill="#c00030" fill-opacity="0.12"/><rect x="345.8" y="158" width="1.7" height="17" fill="#c00030" fill-opacity="0.12"/><rect x="349.6" y="158" width="1.8" height="17" fill="#c00030" fill-opacity="0.12"/><rect x="354.2" y="158" width="1.6" height="17" fill="#c00030" fill-opacity="0.12"/><rect x="357.4" y="158" width="2.5" height="17" fill="#c00030" fill-opacity="0.12"/><rect x="360.4" y="158" width="2.4" height="17" fill="#c00030" fill-opacity="0.12"/><rect x="363.7" y="158" width="1.9" height="17" fill="#c00030" fill-opacity="0.12"/><rect x="367.8" y="158" width="2" height="17" fill="#c00030" fill-opacity="0.12"/><rect x="372" y="158" width="1.8" height="17" fill="#c00030" fill-opacity="0.12"/><rect x="374.3" y="158" width="1.5" height="17" fill="#c00030" fill-opacity="0.12"/><rect x="377.7" y="158" width="2.2" height="17" fill="#c00030" fill-opacity="0.12"/><rect x="381.9" y="158" width="1.6" height="17" fill="#c00030" fill-opacity="0.12"/><rect x="385.1" y="158" width="1.8" height="17" fill="#c00030" fill-opacity="0.12"/><rect x="389.1" y="158" width="1.4" height="17" fill="#c00030" fill-opacity="0.12"/><rect x="393.2" y="158" width="2.3" height="17" fill="#c00030" fill-opacity="0.12"/><rect x="395.7" y="158" width="1.4" height="17" fill="#c00030" fill-opacity="0.12"/><rect x="399.8" y="158" width="1.9" height="17" fill="#c00030" fill-opacity="0.12"/><rect x="403.5" y="158" width="2.3" height="17" fill="#c00030" fill-opacity="0.12"/><rect x="407.2" y="158" width="1.7" height="17" fill="#c00030" fill-opacity="0.12"/><rect x="411" y="158" width="1.5" height="17" fill="#c00030" fill-opacity="0.12"/><rect x="413.2" y="158" width="1.5" height="17" fill="#c00030" fill-opacity="0.12"/><rect x="417.6" y="158" width="1.9" height="17" fill="#c00030" fill-opacity="0.12"/><rect x="420.9" y="158" width="1.8" height="17" fill="#c00030" fill-opacity="0.12"/><rect x="423.9" y="158" width="2.1" height="17" fill="#c00030" fill-opacity="0.12"/><rect x="428.3" y="158" width="1.9" height="17" fill="#c00030" fill-opacity="0.12"/><rect x="431.5" y="158" width="2.6" height="17" fill="#c00030" fill-opacity="0.12"/><rect x="434.7" y="158" width="2.5" height="17" fill="#c00030" fill-opacity="0.12"/><rect x="439" y="158" width="1.6" height="17" fill="#c00030" fill-opacity="0.12"/><rect x="442.2" y="158" width="1.7" height="17" fill="#c00030" fill-opacity="0.12"/><rect x="446.7" y="158" width="2.5" height="17" fill="#c00030" fill-opacity="0.12"/><rect x="450.3" y="158" width="2.4" height="17" fill="#c00030" fill-opacity="0.12"/><rect x="453.8" y="158" width="1.7" height="17" fill="#c00030" fill-opacity="0.12"/><rect x="456.6" y="158" width="1.7" height="17" fill="#c00030" fill-opacity="0.12"/><rect x="459.4" y="158" width="2.5" height="17" fill="#c00030" fill-opacity="0.12"/><rect x="463.4" y="158" width="2.2" height="17" fill="#c00030" fill-opacity="0.12"/><rect x="467.9" y="158" width="2.1" height="17" fill="#c00030" fill-opacity="0.12"/><rect x="470.9" y="158" width="1.6" height="17" fill="#c00030" fill-opacity="0.12"/><rect x="474" y="158" width="2.3" height="17" fill="#c00030" fill-opacity="0.12"/><rect x="477.3" y="158" width="2.1" height="17" fill="#c00030" fill-opacity="0.12"/><rect x="481.2" y="158" width="1.9" height="17" fill="#c00030" fill-opacity="0.12"/><rect x="485.3" y="158" width="2.3" height="17" fill="#c00030" fill-opacity="0.12"/><rect x="488.6" y="158" width="2.2" height="17" fill="#c00030" fill-opacity="0.12"/><rect x="492.1" y="158" width="2.6" height="17" fill="#c00030" fill-opacity="0.12"/><rect x="496" y="158" width="2.3" height="17" fill="#c00030" fill-opacity="0.12"/><rect x="498.5" y="158" width="2" height="17" fill="#c00030" fill-opacity="0.12"/><rect x="503.3" y="158" width="2.2" height="17" fill="#c00030" fill-opacity="0.12"/><rect x="505.9" y="158" width="2.2" height="17" fill="#c00030" fill-opacity="0.12"/><rect x="510.2" y="158" width="2" height="17" fill="#c00030" fill-opacity="0.12"/><rect x="514.2" y="158" width="2.3" height="17" fill="#c00030" fill-opacity="0.12"/><rect x="516.9" y="158" width="1.9" height="17" fill="#c00030" fill-opacity="0.12"/><rect x="520.2" y="158" width="1.7" height="17" fill="#c00030" fill-opacity="0.12"/><rect x="524" y="158" width="1.8" height="17" fill="#c00030" fill-opacity="0.12"/><rect x="527" y="158" width="2.1" height="17" fill="#c00030" fill-opacity="0.12"/><rect x="531.7" y="158" width="1.7" height="17" fill="#c00030" fill-opacity="0.12"/><rect x="535.1" y="158" width="2.2" height="17" fill="#c00030" fill-opacity="0.12"/></g><g clip-path="url(#c12)"><path fill="none" stroke="#f0000c" stroke-width="1.15" stroke-opacity="0.35" d="M315.6 243.9v6.1m1-6.1v6.1m1-6v6m1-6.5v6.5m1-7.4v7.4m1-7v7m1-7.2v7.2m1-7.2v7.2m1-6.6v6.6m1-6.2v6.2m1-6.5v6.5m1-7.6v7.6m1-7.6v7.6m1-6.7v6.7m1-7.2v7.2m1-7.2v7.2m1-6.4v6.4m1-6.2v6.2m1-6.2v6.2m1-6.6v6.6m1-7.7v7.7m1-8.1v8.1m1-7.9v7.9m1-6.9v6.9m1-7v7m1-6.9v6.9m1-6.6v6.6m1-7.3v7.3m1-7.5v7.5m1-7.1v7.1m1-7v7m1-7.1v7.1m1-7.9v7.9m1-7.9v7.9m1-6.8v6.8m1-6.3v6.3m1-6.1v6.1m1-6.2v6.2m1-6.8v6.8m1-7.3v7.3m1-6.9v6.9m1-6.4v6.4m1-6.7v6.7m1-7.9v7.9m1-8.1v8.1m1-7.4v7.4m1-7v7m1-6.7v6.7m1-6.9v6.9m1-8v8m1-7.9v7.9m1-6.9v6.9m1-7.3v7.3m1-8.2v8.2m1-8.3v8.3m1-7.8v7.8m1-7.3v7.3m1-6.5v6.5m1-6.5v6.5m1-7.3v7.3m1-7.7v7.7m1-8.1v8.1m1-8.3v8.3m1-8.1v8.1m1-7.1v7.1m1-6.8v6.8m1-6.8v6.8m1-6.7v6.7m1-6.6v6.6m1-6.3v6.3m1-6.8v6.8m1-7.1v7.1m1-7v7m1-6.3v6.3m1-6.1v6.1m1-6.1v6.1m1-6.4v6.4m1-7.4v7.4m1-7.5v7.5m1-6.7v6.7m1-6.5v6.5m1-6.8v6.8m1-6.8v6.8m1-6.5v6.5m1-6.4v6.4m1-6.3v6.3m1-6.4v6.4m1-6.7v6.7m1-6.5v6.5m1-6.4v6.4m1-6.2v6.2m1-6.3v6.3m1-6.7v6.7m1-6.4v6.4m1-6.8v6.8m1-7.3v7.3m1-7.9v7.9m1-7.7v7.7m1-6.4v6.4m1-6.5v6.5m1-7.9v7.9m1-8.4v8.4m1-8v8m1-7.3v7.3m1-7.7v7.7m1-7.5v7.5m1-6.4v6.4m1-6.4v6.4m1-7.4v7.4m1-7.5v7.5m1-7v7m1-7.9v7.9m1-8.1v8.1m1-7.8v7.8m1-7.4v7.4m1-6.3v6.3m1-6.3v6.3m1-7.4v7.4m1-7.4v7.4m1-6.6v6.6m1-6.8v6.8m1-7.1v7.1m1-7.5v7.5m1-7.4v7.4m1-6.6v6.6m1-6.3v6.3m1-6.6v6.6m1-7.8v7.8m1-7.8v7.8m1-6.5v6.5m1-6.3v6.3m1-7.1v7.1m1-7.2v7.2m1-6.7v6.7m1-6.3v6.3m1-6.2v6.2m1-6.2v6.2m1-6.6v6.6m1-6.9v6.9m1-8v8m1-8v8m1-6.5v6.5m1-6.4v6.4m1-7.6v7.6m1-7.8v7.8m1-7.2v7.2m1-6.4v6.4m1-6.3v6.3m1-6.4v6.4m1-6.7v6.7m1-7.1v7.1m1-8.1v8.1m1-8.2v8.2m1-7.3v7.3m1-7.2v7.2m1-7.3v7.3m1-7.3v7.3m1-6.9v6.9m1-6.5v6.5m1-6.2v6.2m1-6.5v6.5m1-7.5v7.5m1-7.8v7.8m1-7.8v7.8m1-7.5v7.5m1-7.4v7.4m1-7.4v7.4m1-7.2v7.2m1-7.1v7.1m1-7.7v7.7m1-8v8m1-8.1v8.1m1-7.9v7.9m1-7.5v7.5m1-6.7v6.7m1-6.6v6.6m1-6.2v6.2m1-6.1v6.1m1-6.1v6.1m1-6v6m1-6.1v6.1m1-6.4v6.4m1-6.7v6.7m1-7v7m1-6.5v6.5m1-6.4v6.4m1-6.3v6.3m1-6.5v6.5m1-7v7m1-7.1v7.1m1-6.8v6.8m1-6.9v6.9m1-7.3v7.3m1-7.8v7.8m1-7.5v7.5m1-6.4v6.4m1-6.5v6.5m1-8v8m1-8.4v8.4m1-8.4v8.4m1-8.2v8.2m1-7.4v7.4m1-6.9v6.9m1-6.8v6.8m1-6.7v6.7m1-6.5v6.5m1-6.2v6.2m1-6.1v6.1m1-6.2v6.2m1-6.3v6.3m1-6.6v6.6m1-6.8v6.8m1-7.1v7.1m1-7v7m1-6.3v6.3m1-6.1v6.1m1-6.5v6.5m1-7.2v7.2m1-6.7v6.7m1-6.4v6.4m1-6.1v6.1"/><path fill="none" stroke="#0000ff" stroke-width="1.15" d="M315.6 262v9.4m1-9.4v9.2m1-9.2v8.8m1-8.8v8.8m1-8.8v8.9m1-8.9v9.3m1-9.3v9.6m1-9.6v9.3m1-9.3v8.3m1-8.3v7.9m1-7.9v8.2m1-8.2v8.8m1-8.8v9.1m1-9.1v8.9m1-8.9v8.5m1-8.5v8.2m1-8.2v7.9m1-7.9v8m1-8v9m1-9v8.8m1-8.8v7.3m1-7.3v6.9m1-6.9v7.1m1-7.1v7.4m1-7.4v8.2m1-8.2v8.6m1-8.6v9.2m1-9.2v9.1m1-9.1v8m1-8v8.2m1-8.2v8.4m1-8.4v8.4m1-8.4v8.4m1-8.4v8.3m1-8.3v7.8m1-7.8v7.6m1-7.6v7.9m1-7.9v8.9m1-8.9v9m1-9v8.4m1-8.4v8m1-8v7.5m1-7.5v7.5m1-7.5v8.3m1-8.3v9.4m1-9.4v9.5m1-9.5v8.7m1-8.7v8.6m1-8.6v8.3m1-8.3v7.5m1-7.5v7.2m1-7.2v7.4m1-7.4v7.8m1-7.8v9m1-9v9.6m1-9.6v9.2m1-9.2v7.9m1-7.9v7.5m1-7.5v7.6m1-7.6v8m1-8v9.2m1-9.2v9.2m1-9.2v8.3m1-8.3v8.4m1-8.4v8.7m1-8.7v9.1m1-9.1v9.4m1-9.4v9.1m1-9.1v7.5m1-7.5v7m1-7v6.9m1-6.9v7.2m1-7.2v8.3m1-8.3v8.7m1-8.7v8.7m1-8.7v8.5m1-8.5v8.1m1-8.1v7.9m1-7.9v7.9m1-7.9v7.8m1-7.8v7.8m1-7.8v7.9m1-7.9v7.9m1-7.9v7.9m1-7.9v7.9m1-7.9v8.2m1-8.2v8.3m1-8.3v8.4m1-8.4v8.2m1-8.2v7.7m1-7.7v7.4m1-7.4v7.6m1-7.6v8.8m1-8.8v9.1m1-9.1v8.9m1-8.9v8.6m1-8.6v8.2m1-8.2v8.9m1-8.9v9.2m1-9.2v9.3m1-9.3v9.4m1-9.4v9.5m1-9.5v9.4m1-9.4v8.7m1-8.7v8.3m1-8.3v7.9m1-7.9v8.6m1-8.6v8.5m1-8.5v7.4m1-7.4v7.8m1-7.8v7.8m1-7.8v7m1-7v6.8m1-6.8v7.4m1-7.4v8.5m1-8.5v8.4m1-8.4v7.3m1-7.3v7.5m1-7.5v8.9m1-8.9v9.1m1-9.1v8.9m1-8.9v8.7m1-8.7v8.6m1-8.6v8.5m1-8.5v8.4m1-8.4v8.3m1-8.3v8.2m1-8.2v8.2m1-8.2v8.3m1-8.3v8.1m1-8.1v7.7m1-7.7v8.4m1-8.4v8.7m1-8.7v8.7m1-8.7v8.6m1-8.6v8.3m1-8.3v8m1-8v7.4m1-7.4v7.6m1-7.6v8.7m1-8.7v8.6m1-8.6v8.1m1-8.1v7.1m1-7.1v7m1-7v7.6m1-7.6v8m1-8v8.4m1-8.4v9.4m1-9.4v9.3m1-9.3v8m1-8v7.6m1-7.6v7.9m1-7.9v7.7m1-7.7v7.6m1-7.6v8.7m1-8.7v9.3m1-9.3v9.3m1-9.3v9.2m1-9.2v9.1m1-9.1v8.8m1-8.8v8.9m1-8.9v9.5m1-9.5v9.1m1-9.1v8m1-8v8.7m1-8.7v9m1-9v8.7m1-8.7v8.3m1-8.3v7.7m1-7.7v8.5m1-8.5v8.5m1-8.5v7.5m1-7.5v7.1m1-7.1v7.1m1-7.1v7.5m1-7.5v8.7m1-8.7v8.9m1-8.9v8.4m1-8.4v7.4m1-7.4v7.1m1-7.1v6.9m1-6.9v7m1-7v7.4m1-7.4v7.6m1-7.6v8.1m1-8.1v9.3m1-9.3v9.2m1-9.2v7.9m1-7.9v7.9m1-7.9v9.3m1-9.3v9.5m1-9.5v8.8m1-8.8v8.5m1-8.5v8.3m1-8.3v8.5m1-8.5v9.3m1-9.3v9.4m1-9.4v8.9m1-8.9v8.4m1-8.4v7.4m1-7.4v7.2m1-7.2v7.9m1-7.9v8.7m1-8.7v8.8m1-8.8v8.8m1-8.8v9.3m1-9.3v9.5m1-9.5v9.3m1-9.3v8.2m1-8.2v8.1m1-8.1v8.9m1-8.9v9.1m1-9.1v8.9m1-8.9v9m1-9v8.9m1-8.9v8m1-8v7.6m1-7.6v7.9m1-7.9v9m1-9v9.5m1-9.5v9.5"/><path fill="none" stroke="#f0000c" stroke-width="1.15" d="M315.6 242.6v25.6m1-25.2v25m1-23.9v23.4m1-23.4v22.7m1-23.4v23.1m1-23.2v23.3m1-23.4v24.3m1-24.1v24.3m1-23.5v22.9m1-22.9v22.8m1-23.3v23.7m1-23.8v23.9m1-23.5v23.7m1-24v24.3m1-25.1v24.8m1-25v23.9m1-23.8v23.8m1-23.7v24.8m1-24.6v24.7m1-24.9v24.2m1-24.2v24.3m1-23.6v23.6m1-23.1v22.7m1-22.9v23.2m1-23.1v23.2m1-24v24.1m1-24.1v24.4m1-23.5v23m1-22.6v22.7m1-22.8v23.6m1-24.3v24.4m1-24.7v24.3m1-24.3v23.1m1-23.2v23.1m1-23.2v23.8m1-24v23.8m1-24.1v24.3m1-24v23.8m1-22.8v23.2m1-22.9v22.9m1-23v22.4m1-22.5v22.5m1-23.1v23.8m1-24.4v24.4m1-24.4v24m1-23.7v23.9m1-23.9v24m1-24.1v23.9m1-24v23.6m1-23.6v23.5m1-23.3v23.5m1-22.8v22.8m1-22.8v22.6m1-22.9v23.2m1-23.2v24.3m1-24.6v24.8m1-24.6v24.3m1-23.6v23.3m1-23.2v22.7m1-23.5v23.6m1-23.6v24.2m1-23.6v23.5m1-23.4v22.6m1-22.8v22.9m1-23.2v23.9m1-23.7v23.8m1-24.3v23.8m1-23.3v23.6m1-24.1v24.1m1-24v23.3m1-22.5v22.1m1-21.8v22.1m1-22.4v23.3m1-24.4v24.7m1-24.7v24.8m1-24v23.8m1-24.1v23.4m1-23.4v23.3m1-22.8v23m1-23.2v22.5m1-23.5v23.5m1-23.7v24.5m1-23.8v23.8m1-23.8v23.2m1-23.5v23.9m1-23.8v24.1m1-23.4v23.3m1-23v22.6m1-22.5v22.2m1-22.5v22.4m1-22.5v22.5m1-22.5v22.4m1-22.2v22.1m1-22.2v22.2m1-22.6v23m1-23.2v24.1m1-24.5v24.3m1-24.2v23.3m1-22.6v22.6m1-22.3v23.1m1-22.8v23.2m1-23.2v23.3m1-23.3v22.3m1-22.3v21.9m1-21.9v21.9m1-21.9v22.1m1-22.3v22.9m1-23v23.2m1-23.2v23.2m1-23.4v23.3m1-23.6v23.4m1-23.6v23.5m1-23.6v23.3m1-23.3v22.9m1-22.9v23.1m1-23.2v24.1m1-24.1v24.1m1-24.2v24.2m1-24.2v24.6m1-24.1v24.1m1-23.5v23m1-22.8v22.6m1-22.7v22.6m1-22.6v22.7m1-22.7v22.8m1-23.2v23.4m1-24.2v24.4m1-24.7v24.8m1-24.6v24.2m1-24v23.7m1-23.2v23.1m1-23.1v22.9m1-23.4v23.6m1-23.7v24.7m1-24.2v24.1m1-23.9v22.8m1-22.9v22.8m1-23.2v23.8m1-23.7v23.9m1-23.6v23.7m1-24.2v24.2m1-24v23.8m1-23.5v23.4m1-23v22.5m1-22.2v21.9m1-22.1v22.1m1-22.8v23.4m1-22.8v23.4m1-23.2v23.4m1-23.8v23.8m1-23.9v24m1-24.1v24.2m1-24.7v24.4m1-24.3v23.3m1-23.2v23.1m1-22.7v23.6m1-23.5v23.7m1-23.7v23.6m1-23.6v23.6m1-23.2v23.3m1-23.4v22.9m1-23.6v23.5m1-23.5v23.8m1-23.1v23.8m1-23.9v24m1-24.9v24.4m1-24.7v24m1-23.8v23.6m1-23v23.7m1-23.3v23.3m1-23.2v22.3m1-22.8v22.7m1-23.1v23.6m1-23.6v23.8m1-23.8v24m1-24.5v24.4m1-24.4v24.4m1-24v24.2m1-24v24.6m1-24.6v24.8m1-24.8v24.5m1-24.4v24.1m1-23.9v23.4m1-23.5v23.2m1-23.6v23.9m1-23.2v22.9m1-22.7v22.6m1-22.8v23m1-23v23.2m1-22.8v22.7m1-22.9v22.4m1-23.1v23m1-23.1v23.1m1-22.9v22.8m1-22.8v22.7m1-22.9v23.1m1-22.9v23.5m1-22.8v23.1m1-23.4v23.6m1-24.2v24.4m1-24v24m1-23.8v23.6m1-23.7v23.2m1-23v23.1m1-23.3v23.6m1-24.2v23.3m1-23.2v22.9m1-22.1v22.3m1-22.3v22.8m1-23.8v24.1m1-24.1v24.4m1-23.4v23.3m1-23.2v23.4m1-24.3v24.1m1-24.4v23.6m1-23.1v23.1m1-22.4v22.9m1-22.8v22.2m1-22.8v22.9m1-22.9v23.8m1-23.4v22.9"/><path fill="none" stroke="#f0000c" stroke-width="1.15" stroke-opacity="0.4" d="M315.6 268.2v1m1-1.2v1.3m1-1.8v1.2m1-1.9v1m1-1.3v0.9m1-0.8v1m1-0.1v1.3m1-1.1v1.3m1-1.9v1.2m1-1.3v1.2m1-0.8v1m1-0.9v1.1m1-0.9v1.1m1-0.8v0.8m1-1.1v0.9m1-2v1m1-1v1.2m1-0.1v1.1m1-1v0.7m1-1.4v0.8m1-0.7v1.4m1-1.4v1.5m1-1.9v1.1m1-0.8v1m1-0.9v0.8m1-0.7v1.4m1-1.1v1.1m1-1.6v1.1m1-1v1.5m1-0.7v1.6m1-1.5v1.5m1-1.9v1m1-2.2v1.2m1-1.3v1.6m1-1v1.3m1-1.5v1m1-0.8v0.7m1-0.9v0.8m1-0.4v1.4m1-1.4v1.6m1-2.2v1.6m1-1.6v1.4m1-0.7v0.8m1-0.8v0.8m1-1.2v1.2m1-1v1.5m1-1.4v1.8m1-2v1.7m1-2.1v0.7m1-0.8v0.4m1-0.2v0.4m1-0.4v0.4m1-0.6v0.8m1-0.5v1.3m1-0.2v1.4m1-1.2v1.4m1-1.7v1.2m1-1.5v1.2m1-1.7v1.2m1-1.1v1.1m1-0.5v1.4m1-1.5v1.4m1-2.2v0.7m1-0.6v0.5m1 0.2v1m1-0.9v0.6m1-1.1v0.7m1-0.4v1.2m1-1.2v1m1-1.7v0.9m1-1.3v1m1-0.7v1.1m1-0.2v1.2m1-0.9v1.3m1-1.2v1.3m1-1.5v1.5m1-2.2v1.7m1-1.8v1.7m1-1.5v1.7m1-2.4v1.5m1-1.5v1m1-0.2v1m1-1v1.6m1-2.2v1.9m1-1.5v1.9m1-1.6v1.8m1-1.9v1.4m1-1.8v1.3m1-1.6v1.3m1-1.4v1m1-1v1.1m1-1.2v1.1m1-1.2v0.8m1-0.8v0.5m1-0.1v0.3m1 0.6v0.3m1-0.5v0.3m1-1.2v0.4m1-0.4v0.6m1 0.2v1m1-0.6v1.1m1-1v1.2m1-2.2v1.4m1-1.8v0.7m1-0.7v0.5m1-0.3v0.9m1-0.3v1.1m1-0.9v1.1m1-1.1v1.1m1-1.2v1m1-1.2v0.6m1-0.7v0.4m1-0.7v0.4m1-0.8v0.6m1-0.4v1.1m1-0.2v0.9m1-0.9v0.8m1-0.8v1.3m1-0.9v0.9m1-0.9v0.9m1-1.4v1.4m1-1.6v1.5m1-1.6v1.2m1-1.1v1.1m1-1v1.2m1-1v1.2m1-1v0.9m1-0.8v0.9m1-1.3v1.2m1-1.5v1.4m1-1.5v1.8m1-2v1.8m1-1.6v1.5m1-0.5v1.5m1-1.6v1.8m1-2.9v1.7m1-1.8v0.9m1-0.3v0.7m1-0.5v0.6m1-0.5v0.6m1-0.6v1m1-1.2v1.2m1-1.3v1.1m1-1.6v0.8m1-1.1v0.7m1-0.7v1.1m1-0.5v1.8m1-1.2v1.7m1-1.5v1.1m1-1.1v1.6m1-1.5v1.8m1-1.7v1.6m1-1.9v0.9m1-1.9v1.1m1-1.2v1.1m1-0.2v0.7m1-0.5v0.7m1-0.8v0.9m1-0.9v1m1-0.9v1.2m1-1.7v1.4m1-1.5v1.6m1-1.3v1.5m1-0.8v1m1-0.9v1.1m1-1.6v1.1m1-1.8v0.8m1-1v0.8m1-0.1v1.3m1-1.3v1.2m1-2.1v1.1m1-1.2v1m1-0.5v1.2m1-1v1.4m1-1.2v0.8m1-0.9v0.6m1-0.6v0.8m1-0.6v1.3m1-0.7v1.5m1-1.3v1.4m1-1.7v1.5m1-1.8v1.8m1-2.3v1.6m1-1.9v1.1m1-0.8v1.1m1-1.4v1.4m1-1.5v1.3m1-1.1v0.7m1-0.5v0.5m1-0.6v0.7m1-1.2v1m1-1.1v1.2m1-1.2v1.7m1-1.8v1.6m1-1.7v0.8m1-0.6v0.5m1 0.1v0.8m1-0.5v1.4m1-1.2v1.4m1-1.2v1.7m1-1.7v1.7m1-1.9v1.7m1-2.2v1.4m1-1.3v1.2m1-0.9v1m1-1.9v0.9m1-1.2v0.7m1-0.5v0.8m1-0.3v1m1-0.7v1.3m1-1v1.3m1-1.4v0.8m1-0.6v0.8m1-1v1m1-1.8v1.1m1-1.1v1m1-0.5v0.8m1-1.4v1.1m1-1v1.2m1-0.3v1.1m1-1.6v1.1"/><rect x="318.5" y="244" width="2.6" height="22" fill="#b00050" fill-opacity="0.18"/><rect x="321.8" y="244" width="2.4" height="22" fill="#b00050" fill-opacity="0.18"/><rect x="324.5" y="244" width="1.8" height="22" fill="#b00050" fill-opacity="0.18"/><rect x="328.3" y="244" width="1.9" height="22" fill="#b00050" fill-opacity="0.18"/><rect x="332.6" y="244" width="1.9" height="22" fill="#b00050" fill-opacity="0.18"/><rect x="336.3" y="244" width="1.7" height="22" fill="#b00050" fill-opacity="0.18"/><rect x="339.7" y="244" width="1.7" height="22" fill="#b00050" fill-opacity="0.18"/><rect x="342.9" y="244" width="1.8" height="22" fill="#b00050" fill-opacity="0.18"/><rect x="346.6" y="244" width="1.5" height="22" fill="#b00050" fill-opacity="0.18"/><rect x="349.4" y="244" width="1.9" height="22" fill="#b00050" fill-opacity="0.18"/><rect x="353.4" y="244" width="2.2" height="22" fill="#b00050" fill-opacity="0.18"/><rect x="356.6" y="244" width="1.8" height="22" fill="#b00050" fill-opacity="0.18"/><rect x="360.1" y="244" width="2" height="22" fill="#b00050" fill-opacity="0.18"/><rect x="364.3" y="244" width="1.6" height="22" fill="#b00050" fill-opacity="0.18"/><rect x="368.4" y="244" width="1.9" height="22" fill="#b00050" fill-opacity="0.18"/><rect x="371.5" y="244" width="2" height="22" fill="#b00050" fill-opacity="0.18"/><rect x="375.2" y="244" width="2.3" height="22" fill="#b00050" fill-opacity="0.18"/><rect x="378.3" y="244" width="2.2" height="22" fill="#b00050" fill-opacity="0.18"/><rect x="381.5" y="244" width="2.6" height="22" fill="#b00050" fill-opacity="0.18"/><rect x="386.2" y="244" width="2" height="22" fill="#b00050" fill-opacity="0.18"/><rect x="388.7" y="244" width="2.1" height="22" fill="#b00050" fill-opacity="0.18"/><rect x="393.3" y="244" width="1.7" height="22" fill="#b00050" fill-opacity="0.18"/><rect x="396.4" y="244" width="1.7" height="22" fill="#b00050" fill-opacity="0.18"/><rect x="399" y="244" width="1.9" height="22" fill="#b00050" fill-opacity="0.18"/><rect x="403.4" y="244" width="1.8" height="22" fill="#b00050" fill-opacity="0.18"/><rect x="407.2" y="244" width="2.3" height="22" fill="#b00050" fill-opacity="0.18"/><rect x="411" y="244" width="1.8" height="22" fill="#b00050" fill-opacity="0.18"/><rect x="413.9" y="244" width="2.6" height="22" fill="#b00050" fill-opacity="0.18"/><rect x="417.8" y="244" width="1.5" height="22" fill="#b00050" fill-opacity="0.18"/><rect x="421.3" y="244" width="1.8" height="22" fill="#b00050" fill-opacity="0.18"/><rect x="425.2" y="244" width="1.9" height="22" fill="#b00050" fill-opacity="0.18"/><rect x="428.3" y="244" width="1.9" height="22" fill="#b00050" fill-opacity="0.18"/><rect x="431.4" y="244" width="2.3" height="22" fill="#b00050" fill-opacity="0.18"/><rect x="434.9" y="244" width="1.8" height="22" fill="#b00050" fill-opacity="0.18"/><rect x="439.3" y="244" width="1.8" height="22" fill="#b00050" fill-opacity="0.18"/><rect x="443.2" y="244" width="2.2" height="22" fill="#b00050" fill-opacity="0.18"/><rect x="446.5" y="244" width="2" height="22" fill="#b00050" fill-opacity="0.18"/><rect x="450.3" y="244" width="1.6" height="22" fill="#b00050" fill-opacity="0.18"/><rect x="452.9" y="244" width="1.6" height="22" fill="#b00050" fill-opacity="0.18"/><rect x="457.4" y="244" width="1.6" height="22" fill="#b00050" fill-opacity="0.18"/><rect x="459.9" y="244" width="1.7" height="22" fill="#b00050" fill-opacity="0.18"/><rect x="463" y="244" width="1.9" height="22" fill="#b00050" fill-opacity="0.18"/><rect x="467.7" y="244" width="2.1" height="22" fill="#b00050" fill-opacity="0.18"/><rect x="471.5" y="244" width="2.4" height="22" fill="#b00050" fill-opacity="0.18"/><rect x="474.6" y="244" width="1.9" height="22" fill="#b00050" fill-opacity="0.18"/><rect x="478.1" y="244" width="1.7" height="22" fill="#b00050" fill-opacity="0.18"/><rect x="482.2" y="244" width="2.4" height="22" fill="#b00050" fill-opacity="0.18"/><rect x="485.5" y="244" width="2.5" height="22" fill="#b00050" fill-opacity="0.18"/><rect x="488.9" y="244" width="2.2" height="22" fill="#b00050" fill-opacity="0.18"/><rect x="492" y="244" width="1.7" height="22" fill="#b00050" fill-opacity="0.18"/><rect x="496.4" y="244" width="2.5" height="22" fill="#b00050" fill-opacity="0.18"/><rect x="499.1" y="244" width="2.4" height="22" fill="#b00050" fill-opacity="0.18"/><rect x="503.3" y="244" width="2.5" height="22" fill="#b00050" fill-opacity="0.18"/><rect x="507" y="244" width="1.4" height="22" fill="#b00050" fill-opacity="0.18"/><rect x="510.5" y="244" width="1.9" height="22" fill="#b00050" fill-opacity="0.18"/><rect x="513.4" y="244" width="1.5" height="22" fill="#b00050" fill-opacity="0.18"/><rect x="516.8" y="244" width="1.4" height="22" fill="#b00050" fill-opacity="0.18"/><rect x="520.1" y="244" width="1.7" height="22" fill="#b00050" fill-opacity="0.18"/><rect x="525" y="244" width="2" height="22" fill="#b00050" fill-opacity="0.18"/><rect x="527.9" y="244" width="1.5" height="22" fill="#b00050" fill-opacity="0.18"/><rect x="530.5" y="244" width="2.2" height="22" fill="#b00050" fill-opacity="0.18"/><rect x="534.2" y="244" width="2.1" height="22" fill="#b00050" fill-opacity="0.18"/></g><g clip-path="url(#c13)"><polygon fill="#ff8c00" points="315.6,345.6 316.6,345.7 317.6,345.6 318.6,345.9 319.6,346.2 320.6,345.9 321.6,345.8 322.6,345.5 323.6,345.7 324.6,345.9 325.6,345.8 326.6,345.8 327.6,345.4 328.6,345.6 329.6,345.9 330.6,345.6 331.6,346 332.6,345.8 333.6,345.6 334.6,346.2 335.6,345.3 336.6,345.7 337.6,345.5 338.6,345.7 339.6,345.9 340.6,346.1 341.6,345.9 342.6,345.8 343.6,345.8 344.6,345.5 345.6,345.8 346.6,346 347.6,345.9 348.6,345.9 349.6,345.7 350.6,345.9 351.6,345.8 352.6,345.6 353.6,345.5 354.6,345.3 355.6,345.6 356.6,345.7 357.6,345.8 358.6,345.6 359.6,345.6 360.6,345.9 361.6,345.9 362.6,345.9 363.6,345.9 364.6,345.7 365.6,345.9 366.6,345.9 367.6,346 368.6,345.7 369.6,345.6 370.6,346 371.6,346 372.6,345.8 373.6,345.4 374.6,345.6 375.6,346 376.6,345.7 377.6,345.7 378.6,346 379.6,345.8 380.6,345.8 381.6,345.7 382.6,345.9 383.6,345.8 384.6,345.9 385.6,345.4 386.6,346 387.6,346.2 388.6,345.9 389.6,345.7 390.6,346 391.6,346.1 392.6,345.7 393.6,345.8 394.6,345.8 395.6,345.6 396.6,345.8 397.6,346 398.6,346.2 399.6,345.4 400.6,345.9 401.6,345.5 402.6,345.7 403.6,345.9 404.6,345.6 405.6,345.9 406.6,345.7 407.6,345.9 408.6,345.5 409.6,346.2 410.6,345.6 411.6,345.7 412.6,345.6 413.6,346.1 414.6,345.9 415.6,345.8 416.6,346.1 417.6,345.6 418.6,345.6 419.6,345.9 420.6,345.6 421.6,345.7 422.6,345.8 423.6,345.7 424.6,345.9 425.6,345.6 426.6,346 427.6,345.8 428.6,345.7 429.6,345.7 430.6,345.9 431.6,345.8 432.6,345.9 433.6,346.1 434.6,345.8 435.6,345.5 436.6,345.9 437.6,345.8 438.6,345.8 439.6,345.8 440.6,345.5 441.6,345.7 442.6,345.8 443.6,345.8 444.6,346.1 445.6,346.1 446.6,345.4 447.6,346.2 448.6,345.6 449.6,345.7 450.6,346.4 451.6,346.1 452.6,346 453.6,345.6 454.6,345.8 455.6,345.9 456.6,345.6 457.6,345.9 458.6,345.5 459.6,346.1 460.6,345.8 461.6,345.6 462.6,346.1 463.6,346 464.6,346.1 465.6,345.5 466.6,345.7 467.6,345.8 468.6,345.5 469.6,345.8 470.6,345.8 471.6,345.8 472.6,345.8 473.6,345.5 474.6,345.9 475.6,346.1 476.6,345.5 477.6,345.6 478.6,345.8 479.6,345.6 480.6,345.6 481.6,345.7 482.6,345.5 483.6,345.5 484.6,346 485.6,345.6 486.6,346 487.6,345.6 488.6,345.9 489.6,345.7 490.6,345.5 491.6,345.9 492.6,345.8 493.6,345.7 494.6,346.2 495.6,346.1 496.6,345.6 497.6,345.8 498.6,345.7 499.6,345.6 500.6,345.9 501.6,346 502.6,346 503.6,345.6 504.6,345.9 505.6,346 506.6,345.4 507.6,345.7 508.6,345.6 509.6,345.9 510.6,345.5 511.6,345.8 512.6,345.8 513.6,345.6 514.6,345.8 515.6,345.5 516.6,345.6 517.6,345.6 518.6,345.9 519.6,346.1 520.6,345.7 521.6,345.7 522.6,345.5 523.6,345.5 524.6,345.8 525.6,346 526.6,345.7 527.6,345.6 528.6,345.7 529.6,345.9 530.6,346 531.6,345.8 532.6,345.7 533.6,345.8 534.6,345.7 535.6,345.8 535.6,352.7 534.6,352.5 533.6,353.1 532.6,352.5 531.6,353.1 530.6,352.9 529.6,352.7 528.6,352.8 527.6,352.8 526.6,352.8 525.6,352.9 524.6,352.9 523.6,352.6 522.6,353.1 521.6,353 520.6,352.8 519.6,352.7 518.6,352.9 517.6,352.8 516.6,352.9 515.6,352.7 514.6,352.9 513.6,352.6 512.6,352.8 511.6,353 510.6,353 509.6,353.1 508.6,352.8 507.6,353 506.6,352.6 505.6,352.7 504.6,353 503.6,353 502.6,352.8 501.6,352.5 500.6,352.8 499.6,352.9 498.6,352.9 497.6,352.7 496.6,352.5 495.6,352.6 494.6,352.7 493.6,352.6 492.6,352.9 491.6,352.9 490.6,352.5 489.6,352.8 488.6,353.1 487.6,352.6 486.6,352.5 485.6,352.7 484.6,353.1 483.6,352.8 482.6,352.7 481.6,352.7 480.6,353 479.6,352.9 478.6,352.9 477.6,353.1 476.6,352.5 475.6,352.4 474.6,352.5 473.6,352.6 472.6,352.7 471.6,353.2 470.6,352.8 469.6,352.7 468.6,352.9 467.6,353 466.6,352.8 465.6,352.9 464.6,352.9 463.6,352.9 462.6,352.5 461.6,352.3 460.6,352.5 459.6,352.8 458.6,352.7 457.6,352.2 456.6,352.9 455.6,352.5 454.6,353 453.6,352.9 452.6,352.9 451.6,353.2 450.6,352.8 449.6,352.8 448.6,352.6 447.6,352.9 446.6,353 445.6,353 444.6,352.7 443.6,352.9 442.6,352.8 441.6,352.9 440.6,352.8 439.6,352.9 438.6,352.5 437.6,353 436.6,352.8 435.6,352.7 434.6,352.8 433.6,352.8 432.6,352.7 431.6,352.5 430.6,353 429.6,352.9 428.6,353 427.6,353.1 426.6,353.1 425.6,352.9 424.6,352.4 423.6,352.7 422.6,352.7 421.6,352.8 420.6,352.4 419.6,352.8 418.6,352.8 417.6,352.6 416.6,353 415.6,353.1 414.6,352.6 413.6,353 412.6,352.8 411.6,352.9 410.6,352.8 409.6,352.5 408.6,353 407.6,352.8 406.6,352.9 405.6,352.9 404.6,353 403.6,352.9 402.6,352.8 401.6,352.4 400.6,352.7 399.6,353.2 398.6,352.6 397.6,352.6 396.6,353.1 395.6,353 394.6,352.9 393.6,352.8 392.6,352.9 391.6,352.8 390.6,352.7 389.6,352.8 388.6,353 387.6,352.8 386.6,352.8 385.6,352.8 384.6,352.7 383.6,352.3 382.6,353 381.6,352.6 380.6,352.7 379.6,352.5 378.6,352.9 377.6,352.5 376.6,352.6 375.6,352.7 374.6,352.9 373.6,352.8 372.6,352.8 371.6,353 370.6,352.5 369.6,353 368.6,352.8 367.6,352.6 366.6,352.8 365.6,353.1 364.6,352.6 363.6,352.7 362.6,352.6 361.6,353 360.6,352.9 359.6,353.1 358.6,353 357.6,352.6 356.6,353.2 355.6,352.7 354.6,352.6 353.6,352.8 352.6,352.7 351.6,353.1 350.6,353.1 349.6,352.8 348.6,352.9 347.6,352.8 346.6,352.9 345.6,352.4 344.6,352.9 343.6,352.7 342.6,352.9 341.6,352.6 340.6,353 339.6,352.6 338.6,352.9 337.6,352.5 336.6,353.3 335.6,353.2 334.6,352.6 333.6,352.7 332.6,352.9 331.6,352.6 330.6,352.8 329.6,352.4 328.6,352.8 327.6,352.9 326.6,353 325.6,353.1 324.6,352.4 323.6,353 322.6,352.9 321.6,352.7 320.6,352.5 319.6,353.4 318.6,353.2 317.6,352.5 316.6,352.9 315.6,353"/><polygon fill="#0000ff" points="315.6,345.9 316.6,346.2 317.6,346 318.6,346.2 319.6,345.7 320.6,346.1 321.6,346.3 322.6,346.1 323.6,345.9 324.6,346.1 325.6,346.5 326.6,346.3 327.6,346.4 328.6,345.9 329.6,346.1 330.6,346 331.6,346.1 332.6,345.9 333.6,345.9 334.6,346.4 335.6,345.8 336.6,346.2 337.6,346.1 338.6,346 339.6,346.3 340.6,346.1 341.6,346.4 342.6,346.6 343.6,346.2 344.6,346 345.6,346 346.6,345.7 347.6,346.1 348.6,346 349.6,346.6 350.6,346 351.6,346 352.6,345.9 353.6,346.1 354.6,346 355.6,345.7 356.6,346.3 357.6,346.2 358.6,346.5 359.6,346.3 360.6,346.1 361.6,346.3 362.6,346.1 363.6,346.4 364.6,346.1 365.6,346.2 366.6,345.7 367.6,346 368.6,346.2 369.6,346.1 370.6,346.1 371.6,346.4 372.6,346.4 373.6,345.8 374.6,346.1 375.6,346.2 376.6,346.6 377.6,346.2 378.6,346 379.6,346.1 380.6,346.4 381.6,345.6 382.6,346.3 383.6,346.4 384.6,346.1 385.6,346.4 386.6,345.9 387.6,345.9 388.6,345.7 389.6,346.1 390.6,346.2 391.6,346.1 392.6,345.8 393.6,346.1 394.6,346.2 395.6,346.2 396.6,346.4 397.6,345.9 398.6,346.2 399.6,346.1 400.6,346.1 401.6,346 402.6,346.1 403.6,345.8 404.6,346 405.6,346.3 406.6,346 407.6,346 408.6,346.2 409.6,346.2 410.6,346.4 411.6,345.9 412.6,346 413.6,345.8 414.6,346.2 415.6,346.1 416.6,346.1 417.6,345.9 418.6,346.2 419.6,345.8 420.6,345.8 421.6,346 422.6,345.9 423.6,346.2 424.6,346.1 425.6,345.9 426.6,346.3 427.6,346.2 428.6,346 429.6,345.9 430.6,345.9 431.6,346.2 432.6,346.1 433.6,346.2 434.6,346.2 435.6,346.2 436.6,345.9 437.6,346.2 438.6,346.1 439.6,345.6 440.6,346 441.6,346.3 442.6,346.2 443.6,346 444.6,346 445.6,346.2 446.6,346 447.6,345.8 448.6,345.8 449.6,346.6 450.6,346 451.6,346.1 452.6,346.1 453.6,346.2 454.6,346.2 455.6,346.1 456.6,346 457.6,346 458.6,346.1 459.6,346.4 460.6,346.5 461.6,346.3 462.6,346.5 463.6,346 464.6,345.9 465.6,345.6 466.6,346.3 467.6,346.2 468.6,345.8 469.6,346.2 470.6,346 471.6,346.1 472.6,346.3 473.6,346.2 474.6,346.1 475.6,346 476.6,346.3 477.6,345.9 478.6,346.2 479.6,346.3 480.6,346.4 481.6,345.8 482.6,346.2 483.6,346 484.6,346 485.6,346.3 486.6,346.1 487.6,345.5 488.6,346.2 489.6,345.9 490.6,346.2 491.6,346 492.6,345.9 493.6,346.1 494.6,346.2 495.6,345.9 496.6,346.4 497.6,346 498.6,346.2 499.6,346.5 500.6,346 501.6,346.2 502.6,346.2 503.6,346.3 504.6,346.3 505.6,346.1 506.6,346.1 507.6,346.1 508.6,346 509.6,345.7 510.6,346.2 511.6,346.1 512.6,346.7 513.6,346 514.6,345.8 515.6,346 516.6,346 517.6,346.2 518.6,346 519.6,346.2 520.6,346 521.6,346 522.6,346.1 523.6,346.1 524.6,345.8 525.6,346.2 526.6,346 527.6,346.5 528.6,346.1 529.6,346.2 530.6,345.9 531.6,346.2 532.6,346 533.6,346.1 534.6,346.3 535.6,345.8 535.6,352.2 534.6,352.1 533.6,351.8 532.6,352.7 531.6,352.7 530.6,352.6 529.6,352.3 528.6,352.9 527.6,352.1 526.6,352.2 525.6,352.5 524.6,352.6 523.6,352.5 522.6,352.3 521.6,352.5 520.6,352.9 519.6,352.5 518.6,352.8 517.6,352.4 516.6,352.4 515.6,352.7 514.6,352.5 513.6,352.6 512.6,352.4 511.6,352.6 510.6,352.4 509.6,352.9 508.6,352.5 507.6,352.4 506.6,352.6 505.6,352.4 504.6,352.5 503.6,352.5 502.6,352.6 501.6,352.2 500.6,352.4 499.6,352.6 498.6,352.5 497.6,352.7 496.6,352.3 495.6,352.6 494.6,352.5 493.6,352.3 492.6,352.7 491.6,352.4 490.6,352.6 489.6,352.5 488.6,352.9 487.6,352.7 486.6,352.3 485.6,352.6 484.6,352.3 483.6,352.4 482.6,352.2 481.6,352.8 480.6,352.4 479.6,352.6 478.6,352.3 477.6,352.3 476.6,352.6 475.6,352.5 474.6,352.3 473.6,352.5 472.6,352.7 471.6,352.8 470.6,352.4 469.6,352.3 468.6,352.7 467.6,352.3 466.6,352.3 465.6,352.4 464.6,352.9 463.6,352.2 462.6,352.5 461.6,352.6 460.6,352.6 459.6,352.5 458.6,352.5 457.6,352.6 456.6,353 455.6,352.3 454.6,352.8 453.6,352.5 452.6,352.8 451.6,352.6 450.6,352.5 449.6,352.4 448.6,352.9 447.6,352.4 446.6,352.9 445.6,352.2 444.6,352.4 443.6,352.7 442.6,352.1 441.6,352.2 440.6,352 439.6,352.2 438.6,352 437.6,352.5 436.6,353 435.6,352.3 434.6,352.5 433.6,352.3 432.6,352.6 431.6,352.6 430.6,352.9 429.6,352.3 428.6,352.4 427.6,352.3 426.6,352.7 425.6,352.5 424.6,352.3 423.6,352.3 422.6,352.8 421.6,352.4 420.6,352.8 419.6,352.2 418.6,352.2 417.6,352.3 416.6,352.6 415.6,352.5 414.6,352.9 413.6,352.8 412.6,352.5 411.6,352.6 410.6,352.8 409.6,352.1 408.6,352.7 407.6,352.1 406.6,352.1 405.6,352.7 404.6,352.4 403.6,352.6 402.6,352.7 401.6,352.5 400.6,352.5 399.6,352.4 398.6,352.6 397.6,352.8 396.6,352.6 395.6,352.2 394.6,352.6 393.6,352.7 392.6,352.5 391.6,352.5 390.6,352.5 389.6,352.7 388.6,352.5 387.6,352.7 386.6,352.9 385.6,352.9 384.6,352.7 383.6,352.4 382.6,352.3 381.6,352.5 380.6,352.4 379.6,352.7 378.6,352.4 377.6,352.6 376.6,352.8 375.6,352.3 374.6,352.6 373.6,352.3 372.6,352.6 371.6,352.5 370.6,352.8 369.6,352.9 368.6,352.6 367.6,352.3 366.6,352.8 365.6,352.3 364.6,352.6 363.6,352.5 362.6,352.4 361.6,352.5 360.6,352.4 359.6,352.5 358.6,352.3 357.6,352.6 356.6,352.5 355.6,352.3 354.6,352.7 353.6,353 352.6,352.6 351.6,352.1 350.6,352.4 349.6,352.6 348.6,352.3 347.6,353 346.6,352.5 345.6,352.4 344.6,352.2 343.6,352.6 342.6,352.2 341.6,352.6 340.6,352.6 339.6,353 338.6,352.5 337.6,352.3 336.6,352.4 335.6,352.6 334.6,352.2 333.6,352.5 332.6,352.3 331.6,352.5 330.6,352.8 329.6,352.8 328.6,352.4 327.6,352.4 326.6,352.7 325.6,352.5 324.6,352.7 323.6,352.6 322.6,352.3 321.6,352.4 320.6,352.4 319.6,352.8 318.6,352.6 317.6,352.5 316.6,352.4 315.6,352"/><polygon fill="#ff3030" fill-opacity="0.35" points="315.6,330.9 316.6,330.3 317.6,330.5 318.6,331.2 319.6,331.2 320.6,330.7 321.6,330.4 322.6,330.1 323.6,329.9 324.6,330.4 325.6,331.2 326.6,331.4 327.6,330.4 328.6,330.7 329.6,331 330.6,330.4 331.6,329.9 332.6,329.1 333.6,330.5 334.6,330.5 335.6,330.5 336.6,330.5 337.6,330.1 338.6,330.8 339.6,330.2 340.6,330.1 341.6,330.8 342.6,330.8 343.6,331.2 344.6,331.3 345.6,330.1 346.6,330.4 347.6,330.4 348.6,331.4 349.6,330.6 350.6,329.4 351.6,330.7 352.6,329.7 353.6,329.9 354.6,330.5 355.6,331.2 356.6,331.4 357.6,331.2 358.6,330.4 359.6,329.3 360.6,328.6 361.6,329.7 362.6,329.1 363.6,329.7 364.6,329.2 365.6,330.1 366.6,329.6 367.6,330.5 368.6,330.6 369.6,329.9 370.6,329.6 371.6,330.9 372.6,330.6 373.6,329.8 374.6,329.7 375.6,330.1 376.6,329.9 377.6,329.5 378.6,329.9 379.6,329.2 380.6,329.6 381.6,329.4 382.6,330.7 383.6,329.6 384.6,329.3 385.6,329.1 386.6,329.9 387.6,329.4 388.6,329.1 389.6,328.8 390.6,329.2 391.6,329.9 392.6,330 393.6,329.3 394.6,328.7 395.6,329.3 396.6,328.5 397.6,329 398.6,330.1 399.6,331 400.6,331.5 401.6,331.4 402.6,330.9 403.6,330.9 404.6,331.3 405.6,331 406.6,330.9 407.6,330.2 408.6,329.6 409.6,329.6 410.6,329.5 411.6,330.4 412.6,329.6 413.6,329.1 414.6,329.1 415.6,329 416.6,329.4 417.6,329.8 418.6,330 419.6,329.8 420.6,328.6 421.6,330 422.6,329.7 423.6,330.7 424.6,328.8 425.6,330.1 426.6,328.6 427.6,329.5 428.6,329 429.6,329.4 430.6,328.7 431.6,330.3 432.6,329.3 433.6,329.2 434.6,328.9 435.6,329.5 436.6,329.4 437.6,329.9 438.6,329.5 439.6,328.8 440.6,329 441.6,329.8 442.6,329.8 443.6,329.4 444.6,329.7 445.6,329.9 446.6,331.4 447.6,330.9 448.6,331.2 449.6,329.6 450.6,330.3 451.6,330.3 452.6,330.1 453.6,328.8 454.6,328.4 455.6,327.1 456.6,328.5 457.6,329.4 458.6,329.5 459.6,329.4 460.6,330 461.6,330 462.6,329.8 463.6,329.5 464.6,329.9 465.6,330.9 466.6,330 467.6,330.7 468.6,330.9 469.6,331.2 470.6,330.3 471.6,330.5 472.6,330.3 473.6,330.1 474.6,330.5 475.6,330.1 476.6,329.9 477.6,330.4 478.6,330 479.6,331.1 480.6,330.9 481.6,329.4 482.6,329.1 483.6,329.1 484.6,329.1 485.6,329.9 486.6,330 487.6,328.9 488.6,329.3 489.6,330 490.6,329.3 491.6,330 492.6,329 493.6,329.8 494.6,329.2 495.6,329.6 496.6,328.8 497.6,327.4 498.6,327.8 499.6,329.3 500.6,329.1 501.6,329.3 502.6,329.3 503.6,329.1 504.6,329.5 505.6,328.7 506.6,328.2 507.6,328.6 508.6,329.3 509.6,329.6 510.6,329.4 511.6,329.9 512.6,330.2 513.6,329.1 514.6,328.9 515.6,328.9 516.6,330.3 517.6,331 518.6,330 519.6,330.4 520.6,329.5 521.6,330.2 522.6,330.4 523.6,330.1 524.6,329.1 525.6,329.4 526.6,330.1 527.6,329.8 528.6,329.5 529.6,329.7 530.6,329 531.6,329.1 532.6,329.2 533.6,329.4 534.6,329 535.6,329.5 535.6,338.9 534.6,337.9 533.6,338.8 532.6,339.1 531.6,339 530.6,339 529.6,340 528.6,338.8 527.6,339.4 526.6,339.6 525.6,339.3 524.6,339.2 523.6,339.9 522.6,340.5 521.6,340.1 520.6,340.8 519.6,339.5 518.6,340.4 517.6,339.3 516.6,339.2 515.6,339.4 514.6,339.1 513.6,339.6 512.6,340.1 511.6,339.6 510.6,339.4 509.6,339.8 508.6,338.9 507.6,338.6 506.6,337.6 505.6,338.4 504.6,339.4 503.6,339.1 502.6,338.4 501.6,339.1 500.6,339.7 499.6,339 498.6,338.7 497.6,338 496.6,338.8 495.6,339.3 494.6,338.6 493.6,339.3 492.6,339.1 491.6,339.8 490.6,339.4 489.6,339.5 488.6,338.7 487.6,338.7 486.6,338.2 485.6,339.6 484.6,338.5 483.6,338.9 482.6,338.1 481.6,339.6 480.6,339.9 479.6,340.5 478.6,339.7 477.6,340.1 476.6,340 475.6,341.2 474.6,339.9 473.6,339.8 472.6,339.7 471.6,340.4 470.6,341.1 469.6,340 468.6,339.6 467.6,339.9 466.6,340.1 465.6,340.4 464.6,339 463.6,339.4 462.6,340.2 461.6,340.2 460.6,340.1 459.6,339.7 458.6,339.3 457.6,338.7 456.6,337.4 455.6,337.8 454.6,338.5 453.6,340.1 452.6,339.5 451.6,338.9 450.6,339.6 449.6,340 448.6,340.5 447.6,340.8 446.6,341 445.6,339.6 444.6,339.2 443.6,339.6 442.6,339.6 441.6,339.5 440.6,339.6 439.6,339.2 438.6,338.9 437.6,340.1 436.6,339.6 435.6,338 434.6,338.9 433.6,339.9 432.6,339.8 431.6,339.9 430.6,338.9 429.6,339 428.6,339.2 427.6,339.1 426.6,338.9 425.6,339.7 424.6,339.8 423.6,340.2 422.6,338.9 421.6,339 420.6,338.7 419.6,339.2 418.6,338.8 417.6,339.6 416.6,339.6 415.6,338.9 414.6,339.1 413.6,338.5 412.6,339.7 411.6,338.8 410.6,339.3 409.6,339.1 408.6,339.5 407.6,339.6 406.6,340.9 405.6,340.8 404.6,341.1 403.6,340.4 402.6,341.4 401.6,340.9 400.6,341.4 399.6,340.2 398.6,340 397.6,339.4 396.6,339.1 395.6,339.3 394.6,339 393.6,339.7 392.6,339.3 391.6,339.4 390.6,339.7 389.6,338.8 388.6,339.3 387.6,339.7 386.6,339.7 385.6,338.7 384.6,339.1 383.6,339.1 382.6,339.8 381.6,339.2 380.6,339.5 379.6,339.9 378.6,339.5 377.6,340.2 376.6,339.9 375.6,339.9 374.6,339.4 373.6,340.7 372.6,339.9 371.6,340.2 370.6,339.5 369.6,339.5 368.6,340.1 367.6,339.9 366.6,339.7 365.6,339.5 364.6,339.7 363.6,339.6 362.6,339 361.6,339.1 360.6,337.7 359.6,339.3 358.6,339.8 357.6,341.3 356.6,341.9 355.6,341.1 354.6,339.9 353.6,340.1 352.6,340.1 351.6,340.1 350.6,339.8 349.6,340.4 348.6,340.2 347.6,341.2 346.6,340.8 345.6,341 344.6,340.2 343.6,340.8 342.6,340.9 341.6,340 340.6,340.1 339.6,340.1 338.6,340 337.6,339.7 336.6,339.8 335.6,340.7 334.6,340.6 333.6,340.8 332.6,339.9 331.6,339.7 330.6,339.9 329.6,341 328.6,339.8 327.6,340.9 326.6,340.5 325.6,340.1 324.6,340.3 323.6,340.3 322.6,339.6 321.6,340.1 320.6,340.1 319.6,340.7 318.6,340.3 317.6,340.6 316.6,339.8 315.6,339.9"/><polygon fill="#ff0000" points="315.6,331.4 316.6,331.4 317.6,331.4 318.6,331.5 319.6,331.6 320.6,332 321.6,331.5 322.6,331.2 323.6,331 324.6,331.2 325.6,331.6 326.6,331.3 327.6,331.3 328.6,331.3 329.6,331.6 330.6,331.3 331.6,330.9 332.6,330.8 333.6,331.7 334.6,331.9 335.6,330.7 336.6,331.1 337.6,331.2 338.6,331.7 339.6,330.7 340.6,331.5 341.6,331.9 342.6,331.7 343.6,332 344.6,332.1 345.6,331.8 346.6,331.2 347.6,331.9 348.6,332 349.6,332.2 350.6,331.6 351.6,331.4 352.6,331.1 353.6,330.2 354.6,331.2 355.6,331.5 356.6,332.4 357.6,332.6 358.6,330.6 359.6,330.2 360.6,330 361.6,330.7 362.6,330.6 363.6,330.8 364.6,330.4 365.6,330.9 366.6,331.2 367.6,331.7 368.6,330.8 369.6,330.2 370.6,330.9 371.6,331.2 372.6,331.7 373.6,331 374.6,330.9 375.6,330.5 376.6,330.8 377.6,331.3 378.6,330.6 379.6,330.7 380.6,330.6 381.6,330.9 382.6,331.6 383.6,330.1 384.6,330.1 385.6,330.4 386.6,330.7 387.6,330.6 388.6,329.9 389.6,330.5 390.6,330.2 391.6,331.1 392.6,330.5 393.6,330.7 394.6,330.5 395.6,329.7 396.6,329.8 397.6,330.6 398.6,331 399.6,331.7 400.6,332.2 401.6,332.7 402.6,332.5 403.6,331.9 404.6,332.2 405.6,331.6 406.6,331.3 407.6,330.6 408.6,331.5 409.6,330.4 410.6,330.8 411.6,330.3 412.6,330.3 413.6,329.7 414.6,330.6 415.6,329.6 416.6,329.9 417.6,330.5 418.6,330.8 419.6,330.7 420.6,329.9 421.6,330.6 422.6,330.7 423.6,330.8 424.6,331.1 425.6,330.6 426.6,330.6 427.6,330.4 428.6,329.9 429.6,330.3 430.6,330 431.6,330.9 432.6,330.5 433.6,330.5 434.6,329.6 435.6,330.4 436.6,330.3 437.6,331 438.6,330.5 439.6,330.4 440.6,330.1 441.6,330.4 442.6,330.8 443.6,330.6 444.6,329.9 445.6,330.7 446.6,331.1 447.6,331.8 448.6,331.6 449.6,330.7 450.6,330.5 451.6,330.5 452.6,330.4 453.6,330.5 454.6,330.2 455.6,328.7 456.6,329.2 457.6,330.1 458.6,330.8 459.6,330.6 460.6,331.8 461.6,330.9 462.6,330.8 463.6,330.8 464.6,330.3 465.6,331 466.6,331.2 467.6,331.3 468.6,331.1 469.6,331.7 470.6,331.2 471.6,331.1 472.6,330.2 473.6,330.7 474.6,331.3 475.6,331 476.6,330.6 477.6,331.3 478.6,330.6 479.6,330.9 480.6,331 481.6,330.6 482.6,330.4 483.6,329.6 484.6,330.1 485.6,330.2 486.6,330.4 487.6,330.3 488.6,330 489.6,330.9 490.6,330.3 491.6,330.4 492.6,330.3 493.6,330.1 494.6,330.1 495.6,330 496.6,330.5 497.6,328.3 498.6,329.3 499.6,331 500.6,330.3 501.6,330.7 502.6,329.9 503.6,329.9 504.6,330.3 505.6,330.2 506.6,328.3 507.6,329.3 508.6,330 509.6,330 510.6,331 511.6,330.6 512.6,331.3 513.6,329.9 514.6,330.1 515.6,329.9 516.6,330.7 517.6,331 518.6,331.5 519.6,331.1 520.6,330.8 521.6,331.3 522.6,331.2 523.6,331.2 524.6,330.2 525.6,330.9 526.6,330.4 527.6,330.3 528.6,330.9 529.6,330.2 530.6,330 531.6,330.1 532.6,330.3 533.6,331 534.6,330 535.6,330.4 535.6,338 534.6,338.5 533.6,338.2 532.6,338 531.6,337.8 530.6,338.5 529.6,338.7 528.6,338.2 527.6,338.4 526.6,338.9 525.6,337.7 524.6,338.3 523.6,338 522.6,339.8 521.6,339.4 520.6,339.5 519.6,338.9 518.6,339.1 517.6,339.1 516.6,339.2 515.6,338.5 514.6,338.4 513.6,338.9 512.6,338.3 511.6,339.2 510.6,338.3 509.6,338 508.6,338.1 507.6,337.6 506.6,336.5 505.6,337.4 504.6,338.4 503.6,337.9 502.6,337.8 501.6,339.4 500.6,338.9 499.6,338.4 498.6,336.8 497.6,336.6 496.6,338.1 495.6,339 494.6,338.4 493.6,338.9 492.6,338.3 491.6,339 490.6,338.5 489.6,338.1 488.6,338.2 487.6,338.6 486.6,337.5 485.6,338.8 484.6,338.1 483.6,338.2 482.6,338.7 481.6,338.9 480.6,338.8 479.6,338.9 478.6,339 477.6,338.9 476.6,338.8 475.6,338.9 474.6,338.9 473.6,338.6 472.6,339.3 471.6,339.6 470.6,339.7 469.6,339.3 468.6,338.8 467.6,339.9 466.6,339.2 465.6,338.7 464.6,339 463.6,338.4 462.6,338.7 461.6,339.8 460.6,339.1 459.6,338.4 458.6,338.5 457.6,338 456.6,337.5 455.6,336.5 454.6,337.7 453.6,338.4 452.6,338.9 451.6,338.5 450.6,338.7 449.6,338.7 448.6,339.6 447.6,340 446.6,339.3 445.6,338.9 444.6,338.4 443.6,338.5 442.6,339 441.6,338.5 440.6,337.2 439.6,337.8 438.6,338.6 437.6,338.6 436.6,338.8 435.6,338.4 434.6,338.3 433.6,338.2 432.6,338.6 431.6,338.7 430.6,338.4 429.6,337.8 428.6,338.5 427.6,338.5 426.6,338.6 425.6,338.5 424.6,338.5 423.6,338.7 422.6,338.4 421.6,339 420.6,338.2 419.6,339.1 418.6,338.7 417.6,337.9 416.6,338.2 415.6,337.4 414.6,338.3 413.6,337.5 412.6,338.4 411.6,337.8 410.6,338.2 409.6,338.8 408.6,338.4 407.6,339.3 406.6,339.6 405.6,340 404.6,339.7 403.6,340.1 402.6,340.5 401.6,340.6 400.6,340 399.6,339.3 398.6,339.1 397.6,337.9 396.6,337.8 395.6,338 394.6,338.2 393.6,338.5 392.6,338.7 391.6,338.6 390.6,337.9 389.6,338.2 388.6,338.4 387.6,338.5 386.6,338.7 385.6,338.2 384.6,338.3 383.6,338.6 382.6,339.3 381.6,339.6 380.6,338.5 379.6,338.5 378.6,339 377.6,339.3 376.6,339.2 375.6,338.8 374.6,338.9 373.6,339.3 372.6,339.6 371.6,338.7 370.6,338.1 369.6,339.1 368.6,338.8 367.6,339.3 366.6,339.6 365.6,338.8 364.6,338.2 363.6,338.8 362.6,338.2 361.6,338.7 360.6,338 359.6,338.3 358.6,338.1 357.6,340.6 356.6,340.7 355.6,339.9 354.6,339.2 353.6,339.5 352.6,338.9 351.6,339.2 350.6,338.8 349.6,340.3 348.6,340.5 347.6,339.7 346.6,340 345.6,340.5 344.6,340 343.6,340.1 342.6,339.4 341.6,340.2 340.6,339.8 339.6,338.9 338.6,339.5 337.6,339.1 336.6,339.6 335.6,339.9 334.6,339.9 333.6,339.7 332.6,338.9 331.6,338.6 330.6,339.3 329.6,339.5 328.6,339 327.6,339.2 326.6,340 325.6,339.8 324.6,339.2 323.6,339.7 322.6,339.3 321.6,338.9 320.6,339.6 319.6,339.2 318.6,339.6 317.6,338.9 316.6,339.2 315.6,339.7"/></g><rect x="70.8" y="34.5" width="222.2" height="79.4" fill="none" stroke="#000" stroke-width="1.25"/><text x="74.3" y="46.1" font-family="Liberation Sans, Arial, sans-serif" font-weight="bold" stroke="#000" stroke-width="0.35" font-size="15.3">BRUX</text><rect x="70.8" y="126.4" width="222.2" height="79.4" fill="none" stroke="#000" stroke-width="1.25"/><text x="74.3" y="138.0" font-family="Liberation Sans, Arial, sans-serif" font-weight="bold" stroke="#000" stroke-width="0.35" font-size="15.3">HARB</text><rect x="70.8" y="218.3" width="222.2" height="79.4" fill="none" stroke="#000" stroke-width="1.25"/><text x="74.3" y="229.9" font-family="Liberation Sans, Arial, sans-serif" font-weight="bold" stroke="#000" stroke-width="0.35" font-size="15.3">NNOR</text><rect x="70.8" y="310.2" width="222.2" height="79.4" fill="none" stroke="#000" stroke-width="1.25"/><text x="74.3" y="321.8" font-family="Liberation Sans, Arial, sans-serif" font-weight="bold" stroke="#000" stroke-width="0.35" font-size="15.3">XIA1</text><rect x="315.0" y="34.5" width="222.2" height="79.4" fill="none" stroke="#000" stroke-width="1.25"/><text x="318.5" y="46.1" font-family="Liberation Sans, Arial, sans-serif" font-weight="bold" stroke="#000" stroke-width="0.35" font-size="15.3">BRUX</text><rect x="315.0" y="126.4" width="222.2" height="79.4" fill="none" stroke="#000" stroke-width="1.25"/><text x="318.5" y="138.0" font-family="Liberation Sans, Arial, sans-serif" font-weight="bold" stroke="#000" stroke-width="0.35" font-size="15.3">HARB</text><rect x="315.0" y="218.3" width="222.2" height="79.4" fill="none" stroke="#000" stroke-width="1.25"/><text x="318.5" y="229.9" font-family="Liberation Sans, Arial, sans-serif" font-weight="bold" stroke="#000" stroke-width="0.35" font-size="15.3">NNOR</text><rect x="315.0" y="310.2" width="222.2" height="79.4" fill="none" stroke="#000" stroke-width="1.25"/><text x="318.5" y="321.8" font-family="Liberation Sans, Arial, sans-serif" font-weight="bold" stroke="#000" stroke-width="0.35" font-size="15.3">XIA1</text><line x1="65.5" y1="113.9" x2="70.8" y2="113.9" stroke="#000" stroke-width="1.25"/><text x="60.5" y="120.3" text-anchor="end" font-family="DejaVu Sans, sans-serif" font-size="15.3" stroke="#000" stroke-width="0.2">−10</text><line x1="65.5" y1="74.2" x2="70.8" y2="74.2" stroke="#000" stroke-width="1.25"/><text x="60.5" y="80.6" text-anchor="end" font-family="DejaVu Sans, sans-serif" font-size="15.3" stroke="#000" stroke-width="0.2">0</text><line x1="65.5" y1="34.5" x2="70.8" y2="34.5" stroke="#000" stroke-width="1.25"/><text x="60.5" y="40.9" text-anchor="end" font-family="DejaVu Sans, sans-serif" font-size="15.3" stroke="#000" stroke-width="0.2">10</text><text transform="translate(19.0,75.9) rotate(-90)" text-anchor="middle" font-family="Liberation Sans, Arial, sans-serif" font-weight="bold" stroke="#000" stroke-width="0.35" font-size="15.3">Res[m]</text><line x1="65.5" y1="205.8" x2="70.8" y2="205.8" stroke="#000" stroke-width="1.25"/><text x="60.5" y="212.2" text-anchor="end" font-family="DejaVu Sans, sans-serif" font-size="15.3" stroke="#000" stroke-width="0.2">−10</text><line x1="65.5" y1="166.1" x2="70.8" y2="166.1" stroke="#000" stroke-width="1.25"/><text x="60.5" y="172.5" text-anchor="end" font-family="DejaVu Sans, sans-serif" font-size="15.3" stroke="#000" stroke-width="0.2">0</text><line x1="65.5" y1="126.4" x2="70.8" y2="126.4" stroke="#000" stroke-width="1.25"/><text x="60.5" y="132.8" text-anchor="end" font-family="DejaVu Sans, sans-serif" font-size="15.3" stroke="#000" stroke-width="0.2">10</text><text transform="translate(19.0,167.8) rotate(-90)" text-anchor="middle" font-family="Liberation Sans, Arial, sans-serif" font-weight="bold" stroke="#000" stroke-width="0.35" font-size="15.3">Res[m]</text><line x1="65.5" y1="297.7" x2="70.8" y2="297.7" stroke="#000" stroke-width="1.25"/><text x="60.5" y="304.1" text-anchor="end" font-family="DejaVu Sans, sans-serif" font-size="15.3" stroke="#000" stroke-width="0.2">−10</text><line x1="65.5" y1="258.0" x2="70.8" y2="258.0" stroke="#000" stroke-width="1.25"/><text x="60.5" y="264.4" text-anchor="end" font-family="DejaVu Sans, sans-serif" font-size="15.3" stroke="#000" stroke-width="0.2">0</text><line x1="65.5" y1="218.3" x2="70.8" y2="218.3" stroke="#000" stroke-width="1.25"/><text x="60.5" y="224.7" text-anchor="end" font-family="DejaVu Sans, sans-serif" font-size="15.3" stroke="#000" stroke-width="0.2">10</text><text transform="translate(19.0,259.7) rotate(-90)" text-anchor="middle" font-family="Liberation Sans, Arial, sans-serif" font-weight="bold" stroke="#000" stroke-width="0.35" font-size="15.3">Res[m]</text><line x1="65.5" y1="389.6" x2="70.8" y2="389.6" stroke="#000" stroke-width="1.25"/><text x="60.5" y="396.0" text-anchor="end" font-family="DejaVu Sans, sans-serif" font-size="15.3" stroke="#000" stroke-width="0.2">−30</text><line x1="65.5" y1="349.9" x2="70.8" y2="349.9" stroke="#000" stroke-width="1.25"/><text x="60.5" y="356.3" text-anchor="end" font-family="DejaVu Sans, sans-serif" font-size="15.3" stroke="#000" stroke-width="0.2">0</text><line x1="65.5" y1="310.2" x2="70.8" y2="310.2" stroke="#000" stroke-width="1.25"/><text x="60.5" y="316.6" text-anchor="end" font-family="DejaVu Sans, sans-serif" font-size="15.3" stroke="#000" stroke-width="0.2">30</text><text transform="translate(19.0,351.6) rotate(-90)" text-anchor="middle" font-family="Liberation Sans, Arial, sans-serif" font-weight="bold" stroke="#000" stroke-width="0.35" font-size="15.3">Res[m]</text><line x1="74.2" y1="389.6" x2="74.2" y2="394.90000000000003" stroke="#000" stroke-width="1.25"/><text x="74.2" y="412.2" text-anchor="middle" font-family="DejaVu Sans, sans-serif" font-size="15.3" stroke="#000" stroke-width="0.2">101</text><line x1="109.8" y1="389.6" x2="109.8" y2="394.90000000000003" stroke="#000" stroke-width="1.25"/><text x="109.8" y="412.2" text-anchor="middle" font-family="DejaVu Sans, sans-serif" font-size="15.3" stroke="#000" stroke-width="0.2">106</text><line x1="145.4" y1="389.6" x2="145.4" y2="394.90000000000003" stroke="#000" stroke-width="1.25"/><text x="145.4" y="412.2" text-anchor="middle" font-family="DejaVu Sans, sans-serif" font-size="15.3" stroke="#000" stroke-width="0.2">111</text><line x1="181.0" y1="389.6" x2="181.0" y2="394.90000000000003" stroke="#000" stroke-width="1.25"/><text x="181.0" y="412.2" text-anchor="middle" font-family="DejaVu Sans, sans-serif" font-size="15.3" stroke="#000" stroke-width="0.2">116</text><line x1="216.6" y1="389.6" x2="216.6" y2="394.90000000000003" stroke="#000" stroke-width="1.25"/><text x="216.6" y="412.2" text-anchor="middle" font-family="DejaVu Sans, sans-serif" font-size="15.3" stroke="#000" stroke-width="0.2">121</text><line x1="252.2" y1="389.6" x2="252.2" y2="394.90000000000003" stroke="#000" stroke-width="1.25"/><text x="252.2" y="412.2" text-anchor="middle" font-family="DejaVu Sans, sans-serif" font-size="15.3" stroke="#000" stroke-width="0.2">126</text><line x1="287.8" y1="389.6" x2="287.8" y2="394.90000000000003" stroke="#000" stroke-width="1.25"/><text x="287.8" y="412.2" text-anchor="middle" font-family="DejaVu Sans, sans-serif" font-size="15.3" stroke="#000" stroke-width="0.2">131</text><text x="181.9" y="433.7" text-anchor="middle" font-family="Liberation Sans, Arial, sans-serif" font-weight="bold" stroke="#000" stroke-width="0.35" font-size="15.3">DOY</text><line x1="318.7" y1="389.6" x2="318.7" y2="394.90000000000003" stroke="#000" stroke-width="1.25"/><text x="318.7" y="412.2" text-anchor="middle" font-family="DejaVu Sans, sans-serif" font-size="15.3" stroke="#000" stroke-width="0.2">101</text><line x1="354.2" y1="389.6" x2="354.2" y2="394.90000000000003" stroke="#000" stroke-width="1.25"/><text x="354.2" y="412.2" text-anchor="middle" font-family="DejaVu Sans, sans-serif" font-size="15.3" stroke="#000" stroke-width="0.2">106</text><line x1="389.7" y1="389.6" x2="389.7" y2="394.90000000000003" stroke="#000" stroke-width="1.25"/><text x="389.7" y="412.2" text-anchor="middle" font-family="DejaVu Sans, sans-serif" font-size="15.3" stroke="#000" stroke-width="0.2">111</text><line x1="425.2" y1="389.6" x2="425.2" y2="394.90000000000003" stroke="#000" stroke-width="1.25"/><text x="425.2" y="412.2" text-anchor="middle" font-family="DejaVu Sans, sans-serif" font-size="15.3" stroke="#000" stroke-width="0.2">116</text><line x1="460.7" y1="389.6" x2="460.7" y2="394.90000000000003" stroke="#000" stroke-width="1.25"/><text x="460.7" y="412.2" text-anchor="middle" font-family="DejaVu Sans, sans-serif" font-size="15.3" stroke="#000" stroke-width="0.2">121</text><line x1="496.2" y1="389.6" x2="496.2" y2="394.90000000000003" stroke="#000" stroke-width="1.25"/><text x="496.2" y="412.2" text-anchor="middle" font-family="DejaVu Sans, sans-serif" font-size="15.3" stroke="#000" stroke-width="0.2">126</text><line x1="531.7" y1="389.6" x2="531.7" y2="394.90000000000003" stroke="#000" stroke-width="1.25"/><text x="531.7" y="412.2" text-anchor="middle" font-family="DejaVu Sans, sans-serif" font-size="15.3" stroke="#000" stroke-width="0.2">131</text><text x="426.1" y="433.7" text-anchor="middle" font-family="Liberation Sans, Arial, sans-serif" font-weight="bold" stroke="#000" stroke-width="0.35" font-size="15.3">DOY</text><text x="182.2" y="19.4" text-anchor="middle" font-family="Liberation Sans, Arial, sans-serif" font-weight="bold" stroke="#000" stroke-width="0.35" font-size="15.3">BDS-2(B1IB3I)</text><text x="426.2" y="19.4" text-anchor="middle" font-family="Liberation Sans, Arial, sans-serif" font-weight="bold" stroke="#000" stroke-width="0.35" font-size="15.3">BDS-3(B1CB2a)</text><rect x="72.7" y="444.8" width="445.5" height="27.7" rx="3" ry="3" fill="#fff" stroke="#cccccc" stroke-width="1"/><rect x="77.5" y="452" width="32" height="11.4" fill="#00ff00"/><text x="122.0" y="462.9" font-family="DejaVu Sans, sans-serif" font-style="italic" font-size="15.3">ISB<tspan font-size="10.7" dy="3">CV</tspan></text><rect x="192.4" y="452" width="32" height="11.4" fill="#ff8c00"/><text x="236.9" y="462.9" font-family="DejaVu Sans, sans-serif" font-style="italic" font-size="15.3">ISB<tspan font-size="10.7" dy="3">RW</tspan></text><rect x="309.9" y="452" width="32" height="11.4" fill="#0000ff"/><text x="354.4" y="462.9" font-family="DejaVu Sans, sans-serif" font-style="italic" font-size="15.3">ISB<tspan font-size="10.7" dy="3">WN</tspan></text><rect x="427.0" y="452" width="32" height="11.4" fill="#ff0000"/><text x="471.5" y="462.9" font-family="DejaVu Sans, sans-serif" font-style="italic" font-size="15.3">ISB<tspan font-size="10.7" dy="3">NO</tspan></text></svg></body></html>
